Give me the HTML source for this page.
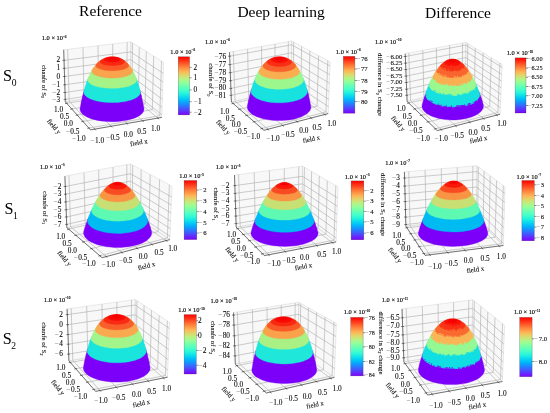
<!DOCTYPE html>
<html><head><meta charset="utf-8"><title>Figure</title>
<style>html,body{margin:0;padding:0;background:#fff}svg{display:block}</style></head>
<body>
<svg width="550" height="413" viewBox="0 0 550 413" font-family='"Liberation Serif", serif' fill="#000">
<defs><linearGradient id="rb" x1="0" y1="1" x2="0" y2="0">
<stop offset="0%" stop-color="#8000ff"/>
<stop offset="6.2%" stop-color="#6030ff"/>
<stop offset="12.5%" stop-color="#3d61ff"/>
<stop offset="18.8%" stop-color="#1690ff"/>
<stop offset="25%" stop-color="#00bbfa"/>
<stop offset="31.2%" stop-color="#0bddec"/>
<stop offset="37.5%" stop-color="#2af6da"/>
<stop offset="43.8%" stop-color="#4cffc5"/>
<stop offset="50%" stop-color="#6fffaf"/>
<stop offset="56.2%" stop-color="#95ff98"/>
<stop offset="62.5%" stop-color="#bbf081"/>
<stop offset="68.8%" stop-color="#e2d56a"/>
<stop offset="75%" stop-color="#ffb254"/>
<stop offset="81.2%" stop-color="#ff8b40"/>
<stop offset="87.5%" stop-color="#ff5e2b"/>
<stop offset="93.8%" stop-color="#ff2f16"/>
<stop offset="100%" stop-color="#ff0000"/>
</linearGradient></defs>
<g>
<path d="M90.5 129.9L161.8 117.4L130.2 91.8L65.3 101.8ZM65.3 101.8L130.2 91.8L130.9 41.8L63.7 49.8ZM161.8 117.4L130.2 91.8L130.9 41.8L163.6 62.3Z" fill="#f8f8f8" stroke="#d4d4d4" stroke-width="0.5"/>
<path d="M94.8 129.2L69.2 101.2L67.7 49.3M88.8 128.1L159.8 115.7L161.5 61M111.1 126.3L84 98.9L83 47.5M82.8 121.4L152.3 109.7L153.7 56.1M127 123.5L98.5 96.7L98 45.7M77.2 115.1L145.1 103.9L146.3 51.5M142.6 120.7L112.7 94.5L112.7 44M71.7 109L138.3 98.4L139.3 47.1M157.9 118.1L126.7 92.4L127.2 42.3M66.6 103.3L131.9 93.1L132.5 42.9M64 60.3L130.7 51.9L163.3 73.4M64.3 68.4L130.6 59.7L163 82M64.5 76.5L130.5 67.5L162.7 90.6M64.8 84.8L130.4 75.4L162.4 99.4M65 92.5L130.4 82.8L162.1 107.5M65.2 99.4L130.3 89.5L161.9 114.8" fill="none" stroke="#ababab" stroke-width="0.6"/>
<path d="M82.5 97.7L82.6 96.6L83.8 91.5L84.2 90.5L84.8 89.4L85.8 88.4L87 87.5L88.5 86.6L90.2 85.7L92.1 84.9L94.3 84.3L96.6 83.6L99 83.1L101.6 82.7L104.3 82.4L107 82.1L109.9 82L112.7 82L115.5 82L118.3 82.2L121 82.5L123.7 82.9L126.2 83.3L128.6 83.9L130.8 84.5L132.9 85.3L134.7 86.1L136.3 87L137.7 87.9L138.8 88.9L139.6 89.9L140.1 90.9L141.4 95.9L141.6 97L141.5 98.2L141.1 99.4L140.4 100.5L139.3 101.6L138 102.7L136.3 103.7L134.3 104.6L132.1 105.4L129.6 106.2L126.9 106.9L124 107.4L121 107.8L117.8 108.1L114.6 108.3L111.4 108.3L108.1 108.3L104.9 108L101.8 107.7L98.9 107.2L96.1 106.6L93.4 105.9L91.1 105.1L88.9 104.2L87.1 103.2L85.5 102.2L84.3 101.1L83.4 100L82.8 98.9ZM81.3 103.3L81.3 102.1L82.5 96.6L82.9 95.4L83.6 94.3L84.6 93.2L85.9 92.2L87.4 91.2L89.2 90.3L91.2 89.5L93.5 88.8L95.9 88.1L98.4 87.6L101.1 87.1L103.9 86.8L106.8 86.5L109.7 86.4L112.7 86.3L115.6 86.4L118.5 86.6L121.4 86.9L124.1 87.3L126.8 87.8L129.3 88.4L131.6 89.1L133.7 89.9L135.7 90.7L137.3 91.6L138.8 92.6L139.9 93.7L140.8 94.8L141.3 95.9L142.6 101.4L142.8 102.6L142.7 103.9L142.3 105.1L141.6 106.3L140.5 107.5L139 108.6L137.3 109.7L135.2 110.7L132.9 111.6L130.3 112.4L127.5 113.1L124.5 113.7L121.3 114.2L118 114.5L114.7 114.7L111.3 114.7L107.9 114.6L104.6 114.4L101.4 114L98.3 113.5L95.3 112.8L92.6 112.1L90.1 111.2L87.9 110.3L86 109.2L84.4 108.1L83.1 107L82.1 105.8L81.5 104.6ZM80 109.5L80.1 108.2L81.3 102.1L81.7 100.9L82.4 99.7L83.5 98.5L84.8 97.5L86.4 96.4L88.3 95.5L90.4 94.6L92.7 93.8L95.2 93.1L97.9 92.5L100.7 92L103.6 91.7L106.6 91.4L109.6 91.2L112.7 91.2L115.7 91.3L118.7 91.5L121.7 91.8L124.6 92.2L127.3 92.8L129.9 93.4L132.3 94.1L134.6 95L136.6 95.9L138.3 96.9L139.8 97.9L141 99L141.9 100.2L142.5 101.4L142.8 102.6L144 108.8L143.9 110.1L143.5 111.4L142.7 112.7L141.6 114L140.1 115.2L138.3 116.3L136.1 117.4L133.7 118.4L131 119.2L128.1 120L125 120.6L121.7 121.1L118.3 121.5L114.8 121.7L111.2 121.7L107.7 121.6L104.2 121.3L100.9 120.9L97.6 120.4L94.6 119.7L91.8 118.9L89.2 118L86.9 116.9L84.9 115.8L83.2 114.7L81.9 113.4L80.9 112.1L80.3 110.8Z" fill="#7c00f9" stroke="#7c00f9" stroke-width="0.35"/>
<path d="M86.4 84L86.5 83L86.8 82.1L88 78.5L88.6 77.7L89.4 76.9L90.4 76.1L91.7 75.3L93.2 74.6L94.9 74L96.7 73.4L98.7 72.9L100.8 72.5L103.1 72.2L105.4 71.9L107.8 71.7L110.2 71.6L112.7 71.6L115.1 71.6L117.6 71.8L119.9 72L122.2 72.3L124.4 72.7L126.5 73.1L128.4 73.7L130.2 74.3L131.8 74.9L133.2 75.7L134.4 76.4L135.3 77.2L136 78.1L136.4 78.9L137.7 82.5L137.9 83.4L137.8 84.4L137.4 85.3L136.8 86.2L135.9 87.1L134.6 88L133.2 88.8L131.4 89.6L129.5 90.3L127.3 90.9L125 91.4L122.5 91.8L119.9 92.2L117.1 92.4L114.4 92.6L111.5 92.6L108.7 92.5L106 92.3L103.3 92.1L100.7 91.7L98.3 91.2L96 90.6L93.9 90L92.1 89.2L90.5 88.5L89.1 87.6L88 86.7L87.2 85.8L86.7 84.9ZM85.1 88.1L85.1 87L86.4 83L86.7 82.1L87.3 81.2L88.2 80.3L89.3 79.4L90.6 78.6L92.2 77.9L93.9 77.2L95.9 76.6L98 76.1L100.2 75.6L102.6 75.2L105 74.9L107.5 74.7L110.1 74.6L112.7 74.6L115.3 74.7L117.8 74.8L120.3 75.1L122.7 75.4L125 75.8L127.2 76.3L129.2 76.9L131.1 77.5L132.8 78.2L134.2 79L135.5 79.8L136.5 80.7L137.2 81.6L137.7 82.5L139 86.5L139.2 87.5L139.1 88.5L138.7 89.5L138 90.5L137 91.5L135.8 92.4L134.2 93.3L132.4 94.1L130.4 94.8L128.1 95.5L125.6 96L123 96.5L120.2 96.9L117.4 97.1L114.4 97.3L111.5 97.3L108.5 97.2L105.6 97L102.8 96.7L100.1 96.3L97.5 95.8L95.1 95.2L93 94.5L91 93.7L89.3 92.9L87.9 92L86.8 91L85.9 90.1L85.4 89.1ZM83.8 92.6L83.9 91.5L85.1 87L85.5 86L86.1 85.1L87 84.1L88.1 83.2L89.5 82.4L91.2 81.6L93 80.9L95.1 80.2L97.3 79.6L99.6 79.1L102.1 78.7L104.7 78.4L107.3 78.2L110 78.1L112.7 78.1L115.4 78.1L118.1 78.3L120.7 78.6L123.2 78.9L125.6 79.4L127.9 79.9L130 80.5L132 81.2L133.8 81.9L135.3 82.7L136.6 83.6L137.6 84.5L138.4 85.5L138.9 86.5L140.2 90.9L140.4 92L140.3 93.1L139.9 94.2L139.2 95.2L138.2 96.3L136.9 97.3L135.3 98.2L133.4 99.1L131.2 99.9L128.8 100.6L126.3 101.2L123.5 101.7L120.6 102.1L117.6 102.4L114.5 102.5L111.4 102.6L108.3 102.5L105.3 102.3L102.3 101.9L99.5 101.5L96.8 100.9L94.3 100.3L92 99.5L90 98.7L88.2 97.8L86.7 96.8L85.5 95.8L84.6 94.8L84.1 93.7Z" fill="#1de7db" stroke="#1de7db" stroke-width="0.35"/>
<path d="M133.9 73L134 73.7L134 74.5L133.6 75.3L133.1 76L132.3 76.7L131.2 77.4L130 78.1L128.5 78.7L126.9 79.2L125 79.7L123 80.2L120.9 80.5L118.7 80.8L116.4 81L114.1 81.1L111.7 81.1L109.4 81L107 80.9L104.8 80.7L102.6 80.4L100.5 80L98.6 79.5L96.9 79L95.3 78.4L93.9 77.8L92.8 77.1L91.8 76.4L91.1 75.7L90.7 74.9L90.4 74.2L90.4 73.4L90.7 72.6L92 70.2L92.5 69.5L93.1 68.9L94 68.2L95 67.6L96.3 67.1L97.7 66.6L99.2 66.1L100.9 65.7L102.7 65.3L104.6 65L106.5 64.8L108.6 64.7L110.6 64.6L112.7 64.6L114.7 64.6L116.8 64.7L118.8 64.9L120.7 65.2L122.6 65.5L124.3 65.9L125.9 66.3L127.4 66.8L128.7 67.3L129.9 67.9L130.9 68.5L131.7 69.2L132.2 69.8L133.5 72.2ZM135.2 75.8L135.3 76.6L135.3 77.4L134.9 78.2L134.3 79L133.5 79.8L132.4 80.5L131 81.3L129.5 81.9L127.7 82.5L125.8 83L123.7 83.5L121.5 83.9L119.1 84.2L116.7 84.4L114.2 84.5L111.7 84.5L109.1 84.5L106.7 84.3L104.3 84.1L102 83.7L99.8 83.3L97.7 82.8L95.9 82.3L94.2 81.6L92.8 80.9L91.5 80.2L90.5 79.5L89.8 78.7L89.3 77.9L89.1 77L89.1 76.2L89.4 75.4L90.7 72.6L91.2 71.9L91.9 71.2L92.8 70.5L93.9 69.9L95.2 69.3L96.7 68.7L98.4 68.2L100.2 67.8L102.1 67.4L104.1 67.1L106.2 66.8L108.3 66.7L110.5 66.6L112.7 66.6L114.9 66.6L117.1 66.7L119.2 66.9L121.2 67.2L123.2 67.5L125.1 68L126.8 68.4L128.4 68.9L129.8 69.5L131 70.1L132 70.8L132.9 71.5L133.5 72.2L133.9 73ZM136.5 78.9L136.6 79.8L136.5 80.7L136.2 81.6L135.6 82.4L134.7 83.3L133.5 84.1L132.1 84.8L130.5 85.5L128.6 86.2L126.6 86.7L124.3 87.2L122 87.6L119.5 88L116.9 88.2L114.3 88.3L111.6 88.3L108.9 88.3L106.3 88.1L103.8 87.8L101.3 87.5L99 87L96.9 86.5L94.9 85.9L93.1 85.2L91.6 84.5L90.3 83.7L89.3 82.9L88.5 82L88 81.2L87.7 80.3L87.8 79.4L88.1 78.5L89.4 75.4L89.9 74.6L90.6 73.9L91.6 73.1L92.8 72.4L94.2 71.8L95.8 71.2L97.5 70.6L99.4 70.2L101.4 69.8L103.6 69.4L105.8 69.2L108 69L110.4 68.9L112.7 68.9L115 68.9L117.3 69.1L119.6 69.3L121.7 69.6L123.8 69.9L125.8 70.4L127.6 70.9L129.3 71.4L130.8 72L132.1 72.7L133.2 73.4L134.1 74.2L134.7 75L135.2 75.8Z" fill="#a6f387" stroke="#a6f387" stroke-width="0.35"/>
<path d="M99.8 71.3L98.5 70.8L97.4 70.3L96.5 69.8L95.7 69.2L95.1 68.6L94.7 68.1L94.5 67.5L94.5 66.9L94.7 66.3L95.1 65.7L96.4 64.1L96.9 63.6L97.6 63.1L98.4 62.6L99.4 62.2L100.5 61.8L101.8 61.4L103.1 61.1L104.6 60.8L106.1 60.6L107.7 60.4L109.3 60.3L111 60.2L112.7 60.2L114.3 60.3L116 60.4L117.6 60.5L119.1 60.7L120.6 61L122 61.3L123.3 61.6L124.5 62L125.6 62.4L126.5 62.8L127.3 63.3L127.9 63.8L128.4 64.4L129.7 65.9L130 66.5L130.1 67.1L130 67.7L129.7 68.3L129.3 68.9L128.6 69.5L127.7 70L126.7 70.5L125.5 71L124.2 71.4L122.7 71.8L121.1 72.2L119.3 72.4L117.6 72.6L115.7 72.8L113.8 72.9L111.9 72.9L110 72.8L108.1 72.7L106.2 72.6L104.5 72.3L102.8 72L101.2 71.7ZM128.5 64.8L129.2 65.4L129.7 65.9L131 67.7L131.3 68.4L131.4 69L131.3 69.7L131 70.3L130.5 71L129.8 71.6L128.9 72.2L127.8 72.7L126.5 73.3L125.1 73.7L123.5 74.1L121.7 74.5L119.9 74.8L117.9 75L115.9 75.2L113.9 75.3L111.8 75.3L109.8 75.3L107.7 75.1L105.7 74.9L103.8 74.7L102 74.4L100.4 74L98.8 73.5L97.4 73L96.2 72.5L95.2 71.9L94.4 71.3L93.8 70.7L93.3 70.1L93.1 69.4L93.1 68.7L93.4 68.1L93.8 67.5L95.1 65.7L95.6 65.1L96.4 64.6L97.3 64.1L98.4 63.6L99.6 63.1L100.9 62.7L102.4 62.4L103.9 62.1L105.6 61.8L107.3 61.6L109.1 61.5L110.9 61.4L112.7 61.4L114.5 61.5L116.3 61.6L118 61.7L119.7 61.9L121.3 62.2L122.8 62.5L124.2 62.9L125.5 63.3L126.7 63.8L127.7 64.3ZM129.7 66.5L130.4 67.1L130.9 67.7L132.2 69.8L132.6 70.5L132.7 71.2L132.7 71.9L132.3 72.6L131.8 73.3L131 74L130.1 74.6L128.9 75.2L127.5 75.8L126 76.3L124.2 76.8L122.4 77.2L120.4 77.5L118.3 77.7L116.2 77.9L114 78L111.8 78L109.6 78L107.4 77.9L105.3 77.6L103.2 77.4L101.3 77L99.5 76.6L97.8 76.1L96.4 75.6L95.1 75L94 74.4L93.1 73.7L92.4 73L92 72.3L91.8 71.6L91.8 70.9L92 70.2L93.3 68.1L93.8 67.5L94.4 66.9L95.2 66.3L96.2 65.7L97.3 65.2L98.6 64.7L100.1 64.3L101.6 63.9L103.3 63.6L105.1 63.3L106.9 63.1L108.8 63L110.7 62.9L112.7 62.9L114.6 62.9L116.5 63L118.4 63.2L120.2 63.4L121.9 63.7L123.6 64.1L125.1 64.5L126.5 64.9L127.7 65.4L128.8 65.9Z" fill="#f9a54d" stroke="#f9a54d" stroke-width="0.35"/>
<path d="M97.9 63.2L98.1 62.7L98.4 62.2L98.8 61.8L100.7 60.4L101.3 60L101.9 59.7L102.6 59.4L103.5 59.1L104.4 58.8L105.4 58.5L106.5 58.3L107.6 58.2L108.8 58L110.1 57.9L111.3 57.9L112.6 57.9L113.9 57.9L115.1 58L116.3 58.1L117.5 58.2L118.6 58.4L119.7 58.6L120.7 58.9L121.6 59.2L122.4 59.5L123.1 59.8L123.6 60.2L125.5 61.5L126 62L126.4 62.4L126.7 62.9L126.7 63.4L126.7 63.9L126.4 64.3L126 64.8L125.5 65.3L124.8 65.7L124 66.1L123 66.5L121.9 66.8L120.7 67.1L119.4 67.4L118 67.6L116.6 67.8L115.1 67.9L113.5 67.9L112 68L110.5 67.9L108.9 67.8L107.5 67.7L106 67.5L104.7 67.3L103.4 67L102.3 66.7L101.2 66.3L100.3 65.9L99.5 65.5L98.9 65.1L98.4 64.6L98.1 64.1L97.9 63.7ZM98.8 61.8L99.4 61.4L100.1 61L101 60.6L102 60.2L103.1 59.9L104.3 59.6L105.5 59.4L106.9 59.2L108.3 59L109.7 58.9L111.2 58.9L112.6 58.8L114.1 58.9L115.5 59L117 59.1L118.3 59.3L119.6 59.5L120.9 59.7L122 60L123.1 60.4L124 60.7L124.8 61.1L125.5 61.5L126 62L127.9 63.8L128.4 64.4L128.7 64.9L128.8 65.5L128.7 66L128.4 66.6L128 67.1L127.4 67.6L126.6 68.1L125.6 68.6L124.5 69L123.3 69.4L121.9 69.8L120.4 70.1L118.8 70.3L117.2 70.5L115.4 70.6L113.7 70.7L111.9 70.7L110.2 70.7L108.4 70.6L106.7 70.4L105.1 70.2L103.6 69.9L102.1 69.6L100.8 69.2L99.6 68.8L98.6 68.4L97.7 67.9L97 67.4L96.4 66.9L96.1 66.3L95.9 65.8L95.9 65.2L96.1 64.7L96.4 64.1L96.9 63.6Z" fill="#f95b29" stroke="#f95b29" stroke-width="0.35"/>
<path d="M122.6 60.2L122.7 60.5L122.6 60.8L122.4 61.2L122.2 61.5L121.8 61.8L121.3 62.1L120.7 62.4L120 62.7L119.2 62.9L118.3 63.1L117.4 63.3L116.4 63.4L115.4 63.6L114.3 63.6L113.2 63.7L112.1 63.7L111 63.7L110 63.6L108.9 63.5L107.9 63.4L106.9 63.2L106 63L105.2 62.8L104.5 62.5L103.8 62.3L103.2 62L102.8 61.7L102.4 61.4L102.2 61L102.1 60.7L102.1 60.4L102.2 60L102.4 59.7L102.7 59.4L103.1 59.1L103.6 58.8L104.2 58.5L105 58.3L106.4 57.8L107 57.6L107.7 57.4L108.5 57.3L109.2 57.2L110 57.1L110.9 57L111.7 57L112.6 57L113.4 57L114.2 57L115.1 57.1L115.9 57.2L116.6 57.3L117.3 57.5L118 57.6L118.6 57.8L120.1 58.4L120.8 58.6L121.3 58.9L121.8 59.2L122.2 59.5L122.5 59.8ZM112.1 65.6L110.7 65.6L109.4 65.5L108.2 65.4L107 65.2L105.8 65L104.7 64.8L103.7 64.5L102.8 64.2L102.1 63.9L101.4 63.6L100.9 63.2L100.4 62.8L100.2 62.4L100 62L100 61.6L100.1 61.2L100.4 60.8L100.8 60.4L101.3 60L101.9 59.7L103.6 58.8L104.2 58.5L104.9 58.3L105.7 58L106.6 57.8L107.5 57.7L108.4 57.5L109.4 57.4L110.5 57.3L111.5 57.3L112.6 57.3L113.6 57.3L114.7 57.4L115.7 57.4L116.7 57.6L117.6 57.7L118.5 57.9L119.3 58.1L120.1 58.4L120.7 58.6L121.3 58.9L123.1 59.8L123.7 60.2L124.1 60.6L124.5 61L124.7 61.4L124.7 61.8L124.6 62.2L124.4 62.6L124.1 63L123.6 63.3L123 63.7L122.3 64.1L121.5 64.4L120.5 64.7L119.5 64.9L118.4 65.1L117.2 65.3L116 65.5L114.7 65.6L113.4 65.6Z" fill="#f92913" stroke="#f92913" stroke-width="0.35"/>
<path d="M112.2 60.7L111.6 60.7L111 60.7L110.3 60.6L109.7 60.6L109.1 60.5L108.6 60.3L108.1 60.2L107.7 60.1L107.3 59.9L106.9 59.7L106.7 59.5L106.4 59.4L106.3 59.2L106.2 59L106.2 58.8L106.3 58.6L106.4 58.4L106.6 58.2L106.8 58L107.1 57.8L107.5 57.7L107.9 57.5L108.4 57.4L108.9 57.3L109.4 57.1L110 57.1L110.6 57L111.3 56.9L111.9 56.9L112.5 56.9L113.2 56.9L113.8 57L114.4 57L115 57.1L115.6 57.2L116.1 57.3L116.6 57.4L117.1 57.6L117.5 57.7L117.8 57.9L118.1 58.1L118.3 58.3L118.5 58.5L118.6 58.7L118.6 58.9L118.5 59.1L118.4 59.2L118.3 59.4L118 59.6L117.7 59.8L117.3 60L116.9 60.1L116.5 60.3L115.9 60.4L115.4 60.5L114.8 60.6L114.2 60.7L113.6 60.7L112.9 60.7ZM112.2 62.1L111.3 62.1L110.5 62L109.6 61.9L108.8 61.8L108 61.7L107.3 61.5L106.7 61.4L106.1 61.2L105.5 61L105.1 60.7L104.7 60.5L104.4 60.2L104.2 60L104.1 59.7L104.1 59.4L104.2 59.2L104.4 58.9L104.6 58.6L105 58.4L105.4 58.2L105.9 58L106.4 57.8L107.1 57.6L107.7 57.4L108.5 57.3L109.2 57.2L110 57.1L110.6 57L111.2 56.9L111.9 56.9L112.5 56.9L113.2 56.9L113.8 57L114.4 57L115 57.1L115.9 57.2L116.6 57.3L117.3 57.5L118 57.6L118.6 57.8L119.1 58L119.6 58.3L120 58.5L120.3 58.8L120.5 59L120.6 59.3L120.6 59.5L120.6 59.8L120.4 60.1L120.2 60.3L119.9 60.6L119.5 60.8L119 61L118.4 61.3L117.8 61.4L117.1 61.6L116.4 61.8L115.6 61.9L114.8 62L113.9 62L113.1 62.1Z" fill="#f90d06" stroke="#f90d06" stroke-width="0.35"/>
<path d="M112.3 59.6L111.9 59.6L111.4 59.6L111 59.6L110.6 59.5L110.2 59.4L109.9 59.4L109.5 59.3L109.3 59.2L109 59.1L108.8 59L108.6 58.8L108.4 58.7L108.3 58.6L108.3 58.5L108.3 58.3L108.3 58.2L108.4 58.1L108.5 57.9L108.7 57.8L108.9 57.7L109.1 57.6L109.4 57.5L109.7 57.4L110.1 57.3L110.4 57.2L110.8 57.2L111.2 57.1L111.6 57.1L112.1 57.1L112.5 57.1L112.9 57.1L113.3 57.1L113.8 57.2L114.2 57.2L114.5 57.3L114.9 57.3L115.2 57.4L115.5 57.5L115.8 57.6L116 57.7L116.2 57.9L116.3 58L116.4 58.1L116.5 58.2L116.5 58.4L116.5 58.5L116.4 58.6L116.3 58.8L116.1 58.9L115.9 59L115.7 59.1L115.4 59.2L115.1 59.3L114.8 59.4L114.4 59.5L114 59.5L113.6 59.6L113.2 59.6L112.7 59.6Z" fill="#f90000" stroke="#f90000" stroke-width="0.35"/>
<path d="M63.7 49.8L65.3 101.8L90.5 129.9L161.8 117.4" fill="none" stroke="#333" stroke-width="0.65"/>
<path d="M94 128.3L95.8 130.3M90 127.9L87.3 128.4M110.2 125.4L112.2 127.4M84 121.2L81.3 121.7M126.1 122.7L128.2 124.6M78.3 114.9L75.6 115.3M141.7 120L143.8 121.8M72.9 108.8L70.2 109.3M156.9 117.3L159.1 119.1M67.8 103.1L65 103.5M62.4 60.3L65.2 60.3M62.7 68.4L65.5 68.4M62.9 76.5L65.7 76.5M63.2 84.8L66 84.8M63.4 92.5L66.2 92.5M63.6 99.4L66.4 99.4" fill="none" stroke="#333" stroke-width="0.6"/>
<g font-size="7.3" text-anchor="middle" stroke="#111" stroke-width="0.08"><text x="60.2" y="62.4" text-anchor="end">2</text><text x="60.2" y="70.4" text-anchor="end">1</text><text x="60.2" y="78.5" text-anchor="end">0</text><text x="60.2" y="86.8" text-anchor="end"><tspan fill="#6a6a6a" stroke="none">−</tspan><tspan dx="0.5">1</tspan></text><text x="60.2" y="94.6" text-anchor="end"><tspan fill="#6a6a6a" stroke="none">−</tspan><tspan dx="0.5">2</tspan></text><text x="60.2" y="101.7" text-anchor="end"><tspan fill="#6a6a6a" stroke="none">−</tspan><tspan dx="0.5">3</tspan></text><text x="58.5" y="111.6">1.0</text><text x="64.5" y="119.2">0.5</text><text x="68.3" y="126.3">0.0</text><text x="72.5" y="133.9"><tspan fill="#6a6a6a" stroke="none">−</tspan><tspan dx="0.5">0.5</tspan></text><text x="78.7" y="140.5"><tspan fill="#6a6a6a" stroke="none">−</tspan><tspan dx="0.5">1.0</tspan></text><text x="97.2" y="142.6"><tspan fill="#6a6a6a" stroke="none">−</tspan><tspan dx="0.5">1.0</tspan></text><text x="112.7" y="140.1"><tspan fill="#6a6a6a" stroke="none">−</tspan><tspan dx="0.5">0.5</tspan></text><text x="128.3" y="136.9">0.0</text><text x="141.9" y="133.6">0.5</text><text x="155.6" y="131.1">1.0</text></g>
<g font-size="6.8" text-anchor="middle" stroke="#111" stroke-width="0.08"><text transform="translate(138.9 143) rotate(-10.5)" y="1.7">field x</text><text transform="translate(53.6 126.8) rotate(50)" y="1.7">field y</text><text transform="translate(43.7 81.6) rotate(90)" y="1.7">chanfe of S<tspan font-size="4.4" dy="1.4">0</tspan><tspan dy="-1.4"></tspan></text></g>
<text x="41.8" y="40.1" font-size="6.4" stroke="#111" stroke-width="0.16">1.0 × 10<tspan font-size="3.3" dy="-2.5">−6</tspan></text>
<rect x="178.2" y="56.8" width="11.4" height="58.1" fill="url(#rb)" stroke="#222" stroke-opacity="0.55" stroke-width="0.4"/>
<path d="M189.6 67.4h2M189.6 77.8h2M189.6 89.9h2M189.6 101.7h2M189.6 112.2h2" fill="none" stroke="#333" stroke-width="0.55"/>
<g font-size="7.3149999999999995" stroke="#111" stroke-width="0.08"><text x="193.4" y="69.8">2</text><text x="193.4" y="80.2">1</text><text x="193.4" y="92.3">0</text><text x="193.4" y="104.1"><tspan fill="#6a6a6a" stroke="none">−</tspan><tspan dx="0.5">1</tspan></text><text x="193.4" y="114.6"><tspan fill="#6a6a6a" stroke="none">−</tspan><tspan dx="0.5">2</tspan></text></g>
<text x="182.7" y="53.5" font-size="6.4" text-anchor="middle" stroke="#111" stroke-width="0.16">1.0 × 10<tspan font-size="3.3" dy="-2.5">−6</tspan></text>
</g>
<g>
<path d="M263.9 130.3L328.2 113.6L291.2 88.4L231.4 102ZM231.4 102L291.2 88.4L291.6 41L229.5 52.2ZM328.2 113.6L291.2 88.4L291.6 41L330.2 61.9Z" fill="#f8f8f8" stroke="#d4d4d4" stroke-width="0.5"/>
<path d="M267.8 129.3L235 101.1L233.3 51.5M261.9 128.5L325.9 112L327.8 60.6M282.7 125.4L248.7 98L247.6 49M254.1 121.8L317.1 106.1L318.6 55.6M297.1 121.7L262.1 95L261.5 46.5M246.8 115.4L308.8 100.4L309.9 50.9M311.1 118L275.2 92.1L275 44M239.7 109.3L300.8 95L301.6 46.4M324.7 114.5L287.9 89.2L288.3 41.6M233 103.4L293.1 89.8L293.6 42.1M229.7 56.2L291.6 44.8L330.1 66.1M230 64.6L291.5 52.8L329.7 74.7M230.3 72.7L291.5 60.5L329.4 83.2M230.6 80.7L291.4 68.1L329.1 91.5M230.9 88.4L291.3 75.5L328.8 99.5M231.1 95.3L291.2 82.1L328.5 106.7" fill="none" stroke="#ababab" stroke-width="0.6"/>
<path d="M249.8 96.7L249.8 95.5L251 90.8L251.4 89.7L252 88.5L252.9 87.4L254.1 86.3L255.5 85.3L257.2 84.4L259.1 83.6L261.2 82.8L263.5 82.1L265.9 81.5L268.5 81L271.1 80.7L273.9 80.4L276.6 80.2L279.5 80.2L282.3 80.3L285 80.4L287.8 80.7L290.4 81.1L292.9 81.6L295.3 82.2L297.6 82.9L299.6 83.7L301.5 84.6L303.1 85.5L304.5 86.6L305.7 87.6L306.5 88.7L307.1 89.9L308.3 94.5L308.6 95.7L308.5 97L308.2 98.2L307.5 99.5L306.4 100.7L305.1 101.9L303.5 103L301.5 104L299.3 104.9L296.9 105.8L294.2 106.5L291.4 107.1L288.4 107.6L285.3 108L282.1 108.2L278.8 108.2L275.6 108.1L272.4 107.9L269.3 107.5L266.3 107L263.5 106.4L260.9 105.6L258.5 104.8L256.4 103.8L254.5 102.7L252.9 101.6L251.7 100.4L250.7 99.2L250.1 98ZM248.5 101.9L248.6 100.5L249.8 95.5L250.1 94.2L250.8 93L251.7 91.8L253 90.7L254.5 89.6L256.2 88.6L258.2 87.7L260.4 86.9L262.8 86.2L265.3 85.6L268 85L270.8 84.6L273.6 84.4L276.5 84.2L279.4 84.1L282.4 84.2L285.3 84.4L288.1 84.7L290.8 85.1L293.5 85.7L296 86.3L298.3 87.1L300.5 87.9L302.4 88.8L304.1 89.8L305.6 90.9L306.8 92L307.7 93.2L308.3 94.5L309.4 99.5L309.7 100.8L309.7 102.2L309.3 103.5L308.6 104.8L307.6 106.1L306.2 107.4L304.5 108.5L302.5 109.6L300.2 110.6L297.6 111.5L294.9 112.3L291.9 113L288.7 113.5L285.5 113.9L282.2 114.1L278.8 114.1L275.4 114L272.1 113.8L268.9 113.4L265.8 112.9L262.8 112.2L260.1 111.4L257.6 110.4L255.4 109.4L253.4 108.3L251.8 107.1L250.5 105.8L249.5 104.5L248.8 103.2ZM247.3 107.5L247.3 106.1L248.5 100.5L248.9 99.2L249.6 97.9L250.6 96.7L251.9 95.5L253.5 94.3L255.3 93.3L257.4 92.3L259.6 91.5L262.1 90.7L264.7 90L267.5 89.5L270.4 89.1L273.4 88.8L276.4 88.6L279.4 88.5L282.5 88.6L285.5 88.8L288.4 89.1L291.3 89.6L294 90.2L296.6 90.8L299.1 91.6L301.3 92.5L303.3 93.5L305.1 94.6L306.6 95.7L307.9 96.9L308.8 98.2L309.4 99.5L309.7 100.8L310.9 106.4L310.9 107.8L310.5 109.3L309.8 110.7L308.7 112L307.2 113.4L305.5 114.6L303.4 115.8L301 116.9L298.3 117.8L295.5 118.7L292.4 119.4L289.1 119.9L285.7 120.3L282.2 120.5L278.7 120.6L275.2 120.5L271.8 120.2L268.4 119.8L265.2 119.2L262.1 118.5L259.3 117.6L256.7 116.7L254.4 115.6L252.3 114.4L250.7 113.1L249.3 111.8L248.3 110.4L247.6 109Z" fill="#7c00f9" stroke="#7c00f9" stroke-width="0.35"/>
<path d="M304.7 82.1L304.9 83.1L304.8 84.1L304.5 85.2L303.9 86.2L303 87.2L301.8 88.2L300.4 89.1L298.7 89.9L296.8 90.7L294.6 91.4L292.3 92L289.8 92.5L287.2 92.9L284.5 93.1L281.8 93.3L279 93.4L276.2 93.3L273.4 93.1L270.7 92.8L268.1 92.4L265.7 91.9L263.4 91.2L261.3 90.5L259.5 89.7L257.8 88.9L256.4 88L255.3 87L254.5 86L253.9 85L253.6 83.9L253.6 82.9L253.9 81.8L255.2 78.5L255.7 77.6L256.5 76.7L257.5 75.8L258.7 75L260.2 74.2L261.8 73.5L263.6 72.8L265.6 72.3L267.7 71.8L269.9 71.4L272.3 71.1L274.6 70.8L277.1 70.7L279.5 70.7L281.9 70.7L284.4 70.9L286.7 71.1L289 71.4L291.2 71.9L293.3 72.4L295.2 73L297 73.6L298.6 74.3L300 75.1L301.2 76L302.2 76.8L302.9 77.8L303.4 78.7ZM304.1 81L304.6 82.1L305.9 85.8L306.1 86.9L306.1 88L305.7 89.1L305.1 90.2L304.1 91.3L302.9 92.3L301.4 93.3L299.6 94.2L297.6 95L295.4 95.7L293 96.4L290.4 96.9L287.6 97.3L284.8 97.6L281.9 97.8L278.9 97.9L276 97.8L273.1 97.6L270.2 97.3L267.5 96.8L265 96.3L262.6 95.6L260.4 94.8L258.4 94L256.7 93.1L255.3 92.1L254.1 91L253.2 90L252.6 88.9L252.3 87.8L252.3 86.6L252.6 85.5L253.9 81.8L254.5 80.8L255.3 79.9L256.3 78.9L257.7 78L259.2 77.2L260.9 76.5L262.8 75.8L264.9 75.2L267.1 74.6L269.4 74.2L271.9 73.9L274.4 73.6L276.9 73.5L279.5 73.5L282.1 73.5L284.6 73.7L287.1 73.9L289.5 74.3L291.8 74.7L294 75.3L296 75.9L297.9 76.6L299.6 77.4L301.1 78.2L302.3 79.1L303.4 80.1ZM305.3 84.7L305.9 85.8L307.1 89.9L307.4 91.1L307.3 92.3L307 93.4L306.3 94.6L305.3 95.8L304 96.8L302.4 97.9L300.6 98.9L298.5 99.7L296.2 100.5L293.6 101.2L290.9 101.8L288 102.2L285 102.6L282 102.8L278.9 102.8L275.8 102.7L272.7 102.5L269.8 102.2L266.9 101.7L264.2 101.1L261.7 100.4L259.4 99.6L257.4 98.7L255.6 97.7L254.1 96.6L252.9 95.5L251.9 94.4L251.3 93.2L251 92L251.1 90.8L251.4 89.7L252.6 85.5L253.2 84.5L254.1 83.4L255.2 82.4L256.6 81.5L258.2 80.6L260 79.8L262 79.1L264.2 78.4L266.5 77.9L269 77.4L271.5 77.1L274.1 76.8L276.8 76.7L279.5 76.6L282.2 76.7L284.8 76.9L287.4 77.1L290 77.5L292.4 78L294.7 78.6L296.8 79.2L298.8 80L300.6 80.8L302.1 81.7L303.4 82.6L304.5 83.6Z" fill="#17e2df" stroke="#17e2df" stroke-width="0.35"/>
<path d="M257.6 73.7L257.8 72.9L259.1 70.6L259.5 69.8L260.2 69L261 68.3L262.1 67.7L263.3 67L264.6 66.5L266.2 65.9L267.8 65.5L269.6 65.1L271.5 64.7L273.4 64.5L275.4 64.3L277.5 64.2L279.5 64.2L281.6 64.2L283.6 64.3L285.6 64.5L287.6 64.8L289.4 65.1L291.2 65.6L292.8 66L294.3 66.6L295.6 67.2L296.8 67.8L297.8 68.5L298.6 69.2L299.2 70L300.5 72.2L300.9 73.1L301.1 73.9L301 74.8L300.7 75.6L300.2 76.4L299.4 77.3L298.4 78L297.1 78.8L295.7 79.4L294.1 80.1L292.3 80.6L290.3 81.1L288.2 81.5L286 81.8L283.8 82.1L281.4 82.2L279.1 82.2L276.7 82.2L274.4 82L272.1 81.8L269.9 81.4L267.9 81L266 80.5L264.2 79.9L262.6 79.3L261.2 78.6L260 77.9L259.1 77.1L258.3 76.3L257.9 75.4L257.6 74.6ZM256.3 76.4L256.5 75.5L257.8 72.9L258.3 72.1L258.9 71.3L259.8 70.5L260.9 69.8L262.2 69.1L263.7 68.5L265.3 67.9L267.1 67.4L269 67L271 66.7L273 66.4L275.2 66.2L277.3 66.1L279.5 66L281.7 66.1L283.9 66.2L286 66.4L288.1 66.7L290 67.1L291.9 67.5L293.6 68L295.2 68.6L296.6 69.2L297.9 69.9L299 70.7L299.8 71.4L300.4 72.2L300.9 73.1L302.2 75.7L302.3 76.6L302.3 77.5L302 78.5L301.4 79.3L300.6 80.2L299.5 81.1L298.2 81.8L296.7 82.6L295 83.3L293.1 83.8L291 84.4L288.8 84.8L286.4 85.1L284 85.4L281.5 85.5L279 85.6L276.5 85.5L274.1 85.3L271.7 85.1L269.3 84.7L267.1 84.3L265.1 83.7L263.2 83.1L261.5 82.4L260.1 81.7L258.8 80.9L257.8 80L257 79.2L256.5 78.3L256.3 77.4ZM254.9 79.5L255.2 78.5L256.5 75.5L257 74.7L257.7 73.8L258.7 73L259.8 72.2L261.2 71.5L262.8 70.8L264.5 70.2L266.3 69.7L268.3 69.2L270.4 68.9L272.6 68.6L274.9 68.4L277.2 68.2L279.5 68.2L281.8 68.2L284.1 68.4L286.4 68.6L288.5 68.9L290.6 69.3L292.6 69.8L294.4 70.3L296.1 71L297.6 71.6L299 72.4L300.1 73.2L301 74L301.7 74.8L302.1 75.7L303.4 78.7L303.6 79.7L303.6 80.7L303.2 81.6L302.6 82.6L301.8 83.5L300.7 84.4L299.3 85.3L297.7 86.1L295.9 86.8L293.9 87.4L291.7 88L289.3 88.4L286.8 88.8L284.3 89.1L281.7 89.2L279 89.3L276.3 89.2L273.7 89L271.2 88.7L268.7 88.4L266.4 87.9L264.3 87.3L262.3 86.6L260.5 85.9L258.9 85.1L257.6 84.2L256.6 83.3L255.8 82.4L255.2 81.4L254.9 80.5Z" fill="#9cf78d" stroke="#9cf78d" stroke-width="0.35"/>
<path d="M279.2 74L277.3 74L275.4 73.9L273.5 73.7L271.8 73.4L270.1 73.1L268.5 72.7L267.1 72.2L265.8 71.7L264.6 71.2L263.7 70.6L262.9 70L262.3 69.3L261.9 68.7L261.7 68L261.6 67.3L261.8 66.7L262.2 66L263.5 64.5L264 63.9L264.6 63.4L265.5 62.8L266.4 62.3L267.5 61.9L268.7 61.5L270.1 61.1L271.5 60.8L273 60.5L274.6 60.3L276.2 60.2L277.9 60.1L279.5 60.1L281.2 60.1L282.9 60.2L284.5 60.3L286 60.6L287.5 60.8L288.9 61.2L290.2 61.5L291.4 62L292.5 62.4L293.5 62.9L294.3 63.5L294.9 64L296.1 65.5L296.7 66.2L297 66.8L297.1 67.5L297.1 68.2L296.8 68.8L296.3 69.5L295.7 70.1L294.9 70.7L293.9 71.3L292.7 71.8L291.4 72.3L289.9 72.8L288.3 73.1L286.6 73.5L284.8 73.7L283 73.9L281.1 74ZM279.1 76.5L277.1 76.4L275 76.3L273.1 76.1L271.2 75.8L269.4 75.4L267.7 75L266.1 74.5L264.7 74L263.5 73.4L262.5 72.8L261.6 72.1L261 71.4L260.5 70.7L260.3 69.9L260.3 69.2L260.5 68.5L260.9 67.8L262.1 66L262.7 65.4L263.4 64.8L264.3 64.2L265.4 63.7L266.6 63.2L267.9 62.7L269.3 62.3L270.9 62L272.5 61.7L274.2 61.5L276 61.3L277.7 61.2L279.5 61.2L281.3 61.2L283.1 61.3L284.9 61.5L286.5 61.7L288.2 62L289.7 62.4L291.1 62.8L292.4 63.3L293.6 63.8L294.6 64.3L295.4 64.9L296.1 65.5L296.6 66.2L297.9 67.9L298.3 68.6L298.4 69.4L298.4 70.1L298.1 70.8L297.6 71.5L296.9 72.2L296 72.9L295 73.5L293.7 74.1L292.3 74.6L290.7 75.1L289 75.5L287.2 75.9L285.2 76.1L283.2 76.3L281.2 76.4ZM261.4 67.1L262.2 66.4L263.2 65.8L264.3 65.2L265.6 64.7L267 64.2L268.6 63.8L270.2 63.4L272 63.1L273.8 62.9L275.7 62.7L277.6 62.6L279.5 62.6L281.5 62.6L283.4 62.7L285.2 62.9L287.1 63.2L288.8 63.5L290.4 63.9L292 64.3L293.4 64.8L294.6 65.3L295.7 65.9L296.6 66.6L297.4 67.2L297.9 67.9L299.2 70L299.6 70.7L299.8 71.5L299.7 72.3L299.4 73.1L298.9 73.8L298.2 74.6L297.2 75.3L296.1 76L294.7 76.6L293.2 77.2L291.5 77.7L289.7 78.2L287.7 78.5L285.6 78.8L283.5 79L281.3 79.2L279.1 79.2L276.9 79.1L274.7 79L272.6 78.8L270.6 78.5L268.6 78.1L266.8 77.6L265.2 77.1L263.7 76.5L262.4 75.9L261.2 75.2L260.3 74.4L259.7 73.7L259.2 72.9L258.9 72.1L258.9 71.3L259.1 70.6L259.6 69.8L260.8 67.8Z" fill="#f9ae52" stroke="#f9ae52" stroke-width="0.35"/>
<path d="M279.2 68.9L277.7 68.9L276.2 68.8L274.7 68.6L273.3 68.4L271.9 68.2L270.7 67.9L269.5 67.5L268.4 67.1L267.5 66.7L266.7 66.2L266.1 65.7L265.6 65.2L265.2 64.7L265.1 64.2L265 63.6L265.2 63.1L265.4 62.6L265.9 62.1L266.5 61.6L268.3 60.2L268.9 59.8L269.6 59.5L270.4 59.1L271.4 58.8L272.4 58.6L273.5 58.3L274.6 58.1L275.8 58L277 57.9L278.3 57.8L279.5 57.8L280.8 57.8L282 57.9L283.3 58L284.4 58.2L285.6 58.4L286.6 58.6L287.6 58.9L288.5 59.2L289.3 59.6L290 59.9L290.6 60.3L292.5 61.7L293 62.2L293.4 62.7L293.7 63.2L293.8 63.8L293.7 64.3L293.5 64.8L293.1 65.3L292.6 65.8L291.9 66.3L291.1 66.8L290.1 67.2L289.1 67.6L287.9 67.9L286.6 68.2L285.2 68.5L283.8 68.7L282.3 68.8L280.8 68.9ZM263 65.7L263.1 65.1L263.5 64.5L264 63.9L265.9 62.1L266.4 61.6L267.2 61.1L268 60.7L269 60.3L270.1 59.9L271.2 59.6L272.5 59.3L273.8 59.1L275.2 58.9L276.6 58.8L278.1 58.7L279.5 58.7L281 58.8L282.4 58.8L283.9 59L285.2 59.2L286.6 59.4L287.8 59.7L288.9 60L290 60.4L290.9 60.8L291.8 61.2L292.4 61.7L293 62.2L294.9 64L295.4 64.6L295.7 65.2L295.8 65.8L295.7 66.5L295.5 67.1L295.1 67.7L294.5 68.2L293.7 68.8L292.8 69.3L291.7 69.8L290.4 70.3L289.1 70.7L287.6 71L286.1 71.3L284.4 71.5L282.7 71.7L281 71.8L279.2 71.8L277.4 71.8L275.7 71.7L274 71.5L272.4 71.2L270.8 71L269.4 70.6L268 70.2L266.8 69.7L265.8 69.2L264.9 68.7L264.2 68.1L263.6 67.5L263.2 66.9L263 66.3Z" fill="#f9632d" stroke="#f9632d" stroke-width="0.35"/>
<path d="M269.1 60.7L269.2 60.3L269.4 59.9L269.7 59.6L270.1 59.2L270.6 58.9L271.2 58.6L271.9 58.3L273.4 57.8L274 57.6L274.7 57.4L275.4 57.3L276.2 57.1L277 57L277.8 57L278.7 56.9L279.5 56.9L280.4 56.9L281.2 57L282 57L282.8 57.2L283.6 57.3L284.3 57.5L284.9 57.6L285.5 57.9L287 58.4L287.7 58.7L288.3 59L288.8 59.3L289.2 59.7L289.5 60L289.6 60.4L289.7 60.8L289.7 61.1L289.5 61.5L289.2 61.9L288.8 62.2L288.4 62.6L287.8 62.9L287.1 63.2L286.3 63.5L285.5 63.7L284.5 63.9L283.6 64.1L282.5 64.2L281.5 64.3L280.4 64.4L279.3 64.4L278.2 64.4L277.1 64.3L276.1 64.2L275.1 64.1L274.1 63.9L273.2 63.7L272.4 63.4L271.6 63.1L270.9 62.8L270.4 62.5L269.9 62.2L269.5 61.8L269.3 61.4L269.2 61.1ZM279.3 66.5L278 66.4L276.7 66.4L275.4 66.2L274.2 66.1L273 65.8L271.9 65.6L270.9 65.3L270 64.9L269.2 64.6L268.5 64.2L268 63.8L267.6 63.3L267.3 62.9L267.1 62.4L267.1 62L267.2 61.5L267.4 61.1L267.8 60.7L268.3 60.2L268.9 59.8L270.6 58.9L271.2 58.6L271.9 58.3L272.7 58.1L273.5 57.8L274.4 57.6L275.4 57.5L276.4 57.4L277.4 57.3L278.5 57.2L279.5 57.2L280.6 57.2L281.6 57.3L282.6 57.4L283.6 57.5L284.6 57.7L285.5 57.9L286.3 58.1L287 58.4L287.7 58.7L288.3 59L290 59.9L290.6 60.3L291.1 60.7L291.5 61.2L291.7 61.6L291.7 62.1L291.7 62.5L291.5 63L291.2 63.4L290.7 63.9L290.1 64.3L289.4 64.7L288.6 65L287.7 65.3L286.7 65.6L285.6 65.9L284.4 66.1L283.2 66.3L281.9 66.4L280.6 66.4Z" fill="#f92e15" stroke="#f92e15" stroke-width="0.35"/>
<path d="M279.4 61.2L278.7 61.1L278.1 61.1L277.4 61L276.8 61L276.2 60.9L275.7 60.7L275.2 60.6L274.8 60.4L274.4 60.2L274 60L273.7 59.8L273.5 59.6L273.3 59.4L273.3 59.2L273.2 59L273.3 58.7L273.4 58.5L273.6 58.3L273.8 58.1L274.1 57.9L274.5 57.7L274.9 57.6L275.4 57.4L275.9 57.3L276.4 57.1L277 57L277.6 57L278.2 56.9L278.8 56.9L279.5 56.9L280.1 56.9L280.8 56.9L281.4 57L282 57.1L282.5 57.2L283.1 57.3L283.6 57.4L284 57.6L284.4 57.8L284.8 57.9L285.1 58.1L285.3 58.4L285.5 58.6L285.6 58.8L285.6 59L285.6 59.2L285.5 59.5L285.3 59.7L285.1 59.9L284.8 60.1L284.4 60.3L284 60.5L283.5 60.6L283 60.8L282.5 60.9L281.9 61L281.3 61.1L280.7 61.1L280 61.1ZM279.3 62.6L278.5 62.6L277.6 62.6L276.8 62.5L275.9 62.4L275.2 62.2L274.5 62.1L273.8 61.9L273.2 61.6L272.7 61.4L272.2 61.1L271.8 60.9L271.5 60.6L271.3 60.3L271.2 60L271.2 59.7L271.3 59.4L271.4 59.1L271.7 58.8L272 58.5L272.4 58.3L272.9 58L273.4 57.8L274 57.6L274.7 57.4L275.4 57.3L276.2 57.1L277 57L277.6 57L278.2 56.9L278.8 56.9L279.5 56.9L280.1 56.9L280.8 56.9L281.4 57L282 57L282.8 57.2L283.6 57.3L284.3 57.5L284.9 57.6L285.5 57.9L286.1 58.1L286.6 58.3L286.9 58.6L287.3 58.9L287.5 59.2L287.6 59.5L287.7 59.8L287.6 60.1L287.5 60.4L287.3 60.6L287 60.9L286.6 61.2L286.1 61.5L285.5 61.7L284.9 61.9L284.2 62.1L283.5 62.3L282.7 62.4L281.9 62.5L281.1 62.6L280.2 62.6Z" fill="#f90e07" stroke="#f90e07" stroke-width="0.35"/>
<path d="M279.4 59.9L278.9 59.9L278.5 59.9L278.1 59.8L277.7 59.8L277.3 59.7L276.9 59.6L276.6 59.5L276.3 59.4L276 59.3L275.8 59.2L275.6 59.1L275.5 58.9L275.4 58.8L275.3 58.6L275.3 58.5L275.3 58.3L275.4 58.2L275.5 58L275.7 57.9L275.9 57.8L276.1 57.6L276.4 57.5L276.7 57.4L277 57.3L277.4 57.3L277.8 57.2L278.2 57.1L278.6 57.1L279 57.1L279.5 57.1L279.9 57.1L280.3 57.1L280.7 57.1L281.1 57.2L281.5 57.3L281.9 57.4L282.2 57.4L282.5 57.6L282.8 57.7L283 57.8L283.2 57.9L283.3 58.1L283.5 58.2L283.5 58.4L283.5 58.5L283.5 58.7L283.4 58.8L283.3 58.9L283.2 59.1L283 59.2L282.7 59.3L282.5 59.5L282.2 59.6L281.8 59.7L281.5 59.7L281.1 59.8L280.7 59.9L280.2 59.9L279.8 59.9Z" fill="#f90000" stroke="#f90000" stroke-width="0.35"/>
<path d="M229.5 52.2L231.4 102L263.9 130.3L328.2 113.6" fill="none" stroke="#333" stroke-width="0.65"/>
<path d="M266.9 128.5L269.1 130.3M263 128.2L260.3 128.9M281.7 124.7L283.9 126.4M255.3 121.5L252.6 122.1M296.1 120.9L298.3 122.6M247.9 115.1L245.2 115.7M310.1 117.3L312.4 119M240.9 109L238.2 109.6M323.7 113.8L326 115.4M234.2 103.2L231.5 103.8M228.1 56.2L230.9 56.2M228.4 64.6L231.2 64.6M228.7 72.7L231.5 72.7M229 80.7L231.8 80.7M229.3 88.4L232.1 88.4M229.5 95.3L232.3 95.3" fill="none" stroke="#333" stroke-width="0.6"/>
<g font-size="7.3" text-anchor="middle" stroke="#111" stroke-width="0.08"><text x="226.1" y="58.5" text-anchor="end"><tspan fill="#6a6a6a" stroke="none">−</tspan><tspan dx="0.5">76</tspan></text><text x="226.1" y="66.6" text-anchor="end"><tspan fill="#6a6a6a" stroke="none">−</tspan><tspan dx="0.5">77</tspan></text><text x="226.1" y="74.6" text-anchor="end"><tspan fill="#6a6a6a" stroke="none">−</tspan><tspan dx="0.5">78</tspan></text><text x="226.1" y="82.6" text-anchor="end"><tspan fill="#6a6a6a" stroke="none">−</tspan><tspan dx="0.5">79</tspan></text><text x="226.1" y="90.4" text-anchor="end"><tspan fill="#6a6a6a" stroke="none">−</tspan><tspan dx="0.5">80</tspan></text><text x="226.1" y="97.5" text-anchor="end"><tspan fill="#6a6a6a" stroke="none">−</tspan><tspan dx="0.5">81</tspan></text><text x="224.5" y="113.7">1.0</text><text x="230.4" y="120.6">0.5</text><text x="236.2" y="127.1">0.0</text><text x="240.3" y="133.7"><tspan fill="#6a6a6a" stroke="none">−</tspan><tspan dx="0.5">0.5</tspan></text><text x="253.3" y="139.1"><tspan fill="#6a6a6a" stroke="none">−</tspan><tspan dx="0.5">1.0</tspan></text><text x="272.8" y="140.6"><tspan fill="#6a6a6a" stroke="none">−</tspan><tspan dx="0.5">1.0</tspan></text><text x="287.9" y="136.5"><tspan fill="#6a6a6a" stroke="none">−</tspan><tspan dx="0.5">0.5</tspan></text><text x="303.9" y="132.9">0.0</text><text x="317.1" y="129.9">0.5</text><text x="331.7" y="126.3">1.0</text></g>
<g font-size="6.8" text-anchor="middle" stroke="#111" stroke-width="0.08"><text transform="translate(311.5 139.6) rotate(-12)" y="1.7">field x</text><text transform="translate(222.8 127.6) rotate(48)" y="1.7">field y</text><text transform="translate(210.5 79.9) rotate(90)" y="1.7">chanfe of S<tspan font-size="4.4" dy="1.4">0</tspan><tspan dy="-1.4"></tspan></text></g>
<text x="205.1" y="43.7" font-size="6.4" stroke="#111" stroke-width="0.16">1.0 × 10<tspan font-size="3.3" dy="-2.5">−6</tspan></text>
<rect x="343.3" y="56.4" width="11.6" height="56.8" fill="url(#rb)" stroke="#222" stroke-opacity="0.55" stroke-width="0.4"/>
<path d="M354.9 58.5h2M354.9 69h2M354.9 80.5h2M354.9 91.4h2M354.9 101.6h2" fill="none" stroke="#333" stroke-width="0.55"/>
<g font-size="6.744999999999999" stroke="#111" stroke-width="0.08"><text x="356.7" y="60.7"><tspan fill="#6a6a6a" stroke="none">−</tspan><tspan dx="0.5">76</tspan></text><text x="356.7" y="71.2"><tspan fill="#6a6a6a" stroke="none">−</tspan><tspan dx="0.5">77</tspan></text><text x="356.7" y="82.7"><tspan fill="#6a6a6a" stroke="none">−</tspan><tspan dx="0.5">78</tspan></text><text x="356.7" y="93.6"><tspan fill="#6a6a6a" stroke="none">−</tspan><tspan dx="0.5">79</tspan></text><text x="356.7" y="103.8"><tspan fill="#6a6a6a" stroke="none">−</tspan><tspan dx="0.5">80</tspan></text></g>
<text x="348.2" y="53.6" font-size="6.4" text-anchor="middle" stroke="#111" stroke-width="0.16">1.0 × 10<tspan font-size="3.3" dy="-2.5">−6</tspan></text>
</g>
<g>
<path d="M437.3 130.6L500.1 114.2L465.4 88.1L407.1 101.5ZM407.1 101.5L465.4 88.1L465.9 42.4L405.2 53.7ZM500.1 114.2L465.4 88.1L465.9 42.4L502.2 64.4Z" fill="#f8f8f8" stroke="#d4d4d4" stroke-width="0.5"/>
<path d="M441.1 129.6L410.6 100.7L408.8 53M435.4 128.8L497.9 112.5L499.9 63M455.6 125.8L423.9 97.6L422.8 50.4M428.2 121.9L489.7 106.4L491.3 57.8M469.6 122.1L437 94.6L436.4 47.8M421.4 115.3L481.9 100.5L483.1 52.8M483.3 118.6L449.7 91.7L449.6 45.4M414.8 109L474.4 94.9L475.2 48M496.7 115L462.2 88.9L462.6 43M408.6 103L467.2 89.5L467.8 43.5M405.3 56.5L465.8 45.1L502.1 67.4M405.5 63.2L465.8 51.5L501.8 74.4M405.8 69.6L465.7 57.6L501.5 81.1M406 76.1L465.6 63.8L501.2 87.8M406.3 82.5L465.6 69.9L501 94.4M406.6 89.2L465.5 76.3L500.7 101.4M406.8 95.3L465.4 82.2L500.4 107.8" fill="none" stroke="#ababab" stroke-width="0.6"/>
<path d="M480.8 96.8L481 98.1L480.9 99.4L480.5 100.7L479.8 102L478.7 103.2L477.4 104.4L475.7 105.5L473.8 106.6L471.7 107.5L469.3 108.4L466.7 109.1L463.9 109.7L461 110.2L458 110.5L454.9 110.7L451.8 110.7L448.7 110.6L445.6 110.3L442.7 109.9L439.8 109.4L437.1 108.7L434.7 107.9L432.4 107L430.4 106L428.6 104.9L427.2 103.7L426 102.5L425.1 101.3L424.6 100L424.3 98.7L424.4 97.4L424.8 96.1L426 92.7L426.6 91.5L427.5 90.4L428.7 89.3L430.2 88.2L431.8 87.3L433.7 86.4L435.7 85.6L438 84.9L440.3 84.4L442.8 83.9L445.4 83.5L448 83.2L450.7 83.1L453.4 83.1L456.1 83.2L458.8 83.4L461.4 83.7L463.9 84.1L466.3 84.7L468.6 85.3L470.8 86.1L472.7 86.9L474.5 87.8L476 88.8L477.3 89.9L478.3 91L479.1 92.2L479.6 93.4ZM482 100.5L482.2 101.8L482.1 103.2L481.7 104.6L480.9 105.9L479.9 107.2L478.5 108.5L476.8 109.7L474.8 110.8L472.5 111.8L470 112.7L467.3 113.5L464.4 114.1L461.4 114.6L458.2 115L455 115.2L451.8 115.2L448.5 115.1L445.3 114.8L442.2 114.4L439.3 113.8L436.5 113.1L433.9 112.2L431.5 111.2L429.4 110.2L427.6 109L426.1 107.8L424.9 106.5L424 105.2L423.4 103.8L423.2 102.4L423.2 101L423.7 99.7L424.8 96.1L425.5 94.8L426.5 93.6L427.7 92.5L429.2 91.4L430.9 90.4L432.9 89.5L435 88.6L437.3 87.9L439.8 87.3L442.4 86.8L445.1 86.4L447.8 86.1L450.7 86L453.5 86L456.3 86L459.1 86.3L461.8 86.6L464.4 87.1L467 87.6L469.3 88.3L471.6 89.1L473.6 90L475.4 91L477 92L478.4 93.1L479.5 94.3L480.3 95.5L480.8 96.8ZM422 106.4L422.1 104.9L422.5 103.5L423.7 99.7L424.4 98.4L425.4 97.1L426.7 95.9L428.3 94.7L430.1 93.7L432.1 92.7L434.3 91.8L436.8 91.1L439.3 90.4L442 89.9L444.8 89.5L447.7 89.2L450.6 89L453.5 89L456.5 89.1L459.4 89.3L462.2 89.7L464.9 90.2L467.5 90.8L470 91.5L472.3 92.3L474.5 93.2L476.4 94.3L478.1 95.4L479.5 96.6L480.6 97.8L481.5 99.1L482 100.5L483.2 104.3L483.4 105.7L483.3 107.2L482.9 108.6L482.1 110.1L481 111.5L479.5 112.8L477.8 114.1L475.7 115.2L473.4 116.3L470.8 117.3L468 118.1L464.9 118.8L461.8 119.3L458.5 119.7L455.1 119.9L451.7 119.9L448.4 119.8L445 119.5L441.8 119L438.7 118.4L435.8 117.6L433.1 116.7L430.7 115.7L428.5 114.6L426.6 113.4L425 112L423.7 110.7L422.8 109.3L422.2 107.8Z" fill="#7c00f9" stroke="#7c00f9" stroke-width="0.35"/>
<path d="M477.1 87L477.3 88.1L477.2 89.2L476.8 90.2L476.2 91.3L475.2 92.3L474.1 93.3L472.6 94.3L471 95.1L469.1 95.9L467 96.6L464.8 97.2L462.4 97.7L459.8 98.1L457.2 98.4L454.5 98.5L451.8 98.6L449.2 98.5L446.5 98.3L444 97.9L441.5 97.5L439.2 96.9L437 96.2L435 95.5L433.3 94.7L431.7 93.7L430.5 92.8L429.4 91.8L428.7 90.7L428.2 89.6L427.9 88.6L428 87.5L428.3 86.4L429.5 83.5L430.1 82.5L430.9 81.6L431.9 80.7L433.1 79.8L434.5 79L436.1 78.3L437.9 77.6L439.8 77.1L441.9 76.6L444 76.2L446.3 75.9L448.6 75.6L450.9 75.5L453.3 75.5L455.6 75.6L457.9 75.8L460.2 76L462.4 76.4L464.5 76.8L466.5 77.4L468.3 78L470 78.7L471.5 79.5L472.8 80.3L473.9 81.2L474.8 82.1L475.5 83.1L476.7 85.9ZM478.3 90.1L478.5 91.2L478.4 92.4L478 93.5L477.4 94.7L476.4 95.8L475.2 96.8L473.7 97.8L471.9 98.7L470 99.6L467.8 100.3L465.4 101L462.9 101.5L460.2 101.9L457.5 102.2L454.7 102.4L451.8 102.4L449 102.3L446.2 102.1L443.5 101.7L440.9 101.2L438.5 100.6L436.2 99.9L434.1 99.1L432.3 98.2L430.7 97.3L429.3 96.2L428.3 95.2L427.5 94L427 92.9L426.7 91.7L426.8 90.6L427.1 89.4L428.3 86.4L428.9 85.3L429.7 84.3L430.8 83.4L432.1 82.5L433.6 81.6L435.3 80.8L437.2 80.1L439.2 79.5L441.4 79L443.6 78.6L446 78.2L448.4 78L450.8 77.9L453.3 77.9L455.8 77.9L458.2 78.1L460.6 78.4L462.9 78.8L465.1 79.3L467.2 79.9L469.1 80.5L470.9 81.3L472.5 82.1L473.9 83L475.1 83.9L476 84.9L476.7 85.9L477.1 87ZM479.6 93.4L479.8 94.6L479.7 95.8L479.3 97L478.6 98.2L477.6 99.4L476.3 100.5L474.7 101.6L472.9 102.6L470.8 103.5L468.5 104.3L466 104.9L463.4 105.5L460.6 106L457.7 106.3L454.8 106.4L451.8 106.5L448.8 106.4L445.9 106.1L443.1 105.7L440.4 105.2L437.8 104.6L435.4 103.8L433.3 103L431.3 102L429.7 101L428.2 99.9L427.1 98.7L426.3 97.5L425.8 96.3L425.5 95.1L425.6 93.9L426 92.7L427.1 89.4L427.8 88.3L428.6 87.3L429.8 86.2L431.1 85.3L432.7 84.4L434.5 83.5L436.5 82.8L438.6 82.1L440.8 81.6L443.2 81.1L445.7 80.8L448.2 80.5L450.8 80.4L453.4 80.4L456 80.5L458.5 80.7L461 81L463.4 81.4L465.7 81.9L467.9 82.5L470 83.2L471.8 84L473.5 84.9L475 85.8L476.2 86.8L477.2 87.9L477.9 89L478.4 90.1Z" fill="#16e1e0" stroke="#16e1e0" stroke-width="0.35"/>
<path d="M470.5 74.1L471.2 74.9L471.8 75.6L473 78L473.4 78.8L473.5 79.7L473.4 80.6L473.1 81.5L472.5 82.4L471.7 83.2L470.7 84L469.5 84.8L468.1 85.5L466.5 86.1L464.7 86.7L462.8 87.2L460.8 87.6L458.6 87.9L456.4 88.1L454.2 88.2L451.9 88.2L449.7 88.2L447.4 88L445.3 87.7L443.2 87.4L441.2 86.9L439.4 86.4L437.7 85.8L436.2 85.1L434.9 84.3L433.8 83.5L432.9 82.7L432.3 81.9L431.9 81L431.7 80.1L431.7 79.2L431.9 78.3L433.2 76L433.6 75.2L434.3 74.4L435.1 73.7L436.1 73L437.3 72.3L438.7 71.7L440.2 71.2L441.8 70.7L443.5 70.3L445.3 70L447.2 69.7L449.2 69.5L451.1 69.4L453.1 69.4L455.1 69.5L457.1 69.6L459 69.9L460.8 70.2L462.6 70.5L464.3 71L465.8 71.5L467.2 72.1L468.5 72.7L469.6 73.4ZM471.7 76.3L472.4 77.1L473 78L474.2 80.4L474.6 81.4L474.8 82.3L474.7 83.3L474.3 84.2L473.7 85.2L472.9 86.1L471.8 86.9L470.5 87.7L469 88.5L467.3 89.2L465.5 89.8L463.5 90.3L461.3 90.8L459 91.1L456.7 91.3L454.3 91.5L451.9 91.5L449.5 91.4L447.1 91.2L444.8 90.9L442.6 90.5L440.5 90L438.6 89.5L436.8 88.8L435.2 88.1L433.9 87.3L432.7 86.4L431.8 85.6L431.1 84.6L430.6 83.7L430.4 82.7L430.4 81.8L430.7 80.8L432 78.3L432.4 77.5L433.1 76.6L434 75.8L435.1 75.1L436.4 74.4L437.8 73.8L439.4 73.2L441.1 72.7L443 72.2L444.9 71.9L446.9 71.6L449 71.4L451.1 71.3L453.2 71.3L455.3 71.4L457.4 71.5L459.4 71.7L461.4 72.1L463.2 72.5L465 72.9L466.7 73.5L468.2 74.1L469.5 74.8L470.7 75.5ZM472.8 78.7L473.6 79.5L474.3 80.4L475.5 83.1L475.9 84.1L476 85.1L475.9 86.1L475.6 87.1L474.9 88.1L474.1 89.1L472.9 90L471.6 90.9L470 91.7L468.2 92.5L466.2 93.1L464.1 93.7L461.8 94.2L459.4 94.5L457 94.8L454.4 94.9L451.9 94.9L449.3 94.8L446.8 94.6L444.4 94.3L442.1 93.9L439.9 93.4L437.8 92.8L435.9 92.1L434.3 91.3L432.8 90.4L431.6 89.5L430.6 88.6L429.9 87.6L429.4 86.6L429.2 85.6L429.2 84.5L429.5 83.5L430.7 80.8L431.2 79.9L432 79L432.9 78.2L434.1 77.4L435.5 76.6L437 75.9L438.7 75.3L440.5 74.8L442.4 74.3L444.5 73.9L446.6 73.6L448.8 73.4L451 73.3L453.2 73.3L455.4 73.4L457.6 73.5L459.8 73.8L461.9 74.1L463.9 74.6L465.7 75.1L467.5 75.7L469.1 76.3L470.5 77L471.8 77.8Z" fill="#9bf88e" stroke="#9bf88e" stroke-width="0.35"/>
<path d="M440.5 77.7L439.2 77.1L438.2 76.6L437.3 75.9L436.5 75.3L436 74.6L435.6 73.9L435.4 73.2L435.5 72.5L435.7 71.8L436 71.1L437.3 69.4L437.8 68.7L438.4 68.2L439.3 67.6L440.2 67.1L441.3 66.6L442.5 66.2L443.8 65.8L445.2 65.5L446.7 65.2L448.2 65L449.8 64.9L451.4 64.8L453 64.8L454.6 64.9L456.2 65L457.7 65.1L459.2 65.4L460.6 65.7L462 66L463.2 66.4L464.4 66.9L465.4 67.4L466.2 67.9L467 68.5L467.6 69.1L468.8 70.8L469.2 71.5L469.5 72.2L469.6 72.9L469.5 73.6L469.2 74.3L468.8 75L468.1 75.7L467.3 76.3L466.3 76.9L465.1 77.5L463.8 78L462.4 78.4L460.8 78.8L459.2 79.1L457.5 79.4L455.7 79.5L453.8 79.6L452 79.6L450.2 79.6L448.4 79.4L446.6 79.2L444.9 78.9L443.3 78.6L441.8 78.2ZM468.2 70.2L468.8 70.8L469.3 71.5L470.5 73.5L470.8 74.2L470.9 75L470.8 75.8L470.5 76.5L470 77.3L469.3 78L468.4 78.7L467.4 79.3L466.1 79.9L464.7 80.5L463.2 81L461.5 81.4L459.7 81.7L457.9 82L455.9 82.2L454 82.3L452 82.3L450 82.3L448 82.1L446.2 81.9L444.3 81.6L442.6 81.2L441 80.7L439.5 80.2L438.2 79.6L437.1 79L436.1 78.3L435.3 77.6L434.7 76.9L434.4 76.1L434.2 75.3L434.2 74.6L434.4 73.8L434.8 73.1L436 71.1L436.6 70.5L437.3 69.8L438.2 69.2L439.2 68.7L440.4 68.2L441.7 67.7L443.1 67.3L444.6 66.9L446.2 66.7L447.9 66.4L449.6 66.3L451.3 66.2L453 66.2L454.8 66.2L456.5 66.4L458.1 66.6L459.7 66.8L461.3 67.1L462.7 67.5L464.1 68L465.3 68.4L466.4 69L467.4 69.6ZM469.3 72.1L470 72.8L470.5 73.5L471.8 75.6L472.1 76.5L472.2 77.3L472.1 78.1L471.8 78.9L471.3 79.7L470.5 80.5L469.6 81.3L468.4 82L467.1 82.6L465.6 83.2L463.9 83.7L462.1 84.2L460.2 84.6L458.2 84.9L456.2 85.1L454.1 85.2L451.9 85.2L449.8 85.1L447.7 85L445.7 84.7L443.8 84.4L441.9 83.9L440.2 83.4L438.6 82.9L437.2 82.3L436 81.6L435 80.8L434.1 80.1L433.5 79.3L433.1 78.5L432.9 77.6L432.9 76.8L433.2 76L433.6 75.2L434.8 73.1L435.4 72.4L436.2 71.7L437.2 71L438.3 70.4L439.5 69.9L440.9 69.4L442.5 68.9L444.1 68.5L445.8 68.2L447.5 68L449.4 67.8L451.2 67.7L453.1 67.7L454.9 67.8L456.8 67.9L458.6 68.1L460.3 68.4L461.9 68.8L463.5 69.2L464.9 69.6L466.3 70.2L467.5 70.8L468.5 71.4Z" fill="#f9af52" stroke="#f9af52" stroke-width="0.35"/>
<path d="M439.5 66.4L441.4 64.5L441.9 64.1L442.5 63.7L443.2 63.3L444 62.9L444.9 62.6L445.9 62.3L446.9 62.1L448.1 61.9L449.2 61.8L450.4 61.6L451.6 61.6L452.8 61.6L454 61.6L455.2 61.7L456.4 61.8L457.6 62L458.6 62.2L459.6 62.5L460.6 62.8L461.4 63.1L462.2 63.5L462.9 63.9L463.4 64.3L463.8 64.8L465.7 66.7L466.1 67.3L466.3 67.8L466.3 68.4L466.3 69L466 69.5L465.6 70.1L465.1 70.6L464.4 71.1L463.6 71.6L462.7 72L461.6 72.4L460.5 72.7L459.2 73L457.9 73.3L456.5 73.5L455 73.6L453.6 73.7L452.1 73.7L450.6 73.7L449.1 73.6L447.7 73.4L446.3 73.2L445.1 72.9L443.9 72.5L442.7 72.2L441.8 71.7L440.9 71.3L440.1 70.8L439.6 70.3L439.1 69.7L438.8 69.2L438.6 68.6L438.6 68.1L438.8 67.5L439.1 67ZM437.3 69.4L439.1 67L439.6 66.4L440.1 65.9L440.9 65.5L441.7 65L442.7 64.6L443.7 64.2L444.8 63.9L446.1 63.6L447.4 63.4L448.7 63.2L450.1 63.1L451.5 63L452.9 63L454.3 63.1L455.7 63.2L457.1 63.3L458.4 63.5L459.6 63.8L460.8 64.1L461.9 64.4L462.9 64.8L463.8 65.3L464.6 65.7L465.2 66.2L465.7 66.7L467.6 69.1L468 69.7L468.2 70.3L468.3 71L468.2 71.6L468 72.3L467.5 72.9L466.9 73.5L466.1 74.1L465.2 74.6L464.1 75.1L462.9 75.6L461.6 76L460.2 76.4L458.7 76.7L457.1 76.9L455.4 77L453.7 77.1L452 77.1L450.3 77.1L448.7 77L447 76.8L445.5 76.5L444 76.2L442.6 75.8L441.4 75.3L440.2 74.9L439.3 74.3L438.4 73.8L437.7 73.2L437.2 72.5L436.9 71.9L436.7 71.3L436.7 70.6L436.9 70Z" fill="#f9652e" stroke="#f9652e" stroke-width="0.35"/>
<path d="M452.2 68L451.1 68L450.1 67.9L449.1 67.8L448.1 67.6L447.2 67.4L446.3 67.2L445.5 66.9L444.8 66.6L444.2 66.3L443.6 66L443.2 65.6L442.9 65.2L442.7 64.8L442.5 64.5L442.5 64.1L442.6 63.7L442.8 63.3L443.2 62.9L443.6 62.6L445.3 61.4L445.7 61.1L446.2 60.9L446.8 60.6L447.4 60.4L448 60.2L448.7 60.1L449.5 59.9L450.3 59.8L451.1 59.8L451.9 59.7L452.7 59.7L453.5 59.7L454.3 59.8L455.1 59.9L455.9 60L456.6 60.1L457.3 60.3L457.9 60.5L458.5 60.7L459 61L459.4 61.3L461.1 62.4L461.6 62.8L461.9 63.1L462.2 63.5L462.3 63.9L462.4 64.3L462.3 64.7L462.1 65.1L461.9 65.4L461.5 65.8L461 66.2L460.4 66.5L459.7 66.8L459 67.1L458.1 67.3L457.2 67.5L456.3 67.7L455.3 67.8L454.3 67.9L453.2 68ZM440.6 65.9L440.7 65.4L441 65L441.3 64.5L443.2 62.9L443.6 62.6L444.1 62.2L444.7 61.9L445.4 61.6L446.1 61.3L447 61.1L447.8 60.9L448.8 60.7L449.7 60.6L450.7 60.5L451.7 60.5L452.8 60.5L453.8 60.5L454.8 60.6L455.8 60.7L456.7 60.8L457.6 61L458.5 61.2L459.2 61.5L460 61.8L460.6 62.1L461.1 62.4L461.6 62.8L463.4 64.3L463.8 64.8L464.1 65.2L464.3 65.7L464.4 66.2L464.3 66.6L464.1 67.1L463.8 67.6L463.3 68L462.7 68.4L462 68.8L461.2 69.2L460.3 69.5L459.3 69.8L458.2 70.1L457.1 70.3L455.9 70.5L454.6 70.6L453.4 70.7L452.1 70.7L450.8 70.6L449.6 70.5L448.4 70.4L447.2 70.2L446.1 70L445.1 69.7L444.1 69.4L443.3 69L442.5 68.6L441.9 68.2L441.4 67.8L441 67.3L440.7 66.8L440.6 66.4Z" fill="#f92f15" stroke="#f92f15" stroke-width="0.35"/>
<path d="M446.5 61.4L446.5 61.2L446.6 61L446.8 60.7L447.1 60.5L447.4 60.3L447.7 60.1L448.1 60L448.6 59.8L449.1 59.7L449.6 59.5L450.6 59.4L450.9 59.3L451.3 59.2L451.7 59.2L452.1 59.2L452.5 59.2L453 59.2L453.4 59.2L453.8 59.3L454.1 59.3L455 59.5L455.5 59.6L456.1 59.7L456.5 59.9L457 60.1L457.3 60.2L457.7 60.4L457.9 60.7L458.1 60.9L458.3 61.1L458.4 61.3L458.4 61.6L458.4 61.8L458.2 62L458.1 62.3L457.8 62.5L457.5 62.7L457.2 62.9L456.8 63L456.3 63.2L455.8 63.4L455.3 63.5L454.7 63.6L454.1 63.7L453.5 63.7L452.9 63.7L452.3 63.8L451.6 63.7L451 63.7L450.4 63.6L449.8 63.5L449.3 63.4L448.7 63.3L448.3 63.1L447.8 63L447.5 62.8L447.1 62.6L446.9 62.3L446.7 62.1L446.5 61.9L446.5 61.7ZM452.2 65.7L451.4 65.7L450.5 65.6L449.7 65.5L448.9 65.4L448.2 65.2L447.5 65.1L446.9 64.8L446.3 64.6L445.8 64.4L445.4 64.1L445 63.8L444.8 63.5L444.6 63.2L444.5 62.9L444.5 62.6L444.6 62.3L444.7 62L445 61.7L445.3 61.4L445.7 61.1L446.2 60.9L447.7 60.1L448.2 60L448.6 59.8L449.1 59.7L449.6 59.5L450.2 59.4L450.8 59.4L451.4 59.3L452 59.3L452.6 59.3L453.2 59.3L453.8 59.3L454.4 59.4L455 59.5L455.6 59.6L456.1 59.7L456.5 59.9L457 60.1L458.5 60.7L459 61L459.4 61.3L459.8 61.5L460 61.8L460.2 62.1L460.4 62.4L460.4 62.8L460.3 63.1L460.2 63.4L460 63.7L459.7 64L459.3 64.2L458.8 64.5L458.2 64.8L457.6 65L457 65.2L456.3 65.3L455.5 65.5L454.7 65.6L453.9 65.6L453 65.7Z" fill="#f90f07" stroke="#f90f07" stroke-width="0.35"/>
<path d="M452.3 62.2L451.9 62.1L451.5 62.1L451.1 62.1L450.7 62L450.3 61.9L450 61.8L449.7 61.7L449.4 61.6L449.1 61.5L448.9 61.4L448.7 61.2L448.6 61.1L448.5 60.9L448.4 60.8L448.4 60.6L448.5 60.5L448.6 60.3L448.7 60.2L448.8 60L449 59.9L449.3 59.8L449.6 59.6L449.9 59.5L450.2 59.4L450.5 59.4L450.9 59.3L451.3 59.2L451.7 59.2L452.1 59.2L452.5 59.2L452.9 59.2L453.4 59.2L453.8 59.3L454.1 59.3L454.5 59.4L454.8 59.5L455.2 59.6L455.4 59.7L455.7 59.8L455.9 60L456.1 60.1L456.2 60.2L456.3 60.4L456.4 60.6L456.4 60.7L456.4 60.9L456.3 61L456.2 61.2L456 61.3L455.8 61.4L455.6 61.6L455.3 61.7L455 61.8L454.7 61.9L454.3 62L453.9 62L453.5 62.1L453.1 62.1L452.7 62.2Z" fill="#f90000" stroke="#f90000" stroke-width="0.35"/>
<path d="M426.1 95.2h1.3v-0.3h-1.3zM428.7 100.3h1.3v-0.3h-1.3zM430 101.2h1.3v-0.6h-1.3zM431.3 102h1.3v-0.9h-1.3zM437.8 104.6h1.3v-0.8h-1.3zM440.4 105.2h1.3v-0.5h-1.3zM445.6 106.1h1.3v-0.5h-1.3zM450.8 106.4h1.3v-0.8h-1.3zM456 106.4h1.3v-1h-1.3zM457.3 106.3h1.3v-1h-1.3zM458.6 106.2h1.3v-0.6h-1.3zM459.9 106h1.3v-0.8h-1.3zM461.2 105.9h1.3v-1h-1.3zM462.5 105.7h1.3v-0.7h-1.3zM463.8 105.4h1.3v-0.8h-1.3zM467.7 104.5h1.3v-1h-1.3zM469 104.1h1.3v-1h-1.3zM474.2 101.8h1.3v-0.2h-1.3zM475.5 101h1.3v-0.3h-1.3zM478.1 98.7h1.3v-0.3h-1.3z" fill="#7c00f9"/>
<path d="M427.4 99h1.3v0.9h-1.3zM432.6 102.6h1.3v0.6h-1.3zM433.9 103.2h1.3v0.6h-1.3zM435.2 103.7h1.3v0.9h-1.3zM436.5 104.2h1.3v0.5h-1.3zM439.1 104.9h1.3v0.2h-1.3zM441.7 105.5h1.3v1h-1.3zM443 105.7h1.3v0.6h-1.3zM444.3 105.9h1.3v0.2h-1.3zM446.9 106.2h1.3v0.8h-1.3zM448.2 106.3h1.3v0.4h-1.3zM449.5 106.4h1.3v0.5h-1.3zM452.1 106.5h1.3v0.9h-1.3zM453.4 106.4h1.3v0.8h-1.3zM454.7 106.4h1.3v0.6h-1.3zM465.1 105.1h1.3v0.4h-1.3zM466.4 104.8h1.3v0.9h-1.3zM470.3 103.6h1.3v1.1h-1.3zM471.6 103.1h1.3v0.7h-1.3zM472.9 102.5h1.3v0.9h-1.3zM476.8 100h1.3v0.4h-1.3z" fill="#16e1e0"/>
<path d="M433.7 90.9h1.3v-0.8h-1.3zM435 91.6h1.3v-0.8h-1.3zM438.9 93.1h1.3v-0.7h-1.3zM440.2 93.5h1.3v-0.6h-1.3zM442.8 94h1.3v-0.9h-1.3zM446.7 94.6h1.3v-0.5h-1.3zM448 94.7h1.3v-1h-1.3zM449.3 94.8h1.3v-0.5h-1.3zM450.6 94.9h1.3v-0.6h-1.3zM457.1 94.8h1.3v-0.9h-1.3zM458.4 94.6h1.3v-0.6h-1.3zM462.3 94.1h1.3v-0.7h-1.3zM463.6 93.8h1.3v-0.6h-1.3zM464.9 93.5h1.3v-0.8h-1.3zM468.8 92.2h1.3v-0.5h-1.3zM470.1 91.7h1.3v-1h-1.3zM471.4 91h1.3v-0.3h-1.3zM472.7 90.2h1.3v-0.5h-1.3zM475.3 85h1.3v-0.3h-1.3z" fill="#16e1e0"/>
<path d="M429.8 86.5h1.3v0.6h-1.3zM431.1 89h1.3v1.1h-1.3zM432.4 90.1h1.3v0.4h-1.3zM436.3 92.2h1.3v0.7h-1.3zM437.6 92.7h1.3v0.8h-1.3zM441.5 93.8h1.3v0.6h-1.3zM444.1 94.3h1.3v0.2h-1.3zM445.4 94.5h1.3v0.4h-1.3zM451.9 94.9h1.3v0.7h-1.3zM453.2 94.9h1.3v0.7h-1.3zM454.5 94.9h1.3v1.1h-1.3zM455.8 94.8h1.3v0.9h-1.3zM459.7 94.5h1.3v0.4h-1.3zM461 94.3h1.3v0.5h-1.3zM466.2 93.1h1.3v0.4h-1.3zM467.5 92.7h1.3v0.6h-1.3zM474 89.2h1.3v0.7h-1.3z" fill="#9bf88e"/>
<path d="M434.8 80.7h1.3v-1.1h-1.3zM441.3 83.8h1.3v-0.2h-1.3zM445.2 84.6h1.3v-0.6h-1.3zM446.5 84.8h1.3v-0.8h-1.3zM450.4 85.1h1.3v-0.7h-1.3zM454.3 85.2h1.3v-0.2h-1.3zM460.8 84.5h1.3v-0.8h-1.3zM463.4 83.9h1.3v-0.9h-1.3zM467.3 82.5h1.3v-0.8h-1.3z" fill="#9bf88e"/>
<path d="M433.5 79.2h1.3v0.8h-1.3zM436.1 81.6h1.3v0.7h-1.3zM437.4 82.3h1.3v0.2h-1.3zM438.7 82.9h1.3v0.4h-1.3zM440 83.4h1.3v1h-1.3zM442.6 84.1h1.3v0.6h-1.3zM443.9 84.4h1.3v0.4h-1.3zM447.8 85h1.3v0.5h-1.3zM449.1 85.1h1.3v0.6h-1.3zM451.7 85.2h1.3v0.6h-1.3zM453 85.2h1.3v0.7h-1.3zM455.6 85.1h1.3v0.9h-1.3zM456.9 85h1.3v0.7h-1.3zM458.2 84.9h1.3v1h-1.3zM459.5 84.7h1.3v0.7h-1.3zM462.1 84.2h1.3v0.8h-1.3zM464.7 83.5h1.3v0.2h-1.3zM466 83h1.3v1h-1.3zM468.6 81.8h1.3v0.5h-1.3zM469.9 81h1.3v0.3h-1.3zM471.2 75h1.3v1h-1.3z" fill="#f9af52"/>
<path d="M437.3 69.9h1.3v-0.3h-1.3zM438.6 73.9h1.3v-1h-1.3zM439.9 74.7h1.3v-0.4h-1.3zM441.2 75.3h1.3v-0.8h-1.3zM443.8 76.1h1.3v-0.8h-1.3zM445.1 76.4h1.3v-0.9h-1.3zM454.2 77.1h1.3v-1h-1.3zM456.8 76.9h1.3v-0.9h-1.3zM462 75.9h1.3v-0.7h-1.3zM464.6 74.9h1.3v-0.4h-1.3zM467.2 73.2h1.3v-1.1h-1.3z" fill="#f9af52"/>
<path d="M442.5 75.7h1.3v0.6h-1.3zM446.4 76.7h1.3v0.6h-1.3zM447.7 76.8h1.3v0.5h-1.3zM449 77h1.3v0.4h-1.3zM450.3 77.1h1.3v0.4h-1.3zM451.6 77.1h1.3v1h-1.3zM452.9 77.1h1.3v0.3h-1.3zM455.5 77h1.3v0.6h-1.3zM458.1 76.7h1.3v0.8h-1.3zM459.4 76.5h1.3v0.5h-1.3zM460.7 76.2h1.3v0.7h-1.3zM463.3 75.5h1.3v0.6h-1.3zM465.9 74.2h1.3v0.2h-1.3z" fill="#f9652e"/>
<path d="M441.2 67.5h1.3v-0.4h-1.3zM442.5 68.6h1.3v-0.7h-1.3zM443.8 69.2h1.3v-0.9h-1.3zM445.1 69.7h1.3v-1h-1.3zM447.7 70.3h1.3v-1h-1.3zM454.2 70.6h1.3v-0.5h-1.3zM460.7 69.4h1.3v-0.3h-1.3zM462 68.9h1.3v-1h-1.3z" fill="#f9652e"/>
<path d="M446.4 70h1.3v0.9h-1.3zM449 70.5h1.3v0.7h-1.3zM450.3 70.6h1.3v0.4h-1.3zM451.6 70.6h1.3v1h-1.3zM452.9 70.7h1.3v0.2h-1.3zM455.5 70.5h1.3v0.3h-1.3zM456.8 70.4h1.3v1.1h-1.3zM458.1 70.1h1.3v0.5h-1.3zM459.4 69.8h1.3v0.9h-1.3zM463.3 68h1.3v0.8h-1.3z" fill="#f92f15"/>
<path d="M446.4 64.6h1.3v-0.7h-1.3zM450.3 65.6h1.3v-1h-1.3zM451.6 65.7h1.3v-0.2h-1.3zM452.9 65.7h1.3v-0.5h-1.3zM459.4 64.2h1.3v-0.2h-1.3z" fill="#f92f15"/>
<path d="M445.1 63.8h1.3v0.8h-1.3zM447.7 65.1h1.3v0.4h-1.3zM449 65.4h1.3v0.2h-1.3zM454.2 65.6h1.3v0.6h-1.3zM455.5 65.5h1.3v0.3h-1.3zM456.8 65.2h1.3v0.2h-1.3zM458.1 64.8h1.3v0.5h-1.3z" fill="#f90f07"/>
<path d="M450.3 61.9h1.3v-0.9h-1.3zM454.2 62h1.3v-0.6h-1.3z" fill="#f90f07"/>
<path d="M449 61.5h1.3v0.8h-1.3zM451.6 62.1h1.3v0.6h-1.3zM452.9 62.1h1.3v0.2h-1.3zM455.5 61.6h1.3v0.4h-1.3z" fill="#f90000"/>
<path d="M448.4 60.6l0.8 -1l0.8 1zM450 60.6l0.8 -1.2l0.8 1.2zM451.4 60.6l0.8 -1.3l0.8 1.3zM452.8 60.6l0.8 -1.2l0.8 1.2zM454.4 60.6l0.8 -1.7l0.8 1.7z" fill="#f90000"/>
<path d="M405.2 53.7L407.1 101.5L437.3 130.6L500.1 114.2" fill="none" stroke="#333" stroke-width="0.65"/>
<path d="M440.2 128.8L442.3 130.7M436.5 128.5L433.8 129.2M454.7 125L456.8 126.9M429.4 121.6L426.6 122.2M468.7 121.4L470.9 123.2M422.5 115L419.8 115.7M482.4 117.8L484.6 119.5M416 108.7L413.3 109.4M495.7 114.3L498 116M409.8 102.7L407.1 103.4M403.7 56.5L406.5 56.5M403.9 63.2L406.7 63.2M404.2 69.6L407 69.6M404.4 76.1L407.2 76.1M404.7 82.5L407.5 82.5M405 89.2L407.8 89.2M405.2 95.3L408 95.3" fill="none" stroke="#333" stroke-width="0.6"/>
<g font-size="7.3" text-anchor="middle" stroke="#111" stroke-width="0.08"><text x="402.4" y="58.6" text-anchor="end" font-size="6.8"><tspan fill="#6a6a6a" stroke="none">−</tspan><tspan dx="0.5">6.00</tspan></text><text x="402.4" y="65.1" text-anchor="end" font-size="6.8"><tspan fill="#6a6a6a" stroke="none">−</tspan><tspan dx="0.5">6.25</tspan></text><text x="402.4" y="71.4" text-anchor="end" font-size="6.8"><tspan fill="#6a6a6a" stroke="none">−</tspan><tspan dx="0.5">6.50</tspan></text><text x="402.4" y="77.8" text-anchor="end" font-size="6.8"><tspan fill="#6a6a6a" stroke="none">−</tspan><tspan dx="0.5">6.75</tspan></text><text x="402.4" y="84.2" text-anchor="end" font-size="6.8"><tspan fill="#6a6a6a" stroke="none">−</tspan><tspan dx="0.5">7.00</tspan></text><text x="402.4" y="91" text-anchor="end" font-size="6.8"><tspan fill="#6a6a6a" stroke="none">−</tspan><tspan dx="0.5">7.25</tspan></text><text x="402.4" y="97.3" text-anchor="end" font-size="6.8"><tspan fill="#6a6a6a" stroke="none">−</tspan><tspan dx="0.5">7.50</tspan></text><text x="401" y="111.1">1.0</text><text x="407.3" y="119.1">0.5</text><text x="412.5" y="125.7">0.0</text><text x="415.8" y="133.2"><tspan fill="#6a6a6a" stroke="none">−</tspan><tspan dx="0.5">0.5</tspan></text><text x="423.1" y="140.5"><tspan fill="#6a6a6a" stroke="none">−</tspan><tspan dx="0.5">1.0</tspan></text><text x="441.1" y="141.2"><tspan fill="#6a6a6a" stroke="none">−</tspan><tspan dx="0.5">1.0</tspan></text><text x="457" y="138.1"><tspan fill="#6a6a6a" stroke="none">−</tspan><tspan dx="0.5">0.5</tspan></text><text x="473.1" y="134.7">0.0</text><text x="485.8" y="130.7">0.5</text><text x="501.8" y="126.3">1.0</text></g>
<g font-size="6.8" text-anchor="middle" stroke="#111" stroke-width="0.08"><text transform="translate(478.6 139.9) rotate(-12)" y="1.7">field x</text><text transform="translate(397.8 124) rotate(50)" y="1.7">field y</text><text transform="translate(379.5 84.5) rotate(90)" y="1.7">difference in S<tspan font-size="4.4" dy="1.4">0</tspan><tspan dy="-1.4"> change</tspan></text></g>
<text x="375" y="43.8" font-size="6.4" stroke="#111" stroke-width="0.16">1.0 × 10<tspan font-size="3.3" dy="-2.5">−10</tspan></text>
<rect x="515.1" y="57.9" width="10.9" height="55.1" fill="url(#rb)" stroke="#222" stroke-opacity="0.55" stroke-width="0.4"/>
<path d="M526 58.4h2M526 68.1h2M526 77.3h2M526 86.5h2M526 95.7h2M526 105.5h2" fill="none" stroke="#333" stroke-width="0.55"/>
<g font-size="6.27" stroke="#111" stroke-width="0.08"><text x="527.5" y="60.5"><tspan fill="#6a6a6a" stroke="none">−</tspan><tspan dx="0.5">6.00</tspan></text><text x="527.5" y="70.2"><tspan fill="#6a6a6a" stroke="none">−</tspan><tspan dx="0.5">6.25</tspan></text><text x="527.5" y="79.4"><tspan fill="#6a6a6a" stroke="none">−</tspan><tspan dx="0.5">6.50</tspan></text><text x="527.5" y="88.6"><tspan fill="#6a6a6a" stroke="none">−</tspan><tspan dx="0.5">6.75</tspan></text><text x="527.5" y="97.8"><tspan fill="#6a6a6a" stroke="none">−</tspan><tspan dx="0.5">7.00</tspan></text><text x="527.5" y="107.6"><tspan fill="#6a6a6a" stroke="none">−</tspan><tspan dx="0.5">7.25</tspan></text></g>
<text x="519.8" y="55.4" font-size="6.4" text-anchor="middle" stroke="#111" stroke-width="0.16">1.0 × 10<tspan font-size="3.3" dy="-2.5">−10</tspan></text>
</g>
<g>
<path d="M102.1 257.7L169.9 239.6L130 212.9L66.8 227.6ZM66.8 227.6L130 212.9L130.5 163.9L64.9 176.2ZM169.9 239.6L130 212.9L130.5 163.9L172 186.2Z" fill="#f8f8f8" stroke="#d4d4d4" stroke-width="0.5"/>
<path d="M106.2 256.6L70.6 226.7L68.9 175.4M99.8 255.8L167.4 237.9L169.4 184.8M121.9 252.4L85.2 223.3L84 172.6M91.5 248.6L158 231.6L159.6 179.5M137.1 248.4L99.3 220L98.7 169.8M83.5 241.8L149 225.5L150.2 174.5M151.8 244.4L113.1 216.8L113 167.2M75.9 235.3L140.4 219.8L141.2 169.6M166.2 240.6L126.6 213.7L126.9 164.5M68.6 229.1L132.1 214.2L132.7 165M65.3 186.5L130.4 173.7L171.6 197M65.5 194.2L130.3 181.1L171.3 205M65.8 201.9L130.3 188.4L171 213M66.1 209.8L130.2 195.9L170.6 221.2M66.4 217L130.1 202.8L170.3 228.7M66.7 224.4L130.1 209.8L170 236.3" fill="none" stroke="#ababab" stroke-width="0.6"/>
<path d="M87.9 219.1L88.5 217.9L89.5 216.6L90.7 215.5L92.2 214.4L94 213.3L96 212.4L98.3 211.5L100.7 210.8L103.3 210.1L106 209.6L108.8 209.2L111.7 208.9L114.7 208.7L117.7 208.6L120.7 208.7L123.7 208.9L126.6 209.2L129.4 209.6L132.1 210.2L134.7 210.8L137.1 211.6L139.3 212.4L141.3 213.4L143.1 214.4L144.6 215.5L145.8 216.7L146.8 217.9L147.4 219.2L148.7 222.8L149 224.1L149 225.5L148.7 226.9L148 228.2L146.9 229.6L145.5 230.9L143.8 232.1L141.8 233.2L139.4 234.2L136.8 235.2L134 236L131 236.7L127.8 237.2L124.5 237.6L121.1 237.8L117.6 237.9L114.1 237.8L110.7 237.6L107.4 237.2L104.2 236.7L101.2 236L98.4 235.2L95.8 234.2L93.5 233.2L91.4 232L89.7 230.8L88.3 229.5L87.3 228.2L86.6 226.8L86.2 225.5L86.2 224.1L86.6 222.7ZM148.1 221.4L148.7 222.8L150 226.6L150.4 228L150.4 229.5L150 230.9L149.3 232.3L148.2 233.8L146.7 235.1L144.9 236.4L142.8 237.6L140.4 238.7L137.7 239.7L134.7 240.6L131.6 241.3L128.2 241.9L124.8 242.3L121.2 242.5L117.6 242.6L114 242.5L110.4 242.3L107 241.8L103.6 241.3L100.5 240.5L97.5 239.7L94.8 238.7L92.4 237.6L90.3 236.4L88.5 235.1L87.1 233.7L86 232.3L85.3 230.9L84.9 229.4L84.9 228L85.3 226.5L86.6 222.7L87.3 221.4L88.3 220.1L89.6 218.9L91.1 217.7L93 216.6L95.1 215.6L97.4 214.7L99.9 213.9L102.6 213.2L105.5 212.7L108.4 212.2L111.5 211.9L114.6 211.7L117.7 211.6L120.8 211.7L123.9 211.9L127 212.2L129.9 212.7L132.7 213.2L135.4 213.9L137.9 214.7L140.3 215.6L142.4 216.6L144.2 217.7L145.8 218.9L147.1 220.1ZM93.9 243.3L91.4 242.2L89.2 240.9L87.3 239.5L85.8 238.1L84.7 236.6L84 235.1L83.6 233.5L83.6 232L84 230.5L85.3 226.5L86 225.1L87 223.7L88.4 222.4L90.1 221.2L92 220L94.2 219L96.6 218L99.2 217.2L102 216.5L105 215.9L108.1 215.4L111.2 215.1L114.4 214.9L117.7 214.8L121 214.9L124.2 215.1L127.3 215.4L130.4 215.9L133.4 216.5L136.2 217.2L138.8 218.1L141.2 219L143.4 220.1L145.3 221.2L147 222.5L148.3 223.8L149.3 225.1L150 226.6L151.3 230.5L151.7 232L151.7 233.6L151.3 235.1L150.6 236.6L149.4 238.1L147.9 239.6L146.1 240.9L143.9 242.2L141.4 243.4L138.5 244.4L135.5 245.3L132.2 246.1L128.7 246.7L125.1 247.1L121.4 247.4L117.6 247.5L113.8 247.4L110.1 247.1L106.5 246.7L103 246.1L99.7 245.3L96.7 244.4Z" fill="#7c00f9" stroke="#7c00f9" stroke-width="0.35"/>
<path d="M90.3 213.6L90.6 212.4L91.9 209.4L92.5 208.3L93.3 207.3L94.3 206.3L95.6 205.4L97.2 204.5L98.9 203.7L100.8 203L102.9 202.4L105.1 201.9L107.5 201.4L110 201L112.5 200.8L115.1 200.6L117.7 200.6L120.3 200.6L122.9 200.8L125.4 201.1L127.8 201.4L130.2 201.9L132.4 202.4L134.5 203.1L136.4 203.8L138.2 204.6L139.7 205.4L141 206.4L142 207.3L142.8 208.3L143.3 209.4L144.7 212.5L145 213.6L144.9 214.8L144.6 215.9L144 217L143 218.1L141.8 219.2L140.3 220.2L138.5 221.2L136.5 222L134.3 222.8L131.8 223.5L129.2 224L126.4 224.5L123.5 224.8L120.6 225L117.6 225.1L114.6 225L111.7 224.8L108.8 224.5L106 224L103.4 223.4L100.9 222.8L98.7 222L96.7 221.1L94.9 220.2L93.4 219.2L92.2 218.1L91.3 217L90.6 215.9L90.3 214.7ZM88.9 216.9L89.2 215.7L90.6 212.4L91.2 211.3L92 210.2L93.1 209.2L94.5 208.2L96.1 207.3L97.9 206.5L100 205.7L102.2 205L104.5 204.4L107 204L109.6 203.6L112.2 203.3L114.9 203.2L117.7 203.1L120.4 203.2L123.1 203.3L125.8 203.6L128.4 204L130.8 204.5L133.2 205L135.4 205.7L137.4 206.5L139.2 207.3L140.8 208.3L142.2 209.2L143.3 210.3L144.1 211.4L144.7 212.5L146 215.7L146.3 216.9L146.3 218.2L146 219.4L145.3 220.6L144.3 221.8L143.1 222.9L141.5 224L139.6 225L137.5 225.9L135.1 226.7L132.5 227.4L129.8 228L126.9 228.5L123.8 228.9L120.7 229.1L117.6 229.1L114.4 229.1L111.3 228.9L108.3 228.5L105.4 228L102.7 227.4L100.1 226.7L97.7 225.9L95.6 225L93.8 224L92.2 222.9L90.9 221.7L89.9 220.6L89.3 219.4L89 218.1ZM87.6 220.4L87.9 219.1L89.2 215.7L89.8 214.5L90.7 213.4L91.9 212.3L93.4 211.2L95.1 210.2L97 209.3L99.1 208.5L101.4 207.8L103.9 207.2L106.5 206.7L109.2 206.3L112 206L114.8 205.8L117.7 205.8L120.6 205.8L123.4 206L126.2 206.3L128.9 206.7L131.5 207.2L133.9 207.8L136.2 208.6L138.4 209.4L140.3 210.3L142 211.2L143.4 212.3L144.6 213.4L145.5 214.5L146.1 215.7L147.4 219.2L147.7 220.4L147.7 221.7L147.3 223L146.6 224.3L145.6 225.6L144.3 226.8L142.6 227.9L140.7 229L138.5 230L136 230.9L133.3 231.6L130.4 232.3L127.3 232.8L124.2 233.1L120.9 233.4L117.6 233.4L114.3 233.3L111 233.1L107.9 232.8L104.8 232.2L101.9 231.6L99.2 230.8L96.8 230L94.5 229L92.6 227.9L91 226.8L89.6 225.5L88.6 224.3L87.9 223L87.6 221.7Z" fill="#00bbf2" stroke="#00bbf2" stroke-width="0.35"/>
<path d="M97.2 199.5L98 198.7L99.1 197.9L100.4 197.2L101.8 196.6L103.4 196L105.2 195.5L107.1 195L109.1 194.7L111.1 194.4L113.3 194.2L115.4 194L117.6 194L119.8 194L122 194.2L124.2 194.4L126.2 194.7L128.2 195.1L130.1 195.5L131.8 196L133.4 196.6L134.9 197.3L136.2 198L137.2 198.7L138.1 199.5L138.8 200.3L140.1 202.8L140.6 203.7L140.8 204.7L140.7 205.6L140.4 206.6L139.9 207.5L139.1 208.4L138 209.2L136.8 210.1L135.2 210.8L133.5 211.5L131.6 212.1L129.6 212.7L127.3 213.1L125 213.5L122.6 213.8L120.1 213.9L117.6 214L115.1 213.9L112.6 213.8L110.2 213.5L107.8 213.1L105.6 212.7L103.6 212.1L101.7 211.5L99.9 210.8L98.4 210L97.2 209.2L96.1 208.4L95.3 207.5L94.8 206.5L94.5 205.6L94.5 204.7L94.7 203.7L95.1 202.8L96.5 200.3ZM93.1 207.5L93.3 206.5L94.7 203.7L95.1 202.8L95.8 201.9L96.8 201.1L97.9 200.3L99.3 199.5L100.8 198.8L102.6 198.2L104.4 197.6L106.4 197.1L108.5 196.7L110.7 196.4L113 196.2L115.3 196.1L117.7 196L120 196.1L122.3 196.2L124.6 196.4L126.8 196.8L128.9 197.2L130.9 197.6L132.7 198.2L134.4 198.8L136 199.5L137.3 200.3L138.5 201.1L139.4 201.9L140.1 202.8L141.5 205.5L142 206.5L142.2 207.5L142.2 208.5L141.8 209.5L141.3 210.5L140.4 211.5L139.3 212.4L137.9 213.3L136.3 214.1L134.5 214.8L132.5 215.5L130.3 216.1L128 216.6L125.5 217L122.9 217.2L120.3 217.4L117.6 217.5L114.9 217.4L112.3 217.2L109.7 217L107.2 216.6L104.9 216.1L102.7 215.5L100.7 214.8L98.9 214.1L97.3 213.2L95.9 212.4L94.8 211.4L94 210.5L93.4 209.5L93.1 208.5ZM91.7 210.4L91.9 209.4L93.3 206.5L93.8 205.5L94.6 204.5L95.6 203.6L96.8 202.7L98.2 201.9L99.9 201.2L101.7 200.5L103.7 199.9L105.8 199.4L108 199L110.3 198.7L112.7 198.4L115.2 198.3L117.7 198.2L120.1 198.3L122.6 198.4L125 198.7L127.3 199L129.5 199.4L131.7 199.9L133.6 200.5L135.4 201.2L137.1 202L138.5 202.8L139.7 203.6L140.7 204.6L141.5 205.5L142 206.5L143.3 209.4L143.6 210.5L143.5 211.5L143.2 212.6L142.6 213.7L141.7 214.7L140.6 215.7L139.1 216.6L137.4 217.5L135.5 218.3L133.4 219.1L131.1 219.7L128.6 220.2L125.9 220.6L123.2 220.9L120.4 221.1L117.6 221.2L114.8 221.1L112 220.9L109.2 220.6L106.6 220.2L104.1 219.7L101.8 219L99.7 218.3L97.8 217.5L96.1 216.6L94.7 215.7L93.5 214.7L92.6 213.6L92 212.6L91.7 211.5Z" fill="#5ef9b3" stroke="#5ef9b3" stroke-width="0.35"/>
<path d="M101.1 193.2L101.8 192.6L102.7 192L103.7 191.4L104.9 190.9L106.1 190.5L107.6 190L109.1 189.7L110.7 189.4L112.4 189.2L114.1 189L115.8 188.9L117.6 188.9L119.4 188.9L121.2 189L122.9 189.2L124.6 189.4L126.2 189.7L127.7 190.1L129.1 190.5L130.4 190.9L131.5 191.4L132.6 192L133.4 192.6L134.1 193.2L134.6 193.9L136 195.8L136.4 196.6L136.5 197.3L136.5 198.1L136.2 198.8L135.8 199.5L135.1 200.2L134.2 200.9L133.2 201.6L131.9 202.2L130.5 202.7L129 203.2L127.3 203.6L125.5 204L123.6 204.3L121.6 204.5L119.6 204.6L117.6 204.6L115.5 204.6L113.5 204.5L111.6 204.2L109.7 204L107.9 203.6L106.2 203.2L104.6 202.7L103.2 202.1L102 201.5L100.9 200.9L100.1 200.2L99.4 199.5L99 198.8L98.7 198L98.7 197.3L98.8 196.6L99.2 195.8L100.6 193.8ZM99.8 195.1L100.5 194.4L101.5 193.8L102.6 193.2L103.8 192.6L105.2 192.1L106.8 191.7L108.4 191.3L110.1 191L111.9 190.7L113.8 190.6L115.7 190.5L117.6 190.4L119.6 190.5L121.5 190.6L123.3 190.7L125.1 191L126.9 191.3L128.5 191.7L130 192.2L131.4 192.7L132.7 193.2L133.8 193.8L134.7 194.5L135.4 195.1L136 195.8L137.4 198L137.8 198.8L138 199.6L137.9 200.4L137.6 201.2L137.1 202L136.4 202.8L135.5 203.5L134.4 204.2L133 204.9L131.5 205.5L129.9 206L128 206.5L126.1 206.8L124.1 207.1L121.9 207.4L119.8 207.5L117.6 207.5L115.4 207.5L113.2 207.4L111.1 207.1L109 206.8L107.1 206.4L105.3 206L103.6 205.4L102.1 204.8L100.8 204.2L99.7 203.5L98.8 202.7L98 202L97.6 201.2L97.3 200.4L97.3 199.6L97.4 198.8L97.8 198L99.2 195.8ZM98.5 197.2L99.3 196.5L100.3 195.8L101.5 195.1L102.8 194.5L104.3 194L106 193.5L107.7 193.1L109.6 192.7L111.5 192.5L113.5 192.3L115.6 192.2L117.6 192.1L119.7 192.2L121.7 192.3L123.7 192.5L125.7 192.8L127.5 193.1L129.3 193.5L130.9 194L132.4 194.6L133.8 195.2L135 195.8L136 196.5L136.8 197.2L137.4 198L138.8 200.3L139.2 201.2L139.4 202.1L139.3 202.9L139 203.8L138.5 204.7L137.8 205.5L136.8 206.3L135.6 207L134.1 207.8L132.5 208.4L130.7 209L128.8 209.5L126.7 209.9L124.5 210.2L122.3 210.5L119.9 210.6L117.6 210.7L115.2 210.6L112.9 210.5L110.6 210.2L108.4 209.9L106.4 209.5L104.4 209L102.6 208.4L101 207.7L99.6 207L98.4 206.3L97.4 205.5L96.7 204.6L96.2 203.8L95.9 202.9L95.9 202L96.1 201.2L96.5 200.3L97.8 198Z" fill="#c8df74" stroke="#c8df74" stroke-width="0.35"/>
<path d="M102.2 192.3L102.4 191.8L102.7 191.2L103.1 190.6L105.1 188.4L105.7 188L106.3 187.5L107.1 187.1L107.9 186.7L108.9 186.4L110 186.1L111.1 185.8L112.3 185.6L113.6 185.4L114.9 185.3L116.3 185.2L117.6 185.2L119 185.2L120.3 185.3L121.6 185.4L122.9 185.6L124.1 185.8L125.2 186.1L126.3 186.4L127.3 186.7L128.1 187.1L128.9 187.5L129.5 188L130 188.4L132.1 190.6L132.5 191.2L132.8 191.8L132.9 192.4L132.9 192.9L132.7 193.5L132.3 194.1L131.7 194.7L131 195.2L130.2 195.7L129.2 196.2L128 196.6L126.8 197L125.4 197.3L123.9 197.6L122.4 197.8L120.8 198L119.2 198.1L117.6 198.1L115.9 198.1L114.3 198L112.7 197.8L111.2 197.6L109.7 197.3L108.4 197L107.1 196.6L106 196.2L105 195.7L104.1 195.2L103.4 194.7L102.9 194.1L102.5 193.5L102.3 192.9ZM103.1 190.6L103.7 190.1L104.5 189.6L105.4 189.1L106.4 188.6L107.5 188.2L108.8 187.9L110.1 187.6L111.5 187.3L113 187.1L114.5 187L116.1 186.9L117.6 186.9L119.2 186.9L120.7 187L122.2 187.1L123.7 187.3L125.1 187.6L126.5 187.9L127.7 188.2L128.8 188.7L129.8 189.1L130.7 189.6L131.5 190.1L132.1 190.6L132.5 191.2L134.6 193.9L134.9 194.5L135.1 195.2L135 195.9L134.8 196.6L134.4 197.2L133.8 197.9L132.9 198.5L132 199.1L130.8 199.6L129.5 200.1L128.1 200.6L126.5 201L124.9 201.3L123.1 201.5L121.3 201.7L119.4 201.8L117.6 201.9L115.7 201.8L113.8 201.7L112 201.5L110.3 201.3L108.6 201L107.1 200.6L105.6 200.1L104.3 199.6L103.2 199.1L102.2 198.5L101.4 197.9L100.8 197.2L100.4 196.5L100.1 195.9L100.1 195.2L100.2 194.5L100.6 193.8L102.7 191.2Z" fill="#f99444" stroke="#f99444" stroke-width="0.35"/>
<path d="M106.6 187.8L106.7 187.4L106.9 187L107.2 186.6L107.6 186.2L109.6 184.8L110 184.5L110.5 184.3L111.1 184L111.7 183.8L112.5 183.6L113.2 183.4L114 183.3L114.9 183.2L115.8 183.1L116.7 183L117.6 183L118.5 183L119.4 183.1L120.3 183.2L121.1 183.3L121.9 183.4L122.7 183.6L123.4 183.8L124.1 184L124.6 184.3L125.1 184.6L125.6 184.8L127.5 186.2L128 186.6L128.3 187L128.5 187.4L128.6 187.8L128.5 188.2L128.4 188.6L128.1 189L127.7 189.4L127.2 189.8L126.5 190.2L125.8 190.5L125 190.8L124.1 191.1L123.1 191.3L122.1 191.5L121 191.6L119.9 191.7L118.7 191.8L117.5 191.8L116.4 191.8L115.2 191.7L114.1 191.6L113 191.5L112 191.3L111 191.1L110.1 190.8L109.3 190.5L108.6 190.2L107.9 189.8L107.4 189.4L107 189L106.8 188.6L106.6 188.2ZM104.4 189.9L104.5 189.4L104.7 188.9L105.1 188.4L107.2 186.6L107.6 186.2L108.1 185.8L108.8 185.5L109.5 185.2L110.3 184.9L111.2 184.7L112.2 184.4L113.2 184.3L114.2 184.1L115.3 184L116.5 183.9L117.6 183.9L118.7 183.9L119.8 184L120.9 184.1L122 184.3L123 184.4L124 184.7L124.8 184.9L125.7 185.2L126.4 185.5L127 185.9L127.6 186.2L129.5 188L130 188.4L130.4 188.9L130.6 189.4L130.7 189.9L130.7 190.4L130.5 190.9L130.2 191.4L129.7 191.9L129.1 192.3L128.4 192.7L127.5 193.1L126.5 193.5L125.4 193.8L124.3 194.1L123 194.3L121.7 194.5L120.4 194.7L119 194.7L117.6 194.8L116.1 194.7L114.8 194.7L113.4 194.5L112.1 194.3L110.8 194.1L109.7 193.8L108.6 193.5L107.6 193.1L106.8 192.7L106 192.3L105.4 191.8L105 191.4L104.6 190.9L104.4 190.4Z" fill="#f94c23" stroke="#f94c23" stroke-width="0.35"/>
<path d="M110.9 184.8L111 184.5L111.1 184.3L111.3 184.1L111.5 183.8L111.8 183.6L112.2 183.4L112.7 183.2L113.2 183.1L113.7 182.9L115 182.6L115.4 182.5L115.8 182.4L116.2 182.4L116.6 182.3L117.1 182.3L117.5 182.3L118 182.3L118.5 182.3L118.9 182.4L119.3 182.4L119.7 182.5L120.1 182.6L121.4 182.9L121.9 183.1L122.4 183.2L122.9 183.4L123.2 183.6L123.6 183.8L123.8 184.1L124 184.3L124.1 184.6L124.2 184.8L124.1 185L124 185.3L123.8 185.5L123.6 185.8L123.3 186L122.9 186.2L122.5 186.4L122 186.6L121.5 186.7L120.9 186.8L120.2 187L119.6 187L118.9 187.1L118.2 187.2L117.5 187.2L116.8 187.2L116.1 187.1L115.5 187L114.8 187L114.2 186.8L113.6 186.7L113.1 186.5L112.6 186.4L112.2 186.2L111.8 186L111.5 185.7L111.2 185.5L111.1 185.3L111 185ZM117.5 189.3L116.6 189.3L115.7 189.2L114.8 189.1L113.9 189L113.1 188.9L112.3 188.7L111.6 188.5L110.9 188.2L110.4 188L109.9 187.7L109.5 187.4L109.1 187.1L108.9 186.8L108.8 186.4L108.7 186.1L108.8 185.8L109 185.5L109.2 185.1L109.6 184.8L110 184.5L110.5 184.3L112.2 183.4L112.7 183.2L113.2 183.1L113.7 182.9L114.3 182.8L114.9 182.7L115.5 182.6L116.2 182.5L116.9 182.5L117.6 182.5L118.2 182.5L118.9 182.5L119.6 182.6L120.2 182.7L120.8 182.8L121.4 182.9L121.9 183.1L122.4 183.2L122.9 183.4L124.6 184.3L125.1 184.6L125.6 184.8L125.9 185.2L126.1 185.5L126.3 185.8L126.4 186.1L126.3 186.4L126.2 186.8L126 187.1L125.6 187.4L125.2 187.7L124.7 188L124.1 188.2L123.5 188.5L122.8 188.7L122 188.9L121.2 189L120.3 189.1L119.4 189.2L118.5 189.3Z" fill="#f9190c" stroke="#f9190c" stroke-width="0.35"/>
<path d="M117.5 185.4L117.1 185.4L116.6 185.4L116.1 185.3L115.7 185.3L115.3 185.2L114.9 185.1L114.6 185L114.2 184.9L113.9 184.8L113.7 184.6L113.5 184.5L113.3 184.3L113.2 184.2L113.1 184L113.1 183.9L113.1 183.7L113.2 183.5L113.3 183.4L113.5 183.2L113.7 183.1L114 182.9L114.3 182.8L114.6 182.7L115 182.6L115.3 182.5L115.8 182.4L116.2 182.4L116.6 182.3L117.1 182.3L117.5 182.3L118 182.3L118.4 182.3L118.9 182.4L119.3 182.4L119.7 182.5L120.1 182.6L120.5 182.7L120.8 182.8L121.1 182.9L121.3 183.1L121.5 183.2L121.7 183.4L121.8 183.5L121.9 183.7L121.9 183.9L121.9 184L121.8 184.2L121.7 184.3L121.6 184.5L121.4 184.6L121.1 184.8L120.8 184.9L120.5 185L120.1 185.1L119.7 185.2L119.3 185.3L118.9 185.3L118.4 185.4L118 185.4Z" fill="#f90000" stroke="#f90000" stroke-width="0.35"/>
<path d="M64.9 176.2L66.8 227.6L102.1 257.7L169.9 239.6" fill="none" stroke="#333" stroke-width="0.65"/>
<path d="M105.3 255.8L107.4 257.6M101 255.5L98.3 256.2M120.9 251.7L123.1 253.4M92.6 248.3L89.9 249M136.1 247.6L138.3 249.3M84.7 241.5L81.9 242.2M150.9 243.7L153.1 245.3M77.1 235.1L74.3 235.7M165.2 239.9L167.5 241.5M69.8 228.9L67.1 229.5M63.7 186.5L66.5 186.5M63.9 194.2L66.7 194.2M64.2 201.9L67 201.9M64.5 209.8L67.3 209.8M64.8 217L67.6 217M65.1 224.4L67.9 224.4" fill="none" stroke="#333" stroke-width="0.6"/>
<g font-size="7.3" text-anchor="middle" stroke="#111" stroke-width="0.08"><text x="61.5" y="188.6" text-anchor="end"><tspan fill="#6a6a6a" stroke="none">−</tspan><tspan dx="0.5">2</tspan></text><text x="61.5" y="196.2" text-anchor="end"><tspan fill="#6a6a6a" stroke="none">−</tspan><tspan dx="0.5">3</tspan></text><text x="61.5" y="203.8" text-anchor="end"><tspan fill="#6a6a6a" stroke="none">−</tspan><tspan dx="0.5">4</tspan></text><text x="61.5" y="211.8" text-anchor="end"><tspan fill="#6a6a6a" stroke="none">−</tspan><tspan dx="0.5">5</tspan></text><text x="61.5" y="219.1" text-anchor="end"><tspan fill="#6a6a6a" stroke="none">−</tspan><tspan dx="0.5">6</tspan></text><text x="61.5" y="226.7" text-anchor="end"><tspan fill="#6a6a6a" stroke="none">−</tspan><tspan dx="0.5">7</tspan></text><text x="60.7" y="238.7">1.0</text><text x="67.1" y="246.3">0.5</text><text x="72.4" y="252.9">0.0</text><text x="80.4" y="259.7"><tspan fill="#6a6a6a" stroke="none">−</tspan><tspan dx="0.5">0.5</tspan></text><text x="88.8" y="265.9"><tspan fill="#6a6a6a" stroke="none">−</tspan><tspan dx="0.5">1.0</tspan></text><text x="108.4" y="266.7"><tspan fill="#6a6a6a" stroke="none">−</tspan><tspan dx="0.5">1.0</tspan></text><text x="125.5" y="263.2"><tspan fill="#6a6a6a" stroke="none">−</tspan><tspan dx="0.5">0.5</tspan></text><text x="143.2" y="258.9">0.0</text><text x="159.1" y="254.9">0.5</text><text x="172.7" y="251">1.0</text></g>
<g font-size="6.8" text-anchor="middle" stroke="#111" stroke-width="0.08"><text transform="translate(146.5 266.4) rotate(-14)" y="1.7">field x</text><text transform="translate(64 258.7) rotate(50)" y="1.7">field y</text><text transform="translate(45 207.7) rotate(90)" y="1.7">chanfe of S<tspan font-size="4.4" dy="1.4">1</tspan><tspan dy="-1.4"></tspan></text></g>
<text x="40" y="168.5" font-size="6.4" stroke="#111" stroke-width="0.16">1.0 × 10<tspan font-size="3.3" dy="-2.5">−5</tspan></text>
<rect x="184.1" y="180.5" width="12.7" height="59.1" fill="url(#rb)" stroke="#222" stroke-opacity="0.55" stroke-width="0.4"/>
<path d="M196.8 190.1h2M196.8 200.9h2M196.8 211.6h2M196.8 222.4h2M196.8 233.1h2" fill="none" stroke="#333" stroke-width="0.55"/>
<g font-size="6.744999999999999" stroke="#111" stroke-width="0.08"><text x="199" y="192.3"><tspan fill="#6a6a6a" stroke="none">−</tspan><tspan dx="0.5">2</tspan></text><text x="199" y="203.1"><tspan fill="#6a6a6a" stroke="none">−</tspan><tspan dx="0.5">3</tspan></text><text x="199" y="213.8"><tspan fill="#6a6a6a" stroke="none">−</tspan><tspan dx="0.5">4</tspan></text><text x="199" y="224.6"><tspan fill="#6a6a6a" stroke="none">−</tspan><tspan dx="0.5">5</tspan></text><text x="199" y="235.3"><tspan fill="#6a6a6a" stroke="none">−</tspan><tspan dx="0.5">6</tspan></text></g>
<text x="191.6" y="178.4" font-size="6.4" text-anchor="middle" stroke="#111" stroke-width="0.16">1.0 × 10<tspan font-size="3.3" dy="-2.5">−5</tspan></text>
</g>
<g>
<path d="M264.3 255.6L336.1 241.9L302 216.2L236.2 227.2ZM236.2 227.2L302 216.2L302.5 166.2L234.5 175.1ZM336.1 241.9L302 216.2L302.5 166.2L338 186.9Z" fill="#f8f8f8" stroke="#d4d4d4" stroke-width="0.5"/>
<path d="M268.6 254.8L240.2 226.5L238.6 174.5M262.5 253.8L334 240.2L335.8 185.6M285.1 251.7L255.2 224L254.2 172.5M255.8 247L325.9 234.1L327.3 180.7M301.2 248.6L269.9 221.5L269.4 170.5M249.4 240.6L318.1 228.3L319.3 176M316.9 245.6L284.3 219.1L284.3 168.6M243.4 234.5L310.8 222.8L311.6 171.5M332.2 242.6L298.4 216.8L298.8 166.7M237.7 228.6L303.7 217.5L304.4 167.3M234.9 185.6L302.4 176.3L337.6 198M235.1 193.4L302.3 183.8L337.4 206.3M235.4 201L302.3 191.1L337.1 214.4M235.6 208.6L302.2 198.4L336.8 222.3M235.9 216.1L302.1 205.5L336.5 230.2M236.1 223.6L302 212.8L336.3 238.2" fill="none" stroke="#ababab" stroke-width="0.6"/>
<path d="M255.2 219.8L255.8 218.7L256.7 217.6L257.9 216.5L259.4 215.6L261.1 214.6L263.1 213.8L265.2 213L267.6 212.3L270.1 211.8L272.8 211.3L275.6 210.9L278.4 210.6L281.3 210.4L284.3 210.4L287.2 210.4L290.1 210.6L293 210.8L295.8 211.2L298.5 211.7L301 212.3L303.4 212.9L305.6 213.7L307.6 214.5L309.3 215.4L310.8 216.4L312.1 217.4L313 218.5L313.7 219.6L315 223.3L315.3 224.5L315.4 225.7L315 226.9L314.4 228.1L313.4 229.3L312 230.5L310.4 231.5L308.4 232.6L306.1 233.5L303.6 234.3L300.8 235.1L297.9 235.7L294.7 236.2L291.5 236.5L288.1 236.7L284.7 236.8L281.3 236.8L278 236.6L274.7 236.2L271.6 235.7L268.6 235.2L265.8 234.4L263.2 233.6L260.9 232.7L258.9 231.7L257.2 230.6L255.8 229.5L254.7 228.3L254 227.1L253.7 225.9L253.6 224.7L253.9 223.4ZM253.9 223.4L254.6 222.3L255.5 221.1L256.8 220L258.3 219L260.1 218L262.1 217.1L264.4 216.3L266.9 215.6L269.5 215L272.3 214.4L275.2 214L278.2 213.7L281.2 213.6L284.3 213.5L287.3 213.5L290.4 213.7L293.4 214L296.3 214.4L299.1 214.9L301.7 215.5L304.2 216.2L306.5 217L308.6 217.9L310.4 218.8L312 219.8L313.3 220.9L314.3 222.1L315 223.3L316.3 227.1L316.7 228.4L316.7 229.7L316.4 231L315.7 232.3L314.6 233.5L313.2 234.7L311.5 235.9L309.4 237L307.1 238L304.4 238.8L301.6 239.6L298.5 240.3L295.2 240.8L291.8 241.2L288.3 241.4L284.8 241.5L281.2 241.4L277.7 241.2L274.3 240.9L271 240.4L267.9 239.7L265 239L262.3 238.1L259.9 237.1L257.8 236L256 234.9L254.6 233.7L253.5 232.5L252.7 231.2L252.3 229.9L252.3 228.6L252.6 227.3ZM252.6 227.3L253.3 226L254.3 224.8L255.6 223.7L257.2 222.5L259.1 221.5L261.2 220.6L263.6 219.7L266.2 219L268.9 218.3L271.8 217.8L274.8 217.3L277.9 217L281.1 216.8L284.3 216.8L287.5 216.8L290.6 217L293.7 217.3L296.8 217.7L299.7 218.2L302.4 218.9L305 219.6L307.4 220.4L309.6 221.4L311.5 222.4L313.2 223.5L314.5 224.6L315.6 225.9L316.3 227.1L317.6 231.1L318 232.5L318 233.9L317.7 235.2L317 236.6L315.9 237.9L314.4 239.2L312.6 240.4L310.5 241.6L308 242.6L305.3 243.6L302.3 244.4L299.1 245.1L295.7 245.7L292.1 246.1L288.5 246.3L284.8 246.4L281.1 246.3L277.4 246.1L273.8 245.7L270.4 245.2L267.2 244.5L264.1 243.7L261.3 242.8L258.8 241.7L256.7 240.6L254.8 239.4L253.3 238.1L252.2 236.8L251.4 235.4L251 234.1L251 232.7L251.3 231.3Z" fill="#7c00f9" stroke="#7c00f9" stroke-width="0.35"/>
<path d="M257.6 214L257.9 213L259.2 209.8L259.7 208.9L260.5 208L261.5 207.2L262.8 206.4L264.2 205.6L265.9 204.9L267.8 204.3L269.8 203.7L272 203.2L274.3 202.8L276.7 202.5L279.2 202.2L281.7 202.1L284.3 202L286.9 202.1L289.4 202.2L291.9 202.4L294.3 202.7L296.6 203.1L298.8 203.6L300.9 204.2L302.8 204.8L304.5 205.5L306 206.2L307.3 207L308.3 207.9L309.1 208.8L309.7 209.7L311 212.8L311.3 213.8L311.3 214.8L311 215.9L310.4 216.9L309.5 217.8L308.3 218.8L306.9 219.7L305.2 220.5L303.2 221.3L301 222L298.6 222.6L296 223.1L293.3 223.5L290.5 223.8L287.6 223.9L284.7 224L281.8 224L278.9 223.8L276 223.5L273.3 223.1L270.7 222.6L268.3 222.1L266.1 221.4L264.1 220.6L262.3 219.8L260.8 218.9L259.6 218L258.7 217L258 216L257.7 215ZM256.3 217.4L256.6 216.3L257.9 213L258.4 212L259.2 211L260.3 210.1L261.6 209.2L263.2 208.4L265 207.7L266.9 207L269.1 206.4L271.4 205.9L273.8 205.5L276.3 205.1L278.9 204.9L281.6 204.7L284.3 204.7L287 204.7L289.6 204.8L292.3 205.1L294.8 205.4L297.2 205.8L299.6 206.3L301.7 206.9L303.7 207.6L305.5 208.3L307.1 209.1L308.5 210L309.6 210.9L310.4 211.8L311 212.8L312.4 216.1L312.7 217.2L312.7 218.3L312.4 219.4L311.7 220.4L310.8 221.5L309.6 222.5L308 223.4L306.2 224.3L304.2 225.1L301.9 225.9L299.4 226.5L296.7 227.1L293.8 227.5L290.8 227.8L287.8 228L284.7 228.1L281.6 228L278.6 227.8L275.6 227.5L272.7 227.1L270 226.6L267.5 226L265.1 225.3L263 224.4L261.2 223.6L259.6 222.6L258.3 221.6L257.4 220.6L256.7 219.5L256.3 218.4ZM256.6 216.3L257.1 215.2L258 214.2L259.1 213.2L260.5 212.3L262.2 211.4L264 210.7L266.1 209.9L268.3 209.3L270.8 208.7L273.3 208.3L275.9 207.9L278.7 207.7L281.5 207.5L284.3 207.4L287.1 207.5L289.9 207.6L292.6 207.9L295.3 208.2L297.9 208.7L300.3 209.2L302.6 209.8L304.7 210.5L306.6 211.3L308.2 212.2L309.7 213.1L310.8 214.1L311.7 215.1L312.4 216.1L313.7 219.6L314 220.7L314 221.9L313.7 223L313.1 224.2L312.1 225.3L310.8 226.4L309.2 227.4L307.3 228.3L305.1 229.2L302.7 230L300.1 230.7L297.3 231.3L294.3 231.7L291.2 232.1L288 232.3L284.7 232.3L281.5 232.3L278.3 232.1L275.2 231.8L272.1 231.3L269.3 230.8L266.6 230.1L264.2 229.3L262 228.5L260 227.5L258.4 226.5L257.1 225.5L256 224.4L255.4 223.2L255 222.1L255 220.9L255.2 219.8Z" fill="#00bbf2" stroke="#00bbf2" stroke-width="0.35"/>
<path d="M261.7 204.9L261.9 204.1L263.3 201.5L263.7 200.8L264.3 200L265.2 199.3L266.2 198.7L267.5 198.1L268.9 197.5L270.4 197L272.1 196.5L274 196.1L275.9 195.8L277.9 195.5L280 195.3L282.2 195.2L284.3 195.2L286.5 195.2L288.6 195.3L290.7 195.5L292.7 195.8L294.7 196.1L296.6 196.5L298.3 196.9L299.9 197.4L301.3 198L302.6 198.6L303.6 199.2L304.5 199.9L305.2 200.7L305.6 201.4L307 204L307.2 204.8L307.2 205.6L306.9 206.5L306.4 207.3L305.6 208.1L304.6 208.8L303.4 209.5L301.9 210.2L300.3 210.8L298.4 211.4L296.4 211.9L294.2 212.3L291.9 212.6L289.6 212.8L287.1 213L284.7 213L282.2 213L279.8 212.8L277.4 212.6L275.1 212.3L272.9 211.9L270.9 211.5L269 210.9L267.3 210.3L265.8 209.6L264.5 208.9L263.5 208.2L262.7 207.4L262.1 206.6L261.8 205.8ZM260.4 207.8L260.6 206.9L261.9 204.1L262.4 203.3L263 202.5L263.9 201.8L265.1 201.1L266.4 200.4L267.9 199.8L269.5 199.2L271.4 198.7L273.3 198.3L275.4 198L277.5 197.7L279.8 197.5L282 197.4L284.3 197.3L286.6 197.3L288.9 197.5L291.1 197.6L293.3 197.9L295.3 198.3L297.3 198.7L299.2 199.2L300.8 199.7L302.4 200.3L303.7 201L304.9 201.7L305.8 202.4L306.5 203.2L307 204L308.3 206.8L308.6 207.6L308.6 208.5L308.3 209.4L307.7 210.3L306.9 211.1L305.9 211.9L304.6 212.7L303 213.4L301.2 214.1L299.3 214.7L297.1 215.2L294.8 215.7L292.4 216L289.9 216.3L287.3 216.4L284.7 216.5L282.1 216.4L279.5 216.3L276.9 216.1L274.5 215.7L272.2 215.3L270 214.8L268 214.2L266.2 213.6L264.6 212.8L263.3 212.1L262.2 211.3L261.3 210.4L260.7 209.5L260.4 208.7ZM259 210.8L259.2 209.8L260.6 206.9L261 206L261.8 205.2L262.7 204.4L263.9 203.6L265.3 202.9L266.9 202.3L268.7 201.7L270.6 201.1L272.7 200.7L274.9 200.3L277.1 200L279.5 199.8L281.9 199.6L284.3 199.6L286.7 199.6L289.1 199.8L291.5 200L293.8 200.2L296 200.6L298.1 201.1L300 201.6L301.8 202.2L303.4 202.8L304.9 203.5L306.1 204.3L307.1 205.1L307.8 205.9L308.3 206.8L309.7 209.7L310 210.6L309.9 211.6L309.7 212.5L309.1 213.5L308.2 214.4L307.1 215.3L305.7 216.1L304.1 216.9L302.2 217.6L300.1 218.2L297.9 218.8L295.4 219.3L292.9 219.6L290.2 219.9L287.5 220.1L284.7 220.1L281.9 220.1L279.2 219.9L276.5 219.7L273.9 219.3L271.4 218.9L269.2 218.3L267 217.7L265.1 217L263.5 216.2L262 215.4L260.9 214.5L260 213.6L259.4 212.7L259.1 211.7Z" fill="#5ef9b3" stroke="#5ef9b3" stroke-width="0.35"/>
<path d="M268.3 193.6L268.9 193.1L269.8 192.6L270.7 192.1L271.9 191.6L273.1 191.2L274.5 190.9L276 190.5L277.6 190.3L279.2 190.1L280.9 189.9L282.6 189.8L284.4 189.8L286.1 189.8L287.8 189.9L289.5 190.1L291.2 190.2L292.7 190.5L294.2 190.8L295.6 191.2L296.9 191.6L298.1 192L299.1 192.5L299.9 193L300.6 193.5L301.1 194.1L302.5 196.1L302.9 196.7L303 197.4L303 198L302.8 198.7L302.3 199.3L301.7 199.9L300.9 200.5L299.8 201.1L298.7 201.6L297.3 202.1L295.8 202.5L294.1 202.9L292.4 203.2L290.5 203.5L288.6 203.6L286.6 203.8L284.6 203.8L282.6 203.8L280.6 203.7L278.7 203.5L276.9 203.3L275.1 203L273.4 202.6L271.9 202.2L270.5 201.7L269.3 201.2L268.2 200.6L267.4 200L266.7 199.4L266.2 198.8L266 198.1L265.9 197.5L266.1 196.8L266.4 196.2L267.8 194.2ZM264.5 199.8L264.7 199.1L265.1 198.4L266.4 196.2L266.9 195.6L267.7 195L268.6 194.4L269.6 193.9L270.9 193.4L272.2 193L273.7 192.6L275.3 192.2L277 192L278.8 191.7L280.6 191.6L282.5 191.5L284.3 191.4L286.2 191.5L288.1 191.6L289.9 191.7L291.7 191.9L293.4 192.2L295 192.5L296.5 192.9L297.9 193.3L299.1 193.8L300.2 194.3L301.2 194.9L301.9 195.5L302.5 196.1L303.8 198.3L304.2 199L304.4 199.7L304.4 200.4L304.2 201.1L303.7 201.8L303 202.5L302.1 203.1L301 203.7L299.7 204.3L298.3 204.8L296.7 205.3L294.9 205.7L293 206L291 206.3L288.9 206.5L286.8 206.6L284.6 206.7L282.5 206.6L280.4 206.5L278.3 206.3L276.3 206.1L274.3 205.8L272.6 205.4L270.9 204.9L269.4 204.4L268.1 203.8L267 203.2L266.1 202.6L265.4 201.9L264.9 201.2L264.6 200.5ZM263.1 202.3L263.3 201.5L263.7 200.8L265.1 198.4L265.6 197.7L266.4 197.1L267.4 196.5L268.5 195.9L269.9 195.4L271.3 194.9L272.9 194.5L274.6 194.1L276.5 193.8L278.4 193.6L280.3 193.4L282.3 193.3L284.3 193.2L286.4 193.3L288.4 193.4L290.3 193.5L292.2 193.8L294.1 194.1L295.8 194.4L297.4 194.8L298.9 195.3L300.2 195.8L301.4 196.4L302.4 197L303.2 197.6L303.8 198.3L304.2 199L305.6 201.4L305.8 202.2L305.8 202.9L305.5 203.7L305 204.4L304.3 205.2L303.4 205.9L302.2 206.5L300.8 207.2L299.3 207.7L297.5 208.2L295.6 208.7L293.6 209.1L291.5 209.4L289.2 209.6L287 209.7L284.7 209.8L282.3 209.7L280.1 209.6L277.8 209.4L275.7 209.1L273.6 208.7L271.7 208.3L269.9 207.8L268.3 207.2L266.9 206.6L265.7 206L264.8 205.3L264 204.5L263.5 203.8L263.2 203Z" fill="#c8df74" stroke="#c8df74" stroke-width="0.35"/>
<path d="M272.2 188.7L272.7 188.3L273.4 187.9L274.1 187.6L275 187.2L275.9 186.9L276.9 186.7L278.1 186.4L279.2 186.2L280.5 186.1L281.8 186L283.1 185.9L284.4 185.9L285.7 185.9L287 186L288.3 186.1L289.5 186.2L290.7 186.4L291.9 186.6L292.9 186.9L293.9 187.2L294.7 187.5L295.5 187.9L296.1 188.2L296.6 188.6L297 189.1L299.1 191.4L299.4 191.9L299.5 192.4L299.5 192.9L299.3 193.4L298.9 193.9L298.4 194.4L297.7 194.9L296.9 195.3L295.9 195.7L294.8 196.1L293.6 196.4L292.3 196.7L290.8 197L289.4 197.2L287.8 197.3L286.2 197.4L284.6 197.4L283 197.4L281.4 197.3L279.8 197.2L278.3 197L276.9 196.8L275.6 196.5L274.3 196.2L273.2 195.8L272.2 195.4L271.4 194.9L270.7 194.5L270.1 194L269.7 193.5L269.5 193L269.4 192.5L269.5 192L269.8 191.5L270.2 191ZM270.2 191L270.8 190.5L271.6 190L272.4 189.6L273.4 189.2L274.5 188.9L275.7 188.6L277 188.3L278.4 188.1L279.8 187.9L281.3 187.8L282.8 187.7L284.4 187.7L285.9 187.7L287.4 187.8L288.9 187.9L290.4 188.1L291.7 188.3L293.1 188.5L294.3 188.8L295.4 189.2L296.4 189.6L297.3 190L298 190.4L298.6 190.9L299.1 191.4L301.1 194.1L301.5 194.7L301.6 195.3L301.6 195.8L301.4 196.4L301 197L300.4 197.6L299.6 198.1L298.7 198.6L297.6 199.1L296.3 199.6L294.9 200L293.4 200.3L291.8 200.6L290.1 200.8L288.3 201L286.5 201.1L284.6 201.1L282.8 201.1L280.9 201L279.2 200.8L277.4 200.6L275.8 200.3L274.3 200L272.9 199.6L271.6 199.2L270.4 198.7L269.5 198.2L268.7 197.7L268.1 197.1L267.6 196.5L267.4 195.9L267.3 195.3L267.5 194.8L267.8 194.2L269.8 191.5Z" fill="#f99444" stroke="#f99444" stroke-width="0.35"/>
<path d="M273.7 187.9L273.8 187.5L274 187.2L274.3 186.8L274.7 186.5L276.6 185.1L277 184.8L277.5 184.6L278.1 184.4L278.7 184.2L279.4 184L280.2 183.8L281 183.7L281.8 183.6L282.6 183.5L283.5 183.5L284.4 183.5L285.3 183.5L286.2 183.5L287.1 183.6L287.9 183.7L288.7 183.8L289.4 184L290.1 184.1L290.8 184.3L291.4 184.5L291.9 184.8L292.3 185L294.2 186.4L294.6 186.8L295 187.1L295.2 187.5L295.3 187.8L295.2 188.2L295.1 188.5L294.8 188.9L294.4 189.2L293.9 189.6L293.3 189.9L292.6 190.1L291.8 190.4L291 190.6L290 190.8L289 191L287.9 191.1L286.8 191.2L285.7 191.3L284.6 191.3L283.4 191.3L282.3 191.3L281.2 191.2L280.1 191L279.1 190.9L278.1 190.7L277.2 190.4L276.4 190.2L275.7 189.9L275.1 189.6L274.6 189.3L274.2 188.9L273.9 188.6L273.8 188.2ZM271.6 190L271.7 189.5L271.9 189.1L272.2 188.7L274.3 186.8L274.7 186.5L275.2 186.2L275.8 185.9L276.5 185.6L277.3 185.4L278.2 185.1L279.1 184.9L280.1 184.8L281.1 184.7L282.2 184.6L283.3 184.5L284.4 184.5L285.5 184.5L286.6 184.6L287.7 184.6L288.7 184.8L289.7 184.9L290.7 185.1L291.5 185.3L292.3 185.6L293.1 185.8L293.7 186.1L294.2 186.4L294.6 186.8L296.6 188.6L297 189.1L297.3 189.5L297.4 189.9L297.4 190.3L297.2 190.8L296.9 191.2L296.4 191.6L295.8 192L295.1 192.4L294.3 192.7L293.3 193.1L292.3 193.3L291.1 193.6L289.9 193.8L288.6 194L287.3 194.1L286 194.1L284.6 194.2L283.2 194.2L281.8 194.1L280.5 194L279.2 193.8L278 193.6L276.8 193.4L275.8 193.1L274.8 192.8L274 192.4L273.2 192.1L272.6 191.7L272.2 191.3L271.8 190.8L271.6 190.4Z" fill="#f94c23" stroke="#f94c23" stroke-width="0.35"/>
<path d="M278 184.8L278 184.6L278.2 184.4L278.3 184.2L278.6 184L278.9 183.8L279.3 183.6L279.7 183.5L281.3 183L281.6 182.9L281.9 182.8L282.3 182.7L282.7 182.6L283.1 182.6L283.6 182.6L284 182.5L284.5 182.5L284.9 182.5L285.3 182.6L285.8 182.6L286.2 182.6L286.6 182.7L287 182.8L287.3 182.9L287.7 183L289.2 183.5L289.7 183.6L290 183.8L290.4 184L290.6 184.2L290.8 184.4L290.9 184.6L291 184.8L290.9 185L290.8 185.2L290.7 185.4L290.4 185.6L290.2 185.8L289.8 186L289.4 186.2L288.9 186.3L288.4 186.4L287.8 186.6L287.2 186.7L286.6 186.7L285.9 186.8L285.2 186.8L284.5 186.9L283.9 186.8L283.2 186.8L282.5 186.8L281.9 186.7L281.3 186.6L280.7 186.5L280.2 186.3L279.7 186.2L279.2 186L278.9 185.8L278.6 185.6L278.3 185.5L278.1 185.2L278 185ZM276.6 185.1L277 184.8L278.9 183.8L279.2 183.6L279.7 183.5L280.1 183.3L280.7 183.2L281.2 183.1L281.8 183L282.5 182.9L283.1 182.9L283.8 182.8L284.4 182.8L285.1 182.8L285.8 182.8L286.4 182.9L287 183L287.7 183.1L288.2 183.2L288.7 183.3L289.2 183.5L289.7 183.6L290 183.8L291.9 184.8L292.3 185L292.6 185.3L292.9 185.6L293 185.8L293.1 186.1L293.1 186.4L293 186.7L292.7 187L292.4 187.2L292 187.5L291.6 187.7L291 188L290.4 188.2L289.7 188.3L288.9 188.5L288.1 188.6L287.3 188.7L286.4 188.8L285.5 188.9L284.6 188.9L283.6 188.9L282.7 188.8L281.8 188.8L281 188.7L280.2 188.5L279.4 188.4L278.7 188.2L278.1 188L277.5 187.8L277 187.5L276.6 187.3L276.3 187L276 186.7L275.9 186.4L275.9 186.2L275.9 185.9L276.1 185.6L276.3 185.3Z" fill="#f9190c" stroke="#f9190c" stroke-width="0.35"/>
<path d="M284.5 185.2L284.1 185.2L283.6 185.2L283.2 185.1L282.8 185.1L282.3 185L282 185L281.6 184.9L281.3 184.8L281 184.7L280.8 184.5L280.5 184.4L280.4 184.3L280.3 184.1L280.2 184L280.2 183.9L280.2 183.7L280.3 183.6L280.4 183.5L280.5 183.3L280.7 183.2L281 183.1L281.3 183L281.6 182.9L281.9 182.8L282.3 182.7L282.7 182.6L283.1 182.6L283.6 182.6L284 182.5L284.5 182.5L284.9 182.5L285.4 182.6L285.8 182.6L286.2 182.6L286.6 182.7L287 182.8L287.3 182.9L287.7 183L288 183.1L288.2 183.2L288.4 183.3L288.6 183.4L288.7 183.6L288.8 183.7L288.8 183.8L288.8 184L288.7 184.1L288.6 184.3L288.5 184.4L288.3 184.5L288 184.6L287.7 184.8L287.4 184.9L287.1 184.9L286.7 185L286.3 185.1L285.9 185.1L285.4 185.2L285 185.2Z" fill="#f90000" stroke="#f90000" stroke-width="0.35"/>
<path d="M234.5 175.1L236.2 227.2L264.3 255.6L336.1 241.9" fill="none" stroke="#333" stroke-width="0.65"/>
<path d="M267.8 254L269.8 255.9M263.7 253.6L260.9 254.1M284.2 250.8L286.3 252.7M257 246.8L254.2 247.3M300.3 247.8L302.4 249.6M250.6 240.4L247.9 240.9M315.9 244.8L318.1 246.6M244.6 234.3L241.8 234.7M331.3 241.9L333.5 243.6M238.8 228.4L236.1 228.9M233.3 185.6L236.1 185.6M233.5 193.4L236.3 193.4M233.8 201L236.6 201M234 208.6L236.8 208.6M234.3 216.1L237.1 216.1M234.5 223.6L237.3 223.6" fill="none" stroke="#333" stroke-width="0.6"/>
<g font-size="7.3" text-anchor="middle" stroke="#111" stroke-width="0.08"><text x="229.4" y="187.7" text-anchor="end"><tspan fill="#6a6a6a" stroke="none">−</tspan><tspan dx="0.5">2</tspan></text><text x="229.4" y="195.4" text-anchor="end"><tspan fill="#6a6a6a" stroke="none">−</tspan><tspan dx="0.5">3</tspan></text><text x="229.4" y="203" text-anchor="end"><tspan fill="#6a6a6a" stroke="none">−</tspan><tspan dx="0.5">4</tspan></text><text x="229.4" y="210.6" text-anchor="end"><tspan fill="#6a6a6a" stroke="none">−</tspan><tspan dx="0.5">5</tspan></text><text x="229.4" y="218.2" text-anchor="end"><tspan fill="#6a6a6a" stroke="none">−</tspan><tspan dx="0.5">6</tspan></text><text x="229.4" y="225.9" text-anchor="end"><tspan fill="#6a6a6a" stroke="none">−</tspan><tspan dx="0.5">7</tspan></text><text x="231.6" y="237.3">1.0</text><text x="235.8" y="244.1">0.5</text><text x="241.4" y="250.7">0.0</text><text x="246.5" y="257.7"><tspan fill="#6a6a6a" stroke="none">−</tspan><tspan dx="0.5">0.5</tspan></text><text x="253" y="263.8"><tspan fill="#6a6a6a" stroke="none">−</tspan><tspan dx="0.5">1.0</tspan></text><text x="273.8" y="265.9"><tspan fill="#6a6a6a" stroke="none">−</tspan><tspan dx="0.5">1.0</tspan></text><text x="288.9" y="263.2"><tspan fill="#6a6a6a" stroke="none">−</tspan><tspan dx="0.5">0.5</tspan></text><text x="304.5" y="259.7">0.0</text><text x="321.8" y="256.8">0.5</text><text x="336.5" y="254.2">1.0</text></g>
<g font-size="6.8" text-anchor="middle" stroke="#111" stroke-width="0.08"><text transform="translate(303.5 267.1) rotate(-10)" y="1.7">field x</text><text transform="translate(231.9 254.8) rotate(50)" y="1.7">field y</text><text transform="translate(215.4 204) rotate(90)" y="1.7">chanfe of S<tspan font-size="4.4" dy="1.4">1</tspan><tspan dy="-1.4"></tspan></text></g>
<text x="215.8" y="169.2" font-size="6.4" stroke="#111" stroke-width="0.16">1.0 × 10<tspan font-size="3.3" dy="-2.5">−5</tspan></text>
<rect x="351.1" y="180.9" width="12.7" height="58.9" fill="url(#rb)" stroke="#222" stroke-opacity="0.55" stroke-width="0.4"/>
<path d="M363.8 190.7h2M363.8 201.2h2M363.8 211.4h2M363.8 221.9h2M363.8 233.2h2" fill="none" stroke="#333" stroke-width="0.55"/>
<g font-size="6.744999999999999" stroke="#111" stroke-width="0.08"><text x="366" y="192.9"><tspan fill="#6a6a6a" stroke="none">−</tspan><tspan dx="0.5">2</tspan></text><text x="366" y="203.4"><tspan fill="#6a6a6a" stroke="none">−</tspan><tspan dx="0.5">3</tspan></text><text x="366" y="213.6"><tspan fill="#6a6a6a" stroke="none">−</tspan><tspan dx="0.5">4</tspan></text><text x="366" y="224.1"><tspan fill="#6a6a6a" stroke="none">−</tspan><tspan dx="0.5">5</tspan></text><text x="366" y="235.4"><tspan fill="#6a6a6a" stroke="none">−</tspan><tspan dx="0.5">6</tspan></text></g>
<text x="357.2" y="178.6" font-size="6.4" text-anchor="middle" stroke="#111" stroke-width="0.16">1.0 × 10<tspan font-size="3.3" dy="-2.5">−5</tspan></text>
</g>
<g>
<path d="M425.1 255.4L503.3 245.5L476.2 218.4L405.9 226.3ZM405.9 226.3L476.2 218.4L476.9 165.7L404.4 171.9ZM503.3 245.5L476.2 218.4L476.9 165.7L505.1 187Z" fill="#f8f8f8" stroke="#d4d4d4" stroke-width="0.5"/>
<path d="M429.8 254.8L410.1 225.8L408.7 171.5M423.9 253.5L501.6 243.8L503.3 185.7M447.6 252.6L426 224L425.1 170.1M419.3 246.6L495.1 237.3L496.6 180.6M465 250.4L441.7 222.3L441.3 168.7M415 240L489 231.2L490.2 175.7M482.1 248.2L457.1 220.6L457.2 167.4M410.8 233.7L483.1 225.4L484.1 171.1M499 246L472.3 218.9L472.9 166M406.9 227.8L477.6 219.8L478.4 166.8M404.6 178L476.9 171.6L504.9 193.6M404.8 186.1L476.7 179.5L504.6 202.4M405 193.8L476.6 187L504.4 210.7M405.2 201.6L476.5 194.5L504.1 219.1M405.5 209.6L476.4 202.2L503.9 227.6M405.7 217.1L476.3 209.5L503.6 235.6M405.9 224.5L476.2 216.7L503.4 243.6" fill="none" stroke="#ababab" stroke-width="0.6"/>
<path d="M482.9 218.4L483.5 219.5L484.9 223.3L485.2 224.5L485.1 225.7L484.8 226.9L484 228.1L482.9 229.3L481.5 230.4L479.7 231.5L477.6 232.5L475.2 233.4L472.5 234.2L469.6 234.9L466.5 235.5L463.3 235.9L459.9 236.3L456.4 236.5L452.8 236.5L449.3 236.4L445.8 236.2L442.5 235.9L439.2 235.4L436.2 234.8L433.3 234L430.7 233.2L428.3 232.3L426.3 231.3L424.6 230.2L423.2 229.1L422.2 227.9L421.5 226.7L421.2 225.5L421.2 224.3L421.6 223.1L422.9 219.3L423.6 218.2L424.6 217.1L425.9 216.1L427.4 215.1L429.3 214.2L431.3 213.4L433.6 212.7L436.1 212L438.7 211.5L441.5 211L444.4 210.6L447.4 210.4L450.4 210.2L453.5 210.2L456.5 210.2L459.5 210.4L462.5 210.7L465.4 211.1L468.1 211.6L470.7 212.1L473.2 212.8L475.4 213.6L477.4 214.4L479.2 215.3L480.7 216.3L482 217.3ZM484.2 222.1L484.8 223.3L486.2 227.3L486.5 228.5L486.5 229.8L486.1 231.1L485.3 232.4L484.2 233.6L482.6 234.8L480.8 236L478.6 237L476.1 238L473.3 238.9L470.3 239.6L467.1 240.2L463.6 240.7L460.1 241.1L456.5 241.3L452.8 241.4L449.1 241.3L445.5 241L441.9 240.6L438.5 240.1L435.3 239.5L432.3 238.7L429.6 237.8L427.2 236.8L425.1 235.7L423.3 234.6L421.8 233.4L420.8 232.1L420.1 230.9L419.7 229.6L419.8 228.3L420.2 227L421.5 223.1L422.2 221.9L423.3 220.8L424.6 219.7L426.3 218.7L428.2 217.7L430.3 216.8L432.7 216L435.3 215.3L438.1 214.8L441 214.3L444 213.9L447.1 213.6L450.2 213.4L453.4 213.4L456.6 213.5L459.7 213.6L462.8 213.9L465.8 214.3L468.7 214.9L471.4 215.5L474 216.2L476.3 217L478.4 217.9L480.3 218.8L481.9 219.9L483.2 221ZM485.4 226L486.1 227.3L487.5 231.4L487.8 232.8L487.8 234.2L487.4 235.5L486.6 236.9L485.4 238.2L483.8 239.5L481.9 240.7L479.6 241.8L477 242.8L474.1 243.7L471 244.5L467.6 245.2L464 245.7L460.3 246.1L456.5 246.3L452.7 246.4L448.9 246.3L445.1 246.1L441.4 245.6L437.8 245.1L434.5 244.4L431.4 243.6L428.6 242.6L426 241.6L423.8 240.4L422 239.2L420.5 237.9L419.4 236.6L418.6 235.3L418.3 233.9L418.3 232.5L418.8 231.2L420.1 227L420.9 225.8L421.9 224.6L423.4 223.4L425.1 222.4L427.1 221.3L429.3 220.4L431.8 219.6L434.5 218.9L437.4 218.2L440.4 217.7L443.5 217.3L446.8 217L450.1 216.8L453.4 216.8L456.7 216.9L460 217.1L463.2 217.4L466.3 217.8L469.3 218.3L472.1 219L474.8 219.7L477.2 220.6L479.4 221.5L481.4 222.6L483 223.7L484.4 224.8Z" fill="#7c00f9" stroke="#7c00f9" stroke-width="0.35"/>
<path d="M480.9 212.5L481.2 213.5L481.1 214.5L480.7 215.5L480.1 216.5L479.1 217.4L477.8 218.3L476.3 219.2L474.5 220L472.4 220.8L470.1 221.4L467.5 222L464.9 222.5L462 222.9L459.1 223.1L456.1 223.3L453 223.4L450 223.3L447 223.1L444.1 222.8L441.3 222.4L438.6 221.9L436.1 221.3L433.9 220.6L431.8 219.9L430.1 219L428.6 218.2L427.3 217.2L426.4 216.3L425.8 215.3L425.5 214.3L425.5 213.3L425.8 212.3L427.2 209.1L427.8 208.2L428.6 207.3L429.7 206.4L431.1 205.6L432.6 204.9L434.4 204.2L436.4 203.6L438.5 203.1L440.8 202.6L443.2 202.2L445.7 201.9L448.3 201.7L450.9 201.6L453.6 201.5L456.2 201.6L458.8 201.7L461.4 201.9L463.9 202.3L466.3 202.7L468.5 203.1L470.7 203.7L472.6 204.3L474.3 205L475.9 205.8L477.2 206.6L478.2 207.4L479 208.3L479.5 209.2ZM482.2 215.9L482.5 217L482.5 218L482.1 219.1L481.4 220.1L480.4 221.2L479.1 222.2L477.4 223.1L475.5 224L473.3 224.8L470.9 225.5L468.2 226.1L465.4 226.6L462.4 227L459.4 227.3L456.2 227.5L453 227.5L449.8 227.5L446.6 227.3L443.5 227L440.6 226.5L437.8 226L435.2 225.4L432.8 224.6L430.7 223.8L428.8 222.9L427.2 222L426 221L425 219.9L424.4 218.9L424.1 217.8L424.1 216.8L424.4 215.7L425.8 212.3L426.4 211.3L427.3 210.4L428.4 209.5L429.9 208.6L431.5 207.8L433.4 207.1L435.5 206.4L437.7 205.9L440.1 205.4L442.6 205L445.3 204.6L448 204.4L450.8 204.3L453.5 204.2L456.3 204.3L459.1 204.4L461.8 204.7L464.4 205L466.9 205.5L469.3 206L471.5 206.6L473.5 207.2L475.4 208L477 208.8L478.4 209.6L479.5 210.5L480.3 211.5L480.9 212.5ZM481.6 214.8L482.2 215.9L483.6 219.5L483.9 220.6L483.8 221.8L483.4 222.9L482.7 224L481.6 225.1L480.3 226.2L478.6 227.2L476.5 228.1L474.3 229L471.7 229.7L468.9 230.4L466 230.9L462.8 231.4L459.6 231.7L456.3 231.9L452.9 231.9L449.5 231.8L446.2 231.6L443 231.3L439.9 230.8L437 230.3L434.2 229.6L431.7 228.8L429.5 227.9L427.6 227L425.9 226L424.6 224.9L423.6 223.8L422.9 222.7L422.6 221.6L422.6 220.4L423 219.3L424.4 215.7L425 214.7L425.9 213.7L427.2 212.7L428.6 211.8L430.4 210.9L432.4 210.2L434.5 209.5L436.9 208.9L439.4 208.3L442.1 207.9L444.8 207.5L447.7 207.3L450.6 207.2L453.5 207.1L456.4 207.2L459.3 207.3L462.1 207.6L464.9 208L467.5 208.4L470 209L472.3 209.6L474.5 210.3L476.4 211.1L478.1 212L479.6 212.9L480.7 213.8Z" fill="#00bbf2" stroke="#00bbf2" stroke-width="0.35"/>
<path d="M429.9 204L430.2 203.2L431.6 200.5L432 199.8L432.7 199.1L433.6 198.4L434.7 197.7L436.1 197.1L437.5 196.6L439.2 196.1L441 195.6L442.9 195.3L444.9 194.9L447 194.7L449.2 194.5L451.4 194.4L453.7 194.4L455.9 194.4L458.1 194.5L460.3 194.7L462.4 195L464.4 195.3L466.3 195.7L468 196.2L469.7 196.7L471.1 197.2L472.4 197.8L473.5 198.5L474.3 199.2L475 199.9L475.4 200.6L476.8 203.3L477 204.1L477 204.9L476.6 205.7L476.1 206.5L475.2 207.3L474.1 208.1L472.8 208.8L471.3 209.4L469.5 210L467.5 210.5L465.4 211L463.2 211.4L460.8 211.7L458.3 211.9L455.8 212L453.2 212.1L450.7 212L448.1 211.9L445.7 211.6L443.3 211.3L441.1 210.9L439 210.4L437.1 209.9L435.3 209.3L433.8 208.6L432.6 207.9L431.5 207.2L430.7 206.4L430.2 205.6L429.9 204.8ZM428.4 206.9L428.7 206L430.1 203.2L430.6 202.4L431.3 201.6L432.3 200.9L433.5 200.2L434.9 199.5L436.5 198.9L438.3 198.4L440.2 197.9L442.2 197.5L444.4 197.2L446.6 196.9L448.9 196.7L451.3 196.6L453.6 196.6L456 196.6L458.4 196.8L460.7 197L462.9 197.2L465 197.6L467 198L468.9 198.5L470.7 199.1L472.2 199.7L473.6 200.3L474.7 201L475.6 201.8L476.3 202.5L476.8 203.3L478.2 206.2L478.4 207.1L478.4 207.9L478 208.8L477.4 209.7L476.5 210.5L475.4 211.3L474 212L472.3 212.8L470.5 213.4L468.4 214L466.1 214.5L463.7 214.9L461.2 215.2L458.6 215.5L455.9 215.6L453.2 215.6L450.4 215.6L447.8 215.4L445.2 215.2L442.6 214.8L440.3 214.4L438 213.9L436 213.3L434.2 212.6L432.6 211.9L431.2 211.1L430.1 210.3L429.3 209.5L428.7 208.6L428.4 207.8ZM428.7 206L429.2 205.2L430 204.4L431 203.6L432.3 202.8L433.8 202.1L435.5 201.5L437.3 200.9L439.3 200.4L441.5 200L443.8 199.6L446.2 199.3L448.6 199.1L451.1 199L453.6 199L456.1 199L458.6 199.2L461 199.4L463.4 199.7L465.7 200L467.8 200.5L469.8 201L471.6 201.6L473.3 202.3L474.7 203L475.9 203.7L476.9 204.5L477.7 205.3L478.2 206.2L479.6 209.2L479.8 210.2L479.7 211.1L479.4 212L478.7 213L477.8 213.9L476.6 214.7L475.1 215.5L473.4 216.3L471.4 217L469.2 217.6L466.8 218.1L464.3 218.6L461.6 218.9L458.8 219.2L456 219.3L453.1 219.4L450.2 219.3L447.4 219.2L444.6 218.9L442 218.5L439.4 218L437.1 217.5L434.9 216.9L433 216.1L431.3 215.4L429.9 214.6L428.7 213.7L427.9 212.8L427.3 211.9L427 210.9L427 210L427.3 209.1Z" fill="#5ef9b3" stroke="#5ef9b3" stroke-width="0.35"/>
<path d="M434.3 196.3L434.5 195.7L434.9 195.1L436.3 193L436.9 192.4L437.6 191.9L438.5 191.4L439.5 190.9L440.7 190.5L442 190.1L443.5 189.8L445 189.5L446.7 189.2L448.4 189L450.1 188.9L451.9 188.8L453.7 188.8L455.5 188.8L457.3 188.9L459.1 189L460.8 189.3L462.4 189.5L463.9 189.8L465.3 190.2L466.6 190.6L467.8 191L468.8 191.5L469.7 192L470.4 192.5L470.9 193.1L472.3 195.2L472.6 195.8L472.8 196.4L472.7 197.1L472.5 197.7L472 198.3L471.3 198.9L470.4 199.5L469.3 200.1L468 200.6L466.6 201L465 201.4L463.3 201.8L461.4 202.1L459.5 202.3L457.5 202.5L455.4 202.6L453.4 202.6L451.3 202.6L449.2 202.5L447.3 202.3L445.3 202.1L443.5 201.7L441.8 201.4L440.3 200.9L438.8 200.5L437.6 200L436.6 199.4L435.7 198.8L435 198.2L434.6 197.6L434.4 196.9ZM432.9 198.7L433.1 198L434.5 195.7L434.9 195.1L435.5 194.5L436.3 193.9L437.2 193.3L438.4 192.8L439.7 192.3L441.1 191.9L442.7 191.5L444.3 191.2L446.1 190.9L447.9 190.7L449.8 190.6L451.8 190.5L453.7 190.5L455.7 190.5L457.6 190.6L459.5 190.8L461.3 191L463.1 191.3L464.7 191.6L466.2 192L467.7 192.4L468.9 192.9L470 193.4L471 194L471.7 194.6L472.3 195.2L473.7 197.4L474.1 198.1L474.2 198.8L474.2 199.5L473.9 200.2L473.3 200.9L472.6 201.5L471.6 202.2L470.5 202.8L469.1 203.3L467.6 203.8L465.8 204.3L464 204.7L462 205L459.9 205.3L457.8 205.4L455.6 205.6L453.3 205.6L451.1 205.5L448.9 205.4L446.7 205.2L444.7 204.9L442.7 204.6L440.9 204.2L439.2 203.7L437.7 203.2L436.4 202.7L435.2 202.1L434.3 201.4L433.6 200.7L433.1 200.1L432.9 199.4ZM431.4 201.2L431.6 200.5L433 198L433.5 197.3L434.1 196.7L434.9 196L436 195.4L437.2 194.9L438.6 194.4L440.1 193.9L441.8 193.5L443.6 193.2L445.5 192.9L447.5 192.6L449.5 192.5L451.6 192.4L453.7 192.3L455.8 192.4L457.9 192.5L459.9 192.7L461.8 192.9L463.7 193.2L465.5 193.6L467.2 194L468.7 194.5L470 195L471.2 195.6L472.2 196.2L473 196.8L473.6 197.4L475 199.9L475.4 200.6L475.6 201.4L475.6 202.1L475.3 202.9L474.7 203.6L473.9 204.3L472.9 205L471.6 205.7L470.2 206.3L468.5 206.8L466.7 207.3L464.7 207.7L462.6 208.1L460.4 208.4L458 208.6L455.7 208.7L453.3 208.7L450.9 208.7L448.5 208.5L446.2 208.3L444 208L441.9 207.7L439.9 207.2L438.1 206.7L436.5 206.2L435.1 205.5L433.9 204.9L432.9 204.2L432.2 203.5L431.7 202.7L431.4 202Z" fill="#c8df74" stroke="#c8df74" stroke-width="0.35"/>
<path d="M441 187.4L441.6 187L442.2 186.6L443 186.3L443.9 185.9L444.9 185.7L446 185.4L447.2 185.2L448.4 185L449.7 184.9L451 184.8L452.4 184.7L453.8 184.7L455.1 184.7L456.5 184.8L457.8 184.9L459.1 185L460.3 185.2L461.5 185.4L462.5 185.7L463.5 186L464.4 186.3L465.2 186.7L465.8 187.1L466.3 187.4L466.7 187.9L468.8 190.3L469.1 190.8L469.2 191.3L469.1 191.8L468.9 192.3L468.5 192.8L467.9 193.2L467.2 193.7L466.3 194.1L465.3 194.5L464.1 194.9L462.8 195.2L461.5 195.5L460 195.7L458.4 195.9L456.8 196L455.1 196.1L453.5 196.1L451.8 196.1L450.2 196L448.5 195.9L447 195.7L445.5 195.4L444.2 195.1L442.9 194.8L441.8 194.4L440.7 194L439.9 193.6L439.2 193.1L438.7 192.7L438.3 192.2L438.1 191.7L438.1 191.2L438.2 190.7L438.5 190.2L440.6 187.8ZM436.3 193L438.5 190.2L438.9 189.7L439.6 189.2L440.3 188.8L441.3 188.4L442.3 188L443.5 187.7L444.7 187.4L446.1 187.1L447.5 186.9L449 186.7L450.6 186.6L452.1 186.6L453.7 186.5L455.3 186.6L456.9 186.6L458.4 186.8L459.9 187L461.3 187.2L462.7 187.4L463.9 187.7L465.1 188.1L466.1 188.5L467 188.9L467.7 189.3L468.3 189.8L468.8 190.3L470.9 193.1L471.2 193.6L471.4 194.2L471.3 194.8L471 195.4L470.6 196L469.9 196.5L469.1 197L468.1 197.5L466.9 198L465.6 198.4L464.1 198.8L462.5 199.1L460.8 199.4L459.1 199.6L457.2 199.8L455.3 199.9L453.4 199.9L451.5 199.8L449.6 199.7L447.8 199.6L446 199.4L444.3 199.1L442.8 198.7L441.3 198.4L440 197.9L438.9 197.4L437.9 196.9L437.1 196.4L436.5 195.9L436.1 195.3L435.8 194.7L435.8 194.1L436 193.5Z" fill="#f99444" stroke="#f99444" stroke-width="0.35"/>
<path d="M442.5 186.5L442.6 186.1L442.8 185.8L443.2 185.4L445.2 183.9L445.6 183.6L446 183.4L446.6 183.2L447.2 182.9L447.8 182.8L448.6 182.6L449.3 182.4L450.2 182.3L451 182.2L451.9 182.2L452.8 182.1L453.8 182.1L454.7 182.1L455.6 182.2L456.5 182.2L457.3 182.3L458.2 182.5L458.9 182.6L459.7 182.8L460.3 183L460.9 183.2L461.4 183.4L461.8 183.7L463.8 185.2L464.3 185.5L464.6 185.8L464.8 186.2L464.8 186.5L464.8 186.9L464.6 187.2L464.3 187.6L463.9 187.9L463.4 188.2L462.7 188.5L462 188.8L461.2 189L460.2 189.3L459.3 189.5L458.2 189.6L457.1 189.7L455.9 189.8L454.8 189.9L453.6 189.9L452.4 189.9L451.2 189.8L450.1 189.7L449 189.6L447.9 189.4L446.9 189.2L446 189L445.2 188.7L444.5 188.5L443.9 188.2L443.4 187.8L443 187.5L442.7 187.2L442.6 186.8ZM443.1 185.4L443.6 185.1L444.1 184.8L444.8 184.5L445.5 184.3L446.4 184L447.3 183.8L448.3 183.6L449.3 183.5L450.4 183.4L451.5 183.3L452.6 183.2L453.8 183.2L454.9 183.2L456 183.3L457.2 183.4L458.2 183.5L459.2 183.7L460.2 183.8L461.1 184.1L461.9 184.3L462.7 184.6L463.3 184.9L463.8 185.2L464.2 185.5L466.3 187.4L466.7 187.9L466.9 188.3L467 188.7L467 189.1L466.8 189.5L466.4 190L465.9 190.4L465.3 190.7L464.5 191.1L463.7 191.4L462.7 191.7L461.5 192L460.4 192.3L459.1 192.5L457.7 192.6L456.4 192.7L455 192.8L453.5 192.8L452.1 192.8L450.7 192.7L449.3 192.6L448 192.4L446.7 192.2L445.6 192L444.5 191.7L443.5 191.4L442.6 191L441.9 190.7L441.3 190.3L440.8 189.9L440.5 189.5L440.3 189L440.3 188.6L440.4 188.2L440.7 187.8L441.1 187.4Z" fill="#f94c23" stroke="#f94c23" stroke-width="0.35"/>
<path d="M447 183.3L447.1 183.1L447.2 182.9L447.4 182.7L447.6 182.5L448 182.4L448.4 182.2L448.8 182L450.4 181.5L450.8 181.4L451.1 181.3L451.5 181.2L451.9 181.2L452.4 181.1L452.8 181.1L453.3 181.1L453.8 181.1L454.2 181.1L454.7 181.1L455.1 181.1L455.6 181.2L456 181.3L456.4 181.3L456.7 181.4L457 181.5L458.7 182.1L459.1 182.2L459.5 182.4L459.8 182.6L460.1 182.8L460.3 183L460.4 183.2L460.4 183.4L460.4 183.6L460.3 183.8L460.1 184L459.8 184.2L459.5 184.4L459.1 184.5L458.7 184.7L458.2 184.9L457.6 185L457 185.1L456.4 185.2L455.7 185.3L455.1 185.3L454.4 185.4L453.6 185.4L452.9 185.3L452.2 185.3L451.6 185.3L450.9 185.2L450.3 185.1L449.7 185L449.1 184.8L448.6 184.7L448.2 184.5L447.8 184.3L447.5 184.2L447.3 184L447.1 183.8L447 183.5ZM448 182.4L448.3 182.2L448.8 182L449.3 181.9L449.8 181.8L450.4 181.7L451.1 181.6L451.7 181.5L452.4 181.4L453.1 181.4L453.8 181.4L454.5 181.4L455.1 181.4L455.8 181.5L456.5 181.6L457.1 181.7L457.7 181.8L458.2 181.9L458.7 182.1L459.1 182.2L459.5 182.4L461.4 183.4L461.9 183.7L462.2 183.9L462.4 184.2L462.6 184.5L462.6 184.8L462.6 185L462.4 185.3L462.2 185.6L461.9 185.8L461.4 186.1L460.9 186.3L460.3 186.5L459.7 186.7L458.9 186.9L458.1 187.1L457.3 187.2L456.4 187.3L455.5 187.4L454.6 187.4L453.6 187.4L452.7 187.4L451.7 187.4L450.8 187.3L449.9 187.2L449.1 187L448.3 186.9L447.6 186.7L446.9 186.5L446.4 186.3L445.9 186L445.5 185.8L445.1 185.5L444.9 185.3L444.8 185L444.8 184.7L444.8 184.4L445 184.2L445.3 183.9L445.6 183.6L446.1 183.4Z" fill="#f9190c" stroke="#f9190c" stroke-width="0.35"/>
<path d="M453.7 183.7L453.2 183.7L452.7 183.7L452.3 183.6L451.8 183.6L451.4 183.5L451 183.4L450.7 183.4L450.3 183.3L450.1 183.1L449.8 183L449.6 182.9L449.4 182.8L449.3 182.6L449.3 182.5L449.2 182.4L449.3 182.2L449.4 182.1L449.5 182L449.7 181.8L449.9 181.7L450.1 181.6L450.4 181.5L450.8 181.4L451.1 181.3L451.5 181.2L451.9 181.2L452.4 181.1L452.8 181.1L453.3 181.1L453.8 181.1L454.2 181.1L454.7 181.1L455.1 181.1L455.6 181.2L456 181.3L456.4 181.3L456.7 181.4L457.1 181.5L457.3 181.6L457.6 181.7L457.8 181.9L458 182L458.1 182.1L458.2 182.3L458.2 182.4L458.2 182.5L458.1 182.7L458 182.8L457.8 182.9L457.6 183.1L457.3 183.2L457 183.3L456.7 183.4L456.3 183.5L455.9 183.5L455.5 183.6L455.1 183.6L454.6 183.7L454.1 183.7Z" fill="#f90000" stroke="#f90000" stroke-width="0.35"/>
<path d="M404.4 171.9L405.9 226.3L425.1 255.4L503.3 245.5" fill="none" stroke="#333" stroke-width="0.65"/>
<path d="M429.1 253.8L430.7 256.1M425.1 253.4L422.3 253.7M446.8 251.6L448.5 253.8M420.5 246.4L417.7 246.8M464.2 249.4L466 251.6M416.2 239.8L413.4 240.2M481.3 247.3L483.2 249.4M412 233.6L409.2 233.9M498.1 245.2L500.1 247.2M408.1 227.6L405.3 227.9M403 178L405.8 178M403.2 186.1L406 186.1M403.4 193.8L406.2 193.8M403.6 201.6L406.4 201.6M403.9 209.6L406.7 209.6M404.1 217.1L406.9 217.1M404.3 224.5L407.1 224.5" fill="none" stroke="#333" stroke-width="0.6"/>
<g font-size="7.3" text-anchor="middle" stroke="#111" stroke-width="0.08"><text x="400" y="180.2" text-anchor="end"><tspan fill="#6a6a6a" stroke="none">−</tspan><tspan dx="0.5">3</tspan></text><text x="400" y="188.2" text-anchor="end"><tspan fill="#6a6a6a" stroke="none">−</tspan><tspan dx="0.5">4</tspan></text><text x="400" y="195.8" text-anchor="end"><tspan fill="#6a6a6a" stroke="none">−</tspan><tspan dx="0.5">5</tspan></text><text x="400" y="203.6" text-anchor="end"><tspan fill="#6a6a6a" stroke="none">−</tspan><tspan dx="0.5">6</tspan></text><text x="400" y="211.6" text-anchor="end"><tspan fill="#6a6a6a" stroke="none">−</tspan><tspan dx="0.5">7</tspan></text><text x="400" y="219.2" text-anchor="end"><tspan fill="#6a6a6a" stroke="none">−</tspan><tspan dx="0.5">8</tspan></text><text x="400" y="226.8" text-anchor="end"><tspan fill="#6a6a6a" stroke="none">−</tspan><tspan dx="0.5">9</tspan></text><text x="396.7" y="238.3">1.0</text><text x="400.7" y="245.1">0.5</text><text x="405.8" y="251.4">0.0</text><text x="409.5" y="257.9"><tspan fill="#6a6a6a" stroke="none">−</tspan><tspan dx="0.5">0.5</tspan></text><text x="416.7" y="264.9"><tspan fill="#6a6a6a" stroke="none">−</tspan><tspan dx="0.5">1.0</tspan></text><text x="434.8" y="268.5"><tspan fill="#6a6a6a" stroke="none">−</tspan><tspan dx="0.5">1.0</tspan></text><text x="451.1" y="265.7"><tspan fill="#6a6a6a" stroke="none">−</tspan><tspan dx="0.5">0.5</tspan></text><text x="468.4" y="263.2">0.0</text><text x="485.1" y="260.6">0.5</text><text x="501.4" y="258.8">1.0</text></g>
<g font-size="6.8" text-anchor="middle" stroke="#111" stroke-width="0.08"><text transform="translate(475.4 270.1) rotate(-8)" y="1.7">field x</text><text transform="translate(394.6 255.5) rotate(52)" y="1.7">field y</text><text transform="translate(383 204.5) rotate(90)" y="1.7">difference in S<tspan font-size="4.4" dy="1.4">1</tspan><tspan dy="-1.4"> change</tspan></text></g>
<text x="385.2" y="164.6" font-size="6.4" stroke="#111" stroke-width="0.16">1.0 × 10<tspan font-size="3.3" dy="-2.5">−7</tspan></text>
<rect x="521.9" y="180.5" width="12.4" height="60.3" fill="url(#rb)" stroke="#222" stroke-opacity="0.55" stroke-width="0.4"/>
<path d="M534.3 184.8h2M534.3 195.5h2M534.3 205.5h2M534.3 216.4h2M534.3 227.1h2M534.3 238h2" fill="none" stroke="#333" stroke-width="0.55"/>
<g font-size="6.555" stroke="#111" stroke-width="0.08"><text x="536.5" y="187"><tspan fill="#6a6a6a" stroke="none">−</tspan><tspan dx="0.5">3</tspan></text><text x="536.5" y="197.7"><tspan fill="#6a6a6a" stroke="none">−</tspan><tspan dx="0.5">4</tspan></text><text x="536.5" y="207.7"><tspan fill="#6a6a6a" stroke="none">−</tspan><tspan dx="0.5">5</tspan></text><text x="536.5" y="218.6"><tspan fill="#6a6a6a" stroke="none">−</tspan><tspan dx="0.5">6</tspan></text><text x="536.5" y="229.3"><tspan fill="#6a6a6a" stroke="none">−</tspan><tspan dx="0.5">7</tspan></text><text x="536.5" y="240.2"><tspan fill="#6a6a6a" stroke="none">−</tspan><tspan dx="0.5">8</tspan></text></g>
<text x="528.8" y="178.6" font-size="6.4" text-anchor="middle" stroke="#111" stroke-width="0.16">1.0 × 10<tspan font-size="3.3" dy="-2.5">−7</tspan></text>
</g>
<g>
<path d="M95.6 391.4L167.5 377.2L134.6 349.5L68.9 360.9ZM68.9 360.9L134.6 349.5L135.3 299.5L67.1 308.9ZM167.5 377.2L134.6 349.5L135.3 299.5L169.6 322.4Z" fill="#f8f8f8" stroke="#d4d4d4" stroke-width="0.5"/>
<path d="M99.9 390.5L72.8 360.2L71.2 308.3M93.9 389.4L165.4 375.5L167.4 320.9M116.4 387.3L87.8 357.6L86.7 306.2M87.5 382.2L157.6 368.9L159.2 315.5M132.5 384.1L102.5 355.1L102 304.1M81.5 375.3L150.2 362.6L151.5 310.3M148.2 381L116.9 352.6L116.9 302M75.7 368.7L143.1 356.7L144.1 305.4M163.6 378L131 350.2L131.5 300M70.3 362.4L136.3 351L137 300.7M67.3 314.6L135.2 305L169.4 328.5M67.6 324.7L135.1 314.8L169 339.1M68 334.6L135 324.2L168.6 349.6M68.3 344.2L134.8 333.5L168.2 359.7M68.6 354.1L134.7 343L167.8 370.2" fill="none" stroke="#ababab" stroke-width="0.6"/>
<path d="M85.9 356.8L85.9 355.5L87.2 350.5L87.6 349.3L88.2 348.1L89.1 347L90.4 345.9L91.9 344.9L93.6 343.9L95.6 343L97.8 342.2L100.2 341.5L102.8 340.9L105.4 340.4L108.2 340L111.1 339.8L114 339.6L117 339.5L119.9 339.6L122.8 339.8L125.7 340.1L128.5 340.5L131.1 341L133.6 341.6L136 342.4L138.2 343.2L140.1 344.1L141.8 345L143.3 346.1L144.5 347.2L145.4 348.3L146 349.5L147.3 354.5L147.6 355.7L147.5 357L147.1 358.3L146.4 359.6L145.4 360.9L144 362.1L142.3 363.2L140.3 364.3L138 365.2L135.4 366.1L132.6 366.9L129.6 367.5L126.5 368L123.2 368.4L119.9 368.6L116.5 368.6L113.1 368.6L109.7 368.3L106.5 367.9L103.4 367.4L100.4 366.8L97.6 366L95.1 365.1L92.9 364.1L90.9 363L89.2 361.9L87.9 360.7L86.9 359.4L86.2 358.1ZM84.6 362.5L84.7 361.1L85.9 355.5L86.3 354.3L87 353L88 351.8L89.3 350.6L90.8 349.5L92.7 348.5L94.8 347.6L97 346.7L99.5 346L102.2 345.3L105 344.8L107.9 344.4L110.9 344.1L113.9 343.9L117 343.9L120.1 344L123.1 344.1L126.1 344.5L129 344.9L131.7 345.4L134.4 346.1L136.8 346.9L139.1 347.7L141.1 348.7L142.9 349.7L144.4 350.8L145.7 352L146.6 353.2L147.3 354.5L147.6 355.7L148.8 361.3L148.8 362.7L148.4 364.1L147.7 365.4L146.6 366.8L145.1 368.1L143.4 369.3L141.3 370.4L138.9 371.4L136.2 372.4L133.3 373.2L130.2 373.9L126.9 374.4L123.5 374.8L120 375L116.5 375.1L112.9 375L109.4 374.7L106 374.3L102.8 373.8L99.7 373.1L96.8 372.2L94.2 371.3L91.9 370.2L89.8 369.1L88.1 367.9L86.7 366.6L85.7 365.2L85 363.9ZM83.4 368.7L83.4 367.2L84.7 361.1L85.1 359.7L85.8 358.4L86.8 357.1L88.2 355.9L89.8 354.7L91.7 353.6L93.9 352.6L96.3 351.7L98.9 350.9L101.6 350.3L104.5 349.7L107.5 349.3L110.7 348.9L113.8 348.8L117 348.7L120.2 348.8L123.4 349L126.4 349.3L129.5 349.8L132.3 350.4L135.1 351.1L137.6 351.9L140 352.8L142.1 353.8L144 354.9L145.6 356.1L146.9 357.3L147.9 358.6L148.5 359.9L148.9 361.3L150.1 367.4L150.1 368.9L149.7 370.4L148.9 371.8L147.8 373.2L146.3 374.6L144.4 375.9L142.3 377.1L139.8 378.2L137 379.2L134 380.1L130.7 380.8L127.3 381.4L123.8 381.8L120.1 382L116.5 382.1L112.8 382L109.1 381.7L105.6 381.3L102.2 380.7L99 380L96 379.1L93.3 378.1L90.9 376.9L88.7 375.7L87 374.4L85.5 373L84.4 371.6L83.7 370.1Z" fill="#7c00f9" stroke="#7c00f9" stroke-width="0.35"/>
<path d="M91.5 337.3L92 336.3L92.8 335.3L93.9 334.4L95.2 333.6L96.7 332.8L98.4 332.1L100.3 331.4L102.4 330.8L104.6 330.3L106.9 329.9L109.3 329.6L111.8 329.4L114.3 329.2L116.9 329.2L119.5 329.2L122 329.4L124.5 329.6L126.9 330L129.2 330.4L131.4 330.9L133.4 331.5L135.3 332.2L137 332.9L138.5 333.7L139.7 334.6L140.8 335.5L141.5 336.4L142 337.4L143.3 341L143.6 342.1L143.5 343.1L143.2 344.2L142.6 345.3L141.6 346.3L140.4 347.3L138.9 348.2L137.1 349.1L135.1 349.9L132.9 350.6L130.5 351.2L127.9 351.7L125.1 352.1L122.3 352.4L119.4 352.6L116.5 352.6L113.5 352.6L110.6 352.4L107.8 352.1L105.1 351.6L102.5 351.1L100.1 350.5L97.9 349.7L96 348.9L94.3 348L92.8 347.1L91.6 346.1L90.7 345.1L90.1 344L89.8 343L89.8 341.9L90.1 340.8ZM142.8 340L143.4 341L144.7 345L144.9 346.2L144.9 347.3L144.5 348.4L143.9 349.6L142.9 350.7L141.6 351.7L140 352.7L138.2 353.6L136.1 354.5L133.7 355.3L131.2 355.9L128.5 356.5L125.6 356.9L122.6 357.2L119.6 357.4L116.5 357.5L113.4 357.4L110.3 357.2L107.4 356.8L104.5 356.4L101.8 355.8L99.3 355.1L97 354.4L94.9 353.5L93.1 352.6L91.6 351.5L90.4 350.5L89.4 349.4L88.8 348.3L88.5 347.1L88.5 346L88.8 344.8L90.1 340.8L90.7 339.8L91.6 338.8L92.7 337.8L94 336.9L95.6 336.1L97.5 335.3L99.5 334.6L101.6 334L104 333.4L106.4 333L108.9 332.7L111.6 332.4L114.2 332.3L116.9 332.2L119.6 332.3L122.3 332.4L124.9 332.7L127.4 333.1L129.9 333.5L132.2 334.1L134.3 334.7L136.3 335.4L138.1 336.2L139.6 337.1L140.9 338L142 339ZM87.2 351.7L87.2 350.5L87.5 349.3L88.8 344.8L89.4 343.7L90.3 342.7L91.5 341.6L93 340.7L94.6 339.8L96.5 338.9L98.6 338.2L100.9 337.5L103.4 337L105.9 336.5L108.6 336.1L111.3 335.9L114.1 335.7L116.9 335.7L119.8 335.7L122.6 335.9L125.3 336.2L127.9 336.6L130.5 337.1L132.9 337.6L135.2 338.3L137.2 339.1L139.1 339.9L140.7 340.8L142.1 341.8L143.3 342.8L144.1 343.9L144.7 345L146 349.5L146.3 350.7L146.2 351.9L145.8 353.1L145.2 354.3L144.1 355.5L142.8 356.6L141.2 357.7L139.2 358.7L137 359.6L134.6 360.4L131.9 361.1L129 361.7L126 362.2L122.9 362.5L119.7 362.7L116.5 362.8L113.2 362.7L110 362.5L106.9 362.1L103.9 361.6L101.1 361L98.5 360.3L96.1 359.5L93.9 358.5L92 357.5L90.4 356.5L89.1 355.3L88.2 354.1L87.5 352.9Z" fill="#1ae5dd" stroke="#1ae5dd" stroke-width="0.35"/>
<path d="M93.9 332.1L94.1 331.2L95.5 328.8L95.9 328L96.6 327.2L97.5 326.5L98.5 325.8L99.8 325.1L101.2 324.6L102.8 324L104.6 323.5L106.4 323.1L108.4 322.8L110.4 322.5L112.5 322.3L114.7 322.2L116.9 322.2L119 322.2L121.2 322.4L123.2 322.6L125.3 322.8L127.2 323.2L129.1 323.6L130.8 324.1L132.3 324.6L133.8 325.2L135 325.9L136 326.6L136.9 327.3L137.5 328.1L138.8 330.5L139.3 331.4L139.5 332.2L139.4 333.1L139.1 334L138.6 334.8L137.7 335.7L136.7 336.5L135.4 337.2L133.9 337.9L132.2 338.5L130.3 339.1L128.3 339.6L126.1 340L123.8 340.3L121.4 340.6L119 340.7L116.5 340.8L114 340.7L111.6 340.6L109.2 340.3L106.9 340L104.7 339.5L102.7 339L100.9 338.4L99.2 337.8L97.7 337.1L96.5 336.3L95.5 335.5L94.7 334.7L94.2 333.8L93.9 333ZM92.5 335L92.8 334.1L94.1 331.2L94.6 330.4L95.3 329.6L96.3 328.8L97.4 328.1L98.8 327.4L100.3 326.7L102 326.2L103.8 325.6L105.8 325.2L107.9 324.8L110.1 324.6L112.3 324.4L114.6 324.2L116.9 324.2L119.2 324.2L121.4 324.4L123.7 324.6L125.8 324.9L127.9 325.3L129.8 325.7L131.7 326.2L133.3 326.8L134.8 327.5L136.2 328.2L137.3 328.9L138.2 329.7L138.9 330.5L139.3 331.4L140.7 334.2L140.9 335.1L140.8 336.1L140.5 337L139.9 337.9L139 338.8L137.9 339.7L136.6 340.5L135 341.2L133.2 341.9L131.2 342.5L129 343.1L126.7 343.5L124.2 343.9L121.7 344.1L119.1 344.3L116.5 344.3L113.8 344.2L111.3 344.1L108.7 343.8L106.3 343.4L104 343L101.8 342.4L99.9 341.8L98.1 341.1L96.6 340.3L95.2 339.5L94.2 338.7L93.4 337.8L92.8 336.9L92.5 335.9ZM91.2 338.2L91.4 337.3L92.8 334.1L93.3 333.2L94.1 332.3L95 331.4L96.3 330.7L97.7 329.9L99.3 329.2L101.1 328.6L103.1 328.1L105.2 327.6L107.4 327.2L109.7 326.9L112 326.7L114.5 326.6L116.9 326.5L119.3 326.6L121.7 326.7L124.1 326.9L126.4 327.3L128.6 327.7L130.6 328.1L132.6 328.7L134.3 329.3L135.9 330L137.3 330.8L138.5 331.6L139.5 332.4L140.2 333.3L140.7 334.2L142 337.4L142.2 338.4L142.2 339.4L141.8 340.4L141.2 341.4L140.3 342.3L139.2 343.3L137.7 344.1L136.1 344.9L134.2 345.7L132 346.3L129.7 346.9L127.3 347.4L124.7 347.8L122 348L119.3 348.2L116.5 348.3L113.7 348.2L110.9 348L108.3 347.7L105.7 347.3L103.3 346.8L101 346.2L98.9 345.6L97 344.8L95.4 344L94 343.1L92.9 342.2L92 341.2L91.5 340.2L91.2 339.2Z" fill="#a2f58a" stroke="#a2f58a" stroke-width="0.35"/>
<path d="M116.5 332.2L114.5 332.1L112.5 332L110.6 331.8L108.7 331.5L107 331.2L105.3 330.8L103.8 330.3L102.4 329.8L101.2 329.3L100.2 328.7L99.4 328L98.7 327.4L98.3 326.7L98.1 326L98.1 325.4L98.2 324.7L98.6 324L100 322.4L100.5 321.8L101.2 321.2L102 320.7L103.1 320.2L104.2 319.7L105.5 319.3L106.9 318.9L108.4 318.6L110 318.3L111.6 318.1L113.3 318L115 317.9L116.8 317.9L118.5 317.9L120.3 318L122 318.1L123.6 318.4L125.2 318.6L126.7 319L128 319.4L129.3 319.8L130.4 320.3L131.4 320.8L132.3 321.3L132.9 321.9L134.2 323.5L134.8 324.1L135.1 324.8L135.3 325.5L135.2 326.1L134.9 326.8L134.5 327.5L133.8 328.2L132.9 328.8L131.9 329.4L130.7 329.9L129.3 330.4L127.7 330.9L126.1 331.3L124.3 331.6L122.4 331.8L120.5 332L118.5 332.1ZM99.2 323.3L99.9 322.7L100.9 322.1L102 321.6L103.2 321.1L104.6 320.6L106.1 320.2L107.7 319.9L109.4 319.6L111.2 319.3L113.1 319.2L114.9 319.1L116.8 319L118.7 319.1L120.6 319.2L122.4 319.4L124.2 319.6L125.9 319.9L127.5 320.3L129 320.7L130.3 321.1L131.5 321.7L132.6 322.2L133.5 322.8L134.2 323.5L134.8 324.1L136.1 326L136.5 326.7L136.7 327.4L136.6 328.2L136.3 328.9L135.8 329.6L135.1 330.4L134.2 331L133.1 331.7L131.8 332.3L130.3 332.8L128.6 333.3L126.8 333.7L124.9 334.1L122.9 334.4L120.8 334.6L118.7 334.7L116.5 334.7L114.3 334.7L112.2 334.5L110.1 334.3L108.1 334L106.2 333.7L104.4 333.2L102.8 332.7L101.3 332.2L100.1 331.6L99 330.9L98.1 330.2L97.4 329.5L96.9 328.8L96.7 328.1L96.7 327.3L96.8 326.6L97.3 325.8L98.6 324ZM97.9 325.1L98.7 324.5L99.7 323.8L100.9 323.2L102.2 322.7L103.7 322.2L105.3 321.7L107.1 321.4L108.9 321L110.8 320.8L112.8 320.6L114.8 320.5L116.8 320.5L118.9 320.5L120.9 320.6L122.8 320.8L124.7 321.1L126.5 321.4L128.3 321.8L129.9 322.3L131.3 322.8L132.7 323.3L133.8 323.9L134.8 324.6L135.6 325.3L136.2 326L137.5 328.1L137.9 328.9L138.1 329.7L138 330.5L137.7 331.3L137.2 332.1L136.4 332.8L135.4 333.6L134.2 334.3L132.8 334.9L131.2 335.5L129.5 336.1L127.5 336.5L125.5 336.9L123.3 337.2L121.1 337.4L118.8 337.5L116.5 337.6L114.2 337.5L111.9 337.4L109.7 337.2L107.5 336.8L105.5 336.4L103.6 336L101.8 335.4L100.3 334.8L98.9 334.2L97.7 333.5L96.8 332.7L96 332L95.5 331.2L95.3 330.4L95.3 329.6L95.5 328.8L95.9 328L97.3 325.8Z" fill="#f9a94f" stroke="#f9a94f" stroke-width="0.35"/>
<path d="M116.5 326.9L114.9 326.9L113.3 326.8L111.7 326.6L110.3 326.4L108.8 326.1L107.5 325.8L106.3 325.5L105.2 325.1L104.2 324.6L103.4 324.1L102.7 323.6L102.2 323.1L101.8 322.6L101.6 322L101.6 321.5L101.7 321L102 320.4L102.5 319.9L103.1 319.4L105 318L105.6 317.6L106.4 317.2L107.2 316.9L108.2 316.6L109.3 316.3L110.4 316.1L111.6 315.9L112.8 315.7L114.1 315.6L115.4 315.5L116.7 315.5L118.1 315.5L119.4 315.6L120.7 315.7L121.9 315.9L123.1 316.1L124.2 316.3L125.2 316.6L126.2 316.9L127 317.3L127.8 317.7L128.4 318.1L130.3 319.5L130.9 320L131.3 320.5L131.6 321L131.7 321.6L131.7 322.1L131.4 322.7L131 323.2L130.5 323.7L129.8 324.2L128.9 324.7L127.9 325.1L126.8 325.5L125.6 325.9L124.2 326.2L122.8 326.4L121.3 326.6L119.7 326.8L118.1 326.9ZM99.5 323.6L99.6 323L100 322.4L100.5 321.8L102.5 319.9L103.1 319.4L103.8 318.9L104.7 318.5L105.7 318.1L106.8 317.7L108.1 317.4L109.4 317.1L110.8 316.9L112.2 316.7L113.7 316.6L115.2 316.5L116.8 316.5L118.3 316.5L119.8 316.6L121.3 316.7L122.8 316.9L124.1 317.2L125.4 317.4L126.6 317.8L127.8 318.1L128.7 318.6L129.6 319L130.3 319.5L130.9 320L132.9 321.9L133.4 322.5L133.7 323.1L133.9 323.7L133.8 324.4L133.5 325L133.1 325.6L132.5 326.2L131.7 326.8L130.7 327.3L129.6 327.8L128.3 328.3L126.9 328.7L125.3 329L123.7 329.3L122 329.6L120.2 329.7L118.4 329.8L116.5 329.9L114.7 329.8L112.8 329.7L111 329.5L109.3 329.3L107.7 329L106.2 328.6L104.8 328.2L103.5 327.7L102.4 327.2L101.5 326.7L100.7 326.1L100.1 325.5L99.7 324.9L99.5 324.3Z" fill="#f95f2b" stroke="#f95f2b" stroke-width="0.35"/>
<path d="M105.8 318.5L105.9 318.1L106.1 317.7L106.4 317.4L106.9 317L107.4 316.7L108 316.4L108.8 316.1L110.3 315.6L111 315.3L111.7 315.2L112.4 315L113.2 314.9L114.1 314.8L114.9 314.7L115.8 314.6L116.7 314.6L117.6 314.6L118.5 314.7L119.3 314.8L120.2 314.9L121 315L121.7 315.2L122.4 315.4L123.8 315.8L124.6 316.1L125.3 316.4L125.9 316.7L126.4 317.1L126.9 317.4L127.2 317.8L127.3 318.2L127.4 318.6L127.4 318.9L127.2 319.3L126.9 319.7L126.5 320.1L126 320.4L125.4 320.7L124.7 321L123.9 321.3L123 321.6L122 321.8L121 321.9L119.9 322.1L118.8 322.2L117.7 322.2L116.5 322.3L115.4 322.2L114.3 322.2L113.1 322.1L112.1 321.9L111.1 321.7L110.1 321.5L109.2 321.3L108.5 321L107.8 320.7L107.2 320.3L106.7 320L106.3 319.6L106 319.3L105.9 318.9ZM127.8 317.7L128.4 318.1L128.9 318.5L129.3 319L129.5 319.4L129.6 319.9L129.5 320.3L129.3 320.8L129 321.3L128.5 321.7L127.9 322.1L127.2 322.5L126.3 322.9L125.3 323.2L124.3 323.5L123.1 323.8L121.9 324L120.6 324.2L119.3 324.3L117.9 324.4L116.5 324.4L115.1 324.3L113.8 324.3L112.4 324.1L111.2 324L110 323.7L108.8 323.5L107.8 323.2L106.8 322.8L106 322.5L105.3 322.1L104.7 321.6L104.2 321.2L103.9 320.7L103.7 320.3L103.7 319.8L103.8 319.3L104.1 318.9L104.4 318.4L105 318L105.6 317.6L107.4 316.7L108 316.4L108.8 316.1L109.6 315.8L110.5 315.6L111.4 315.4L112.4 315.2L113.4 315.1L114.5 315L115.6 314.9L116.7 314.9L117.8 314.9L118.9 315L120 315.1L121 315.2L122 315.4L123 315.6L123.8 315.8L124.6 316.1L125.3 316.4L125.9 316.7Z" fill="#f92b14" stroke="#f92b14" stroke-width="0.35"/>
<path d="M116.6 319L115.9 319L115.2 318.9L114.5 318.9L113.9 318.8L113.3 318.7L112.7 318.6L112.2 318.4L111.7 318.2L111.3 318.1L110.9 317.9L110.6 317.7L110.4 317.4L110.2 317.2L110.2 317L110.1 316.8L110.2 316.5L110.3 316.3L110.5 316.1L110.7 315.9L111.1 315.7L111.4 315.5L111.9 315.3L112.3 315.2L112.9 315L113.4 314.9L114.1 314.8L114.7 314.7L115.3 314.7L116 314.6L116.7 314.6L117.3 314.6L118 314.7L118.6 314.7L119.3 314.8L119.9 314.9L120.4 315L121 315.2L121.4 315.3L121.9 315.5L122.2 315.7L122.5 315.9L122.8 316.1L122.9 316.3L123.1 316.6L123.1 316.8L123.1 317L123 317.3L122.8 317.5L122.5 317.7L122.2 317.9L121.9 318.1L121.4 318.3L120.9 318.4L120.4 318.6L119.8 318.7L119.2 318.8L118.6 318.9L117.9 318.9L117.2 319ZM116.5 320.5L115.6 320.5L114.7 320.4L113.8 320.3L113 320.2L112.2 320.1L111.4 319.9L110.7 319.7L110.1 319.5L109.5 319.2L109 319L108.7 318.7L108.3 318.4L108.1 318.1L108 317.8L108 317.5L108 317.2L108.2 316.9L108.5 316.6L108.8 316.3L109.2 316L109.7 315.8L110.3 315.6L111 315.3L111.7 315.2L112.4 315L113.2 314.9L114.1 314.8L114.9 314.7L115.3 314.7L116 314.6L116.7 314.6L117.3 314.6L118 314.7L118.5 314.7L119.3 314.8L120.2 314.9L120.9 315L121.7 315.2L122.4 315.4L123 315.6L123.6 315.8L124.1 316.1L124.5 316.4L124.8 316.6L125.1 316.9L125.2 317.2L125.3 317.5L125.2 317.8L125.1 318.1L124.8 318.4L124.5 318.7L124.1 319L123.6 319.3L123 319.5L122.4 319.7L121.7 319.9L120.9 320.1L120.1 320.2L119.3 320.3L118.4 320.4L117.5 320.5Z" fill="#f90d06" stroke="#f90d06" stroke-width="0.35"/>
<path d="M116.6 317.7L116.1 317.7L115.7 317.7L115.2 317.7L114.8 317.6L114.4 317.5L114 317.5L113.7 317.4L113.4 317.3L113.1 317.1L112.8 317L112.6 316.9L112.5 316.7L112.4 316.6L112.3 316.4L112.3 316.3L112.3 316.1L112.4 316L112.5 315.8L112.7 315.7L112.9 315.5L113.1 315.4L113.4 315.3L113.8 315.2L114.1 315.1L114.5 315L114.9 315L115.3 314.9L115.7 314.9L116.2 314.8L116.6 314.8L117.1 314.8L117.5 314.9L118 314.9L118.4 315L118.8 315L119.2 315.1L119.5 315.2L119.8 315.3L120.1 315.4L120.4 315.6L120.6 315.7L120.7 315.8L120.8 316L120.9 316.1L120.9 316.3L120.9 316.4L120.8 316.6L120.7 316.7L120.6 316.9L120.3 317L120.1 317.2L119.8 317.3L119.5 317.4L119.1 317.5L118.7 317.6L118.3 317.6L117.9 317.7L117.5 317.7L117 317.7Z" fill="#f90000" stroke="#f90000" stroke-width="0.35"/>
<path d="M67.1 308.9L68.9 360.9L95.6 391.4L167.5 377.2" fill="none" stroke="#333" stroke-width="0.65"/>
<path d="M99.1 389.6L101 391.7M95.1 389.2L92.3 389.7M115.6 386.4L117.5 388.5M88.7 381.9L85.9 382.5M131.6 383.3L133.6 385.3M82.7 375L79.9 375.6M147.3 380.2L149.4 382.1M76.9 368.5L74.2 369M162.7 377.2L164.8 379.1M71.4 362.2L68.7 362.7M65.7 314.6L68.5 314.6M66 324.7L68.8 324.7M66.4 334.6L69.2 334.6M66.7 344.2L69.5 344.2M67 354.1L69.8 354.1" fill="none" stroke="#333" stroke-width="0.6"/>
<g font-size="7.3" text-anchor="middle" stroke="#111" stroke-width="0.08"><text x="62.9" y="316.8" text-anchor="end">2</text><text x="62.9" y="326.7" text-anchor="end">0</text><text x="62.9" y="336.5" text-anchor="end"><tspan fill="#6a6a6a" stroke="none">−</tspan><tspan dx="0.5">2</tspan></text><text x="62.9" y="346.2" text-anchor="end"><tspan fill="#6a6a6a" stroke="none">−</tspan><tspan dx="0.5">4</tspan></text><text x="62.9" y="356.3" text-anchor="end"><tspan fill="#6a6a6a" stroke="none">−</tspan><tspan dx="0.5">6</tspan></text><text x="60.8" y="370.3">1.0</text><text x="66.5" y="377.9">0.5</text><text x="70.4" y="384.8">0.0</text><text x="73.2" y="392.4"><tspan fill="#6a6a6a" stroke="none">−</tspan><tspan dx="0.5">0.5</tspan></text><text x="80.3" y="399.4"><tspan fill="#6a6a6a" stroke="none">−</tspan><tspan dx="0.5">1.0</tspan></text><text x="100.9" y="403.4"><tspan fill="#6a6a6a" stroke="none">−</tspan><tspan dx="0.5">1.0</tspan></text><text x="118.6" y="400"><tspan fill="#6a6a6a" stroke="none">−</tspan><tspan dx="0.5">0.5</tspan></text><text x="136.6" y="396.7">0.0</text><text x="151.7" y="393.8">0.5</text><text x="166.6" y="390.9">1.0</text></g>
<g font-size="6.8" text-anchor="middle" stroke="#111" stroke-width="0.08"><text transform="translate(141.5 404) rotate(-12)" y="1.7">field x</text><text transform="translate(57.5 387.8) rotate(52)" y="1.7">field y</text><text transform="translate(43.6 338.9) rotate(90)" y="1.7">chanfe of S<tspan font-size="4.4" dy="1.4">2</tspan><tspan dy="-1.4"></tspan></text></g>
<text x="44" y="301.6" font-size="6.4" stroke="#111" stroke-width="0.16">1.0 × 10<tspan font-size="3.3" dy="-2.5">−10</tspan></text>
<rect x="184.1" y="314.6" width="12.2" height="59.4" fill="url(#rb)" stroke="#222" stroke-opacity="0.55" stroke-width="0.4"/>
<path d="M196.3 320.7h2M196.3 335.2h2M196.3 350.4h2M196.3 365.2h2" fill="none" stroke="#333" stroke-width="0.55"/>
<g font-size="7.409999999999999" stroke="#111" stroke-width="0.08"><text x="198" y="323.1">2</text><text x="198" y="337.6">0</text><text x="198" y="352.8"><tspan fill="#6a6a6a" stroke="none">−</tspan><tspan dx="0.5">2</tspan></text><text x="198" y="367.6"><tspan fill="#6a6a6a" stroke="none">−</tspan><tspan dx="0.5">4</tspan></text></g>
<text x="191.5" y="312.2" font-size="6.4" text-anchor="middle" stroke="#111" stroke-width="0.16">1.0 × 10<tspan font-size="3.3" dy="-2.5">−10</tspan></text>
</g>
<g>
<path d="M266.3 393L334.4 377.4L298.2 351.6L235.3 364.2ZM235.3 364.2L298.2 351.6L298.7 302.3L233.5 312.6ZM334.4 377.4L298.2 351.6L298.7 302.3L336.4 323.4Z" fill="#f8f8f8" stroke="#d4d4d4" stroke-width="0.5"/>
<path d="M270.5 392.1L239.1 363.5L237.4 312M264.3 391.2L332.1 375.8L334 322M286.1 388.5L253.5 360.6L252.4 309.6M257 384.3L323.5 369.7L325.1 317M301.4 385L267.6 357.8L267 307.3M249.9 377.8L315.4 363.8L316.5 312.3M316.2 381.6L281.3 355L281.2 305.1M243.3 371.6L307.5 358.3L308.4 307.7M330.7 378.2L294.8 352.3L295.2 302.9M236.9 365.7L300.1 353L300.7 303.4M233.6 315.1L298.7 304.7L336.3 326M233.9 325.1L298.6 314.3L335.9 336.5M234.3 335.8L298.5 324.4L335.5 347.6M234.6 345.9L298.4 334.1L335.1 358.3M235 355.9L298.3 343.6L334.8 368.6" fill="none" stroke="#ababab" stroke-width="0.6"/>
<path d="M254.1 358.1L254.3 356.8L255.5 351.8L256 350.6L256.7 349.5L257.7 348.4L259 347.4L260.6 346.4L262.4 345.6L264.4 344.7L266.6 344L269 343.4L271.5 342.8L274.2 342.4L276.9 342.1L279.7 341.9L282.6 341.7L285.5 341.7L288.3 341.8L291.2 342.1L293.9 342.4L296.6 342.8L299.1 343.3L301.5 344L303.7 344.7L305.8 345.5L307.6 346.4L309.2 347.3L310.5 348.3L311.6 349.4L312.3 350.5L312.8 351.6L314 356.7L314.2 358L314.1 359.2L313.6 360.4L312.7 361.7L311.6 362.8L310.1 364L308.3 365L306.3 366L303.9 366.9L301.3 367.7L298.6 368.4L295.6 368.9L292.5 369.4L289.3 369.6L286 369.8L282.7 369.8L279.4 369.7L276.2 369.4L273 369L270 368.4L267.2 367.8L264.6 367L262.3 366.1L260.2 365.1L258.4 364.1L256.9 362.9L255.7 361.8L254.8 360.6L254.3 359.3ZM254.3 356.8L254.8 355.6L255.6 354.4L256.7 353.3L258 352.2L259.6 351.2L261.5 350.2L263.6 349.4L265.9 348.6L268.4 347.9L271.1 347.4L273.8 346.9L276.7 346.5L279.6 346.3L282.6 346.2L285.6 346.2L288.6 346.3L291.5 346.5L294.4 346.9L297.2 347.3L299.8 347.9L302.3 348.5L304.6 349.3L306.8 350.2L308.7 351.1L310.3 352.1L311.7 353.2L312.8 354.3L313.6 355.5L314.1 356.7L315.3 362.4L315.5 363.7L315.4 365L314.9 366.3L314 367.6L312.8 368.9L311.3 370.1L309.4 371.2L307.3 372.3L304.8 373.2L302.1 374.1L299.2 374.8L296.1 375.4L292.9 375.9L289.5 376.2L286.1 376.3L282.7 376.3L279.2 376.2L275.9 375.9L272.6 375.4L269.5 374.9L266.6 374.1L263.9 373.3L261.4 372.4L259.2 371.3L257.4 370.2L255.8 369L254.6 367.7L253.7 366.4L253.1 365.1L253 363.8L253.1 362.5ZM253.2 362.5L253.7 361.2L254.5 359.9L255.6 358.7L257 357.6L258.7 356.5L260.7 355.5L262.9 354.5L265.3 353.7L267.9 353L270.6 352.4L273.5 351.9L276.5 351.5L279.5 351.3L282.6 351.1L285.7 351.1L288.8 351.3L291.9 351.5L294.8 351.9L297.7 352.4L300.5 352.9L303.1 353.7L305.5 354.5L307.7 355.4L309.7 356.4L311.4 357.5L312.9 358.6L314 359.8L314.9 361.1L315.4 362.4L316.6 368.6L316.8 370L316.6 371.4L316.1 372.8L315.2 374.2L314 375.5L312.4 376.8L310.5 378L308.3 379.2L305.7 380.2L302.9 381.1L299.9 381.9L296.7 382.5L293.3 383L289.8 383.3L286.3 383.5L282.7 383.5L279.1 383.3L275.6 383L272.2 382.6L269 381.9L265.9 381.2L263.1 380.3L260.6 379.3L258.3 378.1L256.3 376.9L254.7 375.7L253.5 374.3L252.5 372.9L252 371.5L251.8 370.1L252 368.7Z" fill="#7c00f9" stroke="#7c00f9" stroke-width="0.35"/>
<path d="M310.1 343L310.2 344L310 345L309.6 346L308.8 347L307.8 348L306.5 348.9L305 349.8L303.2 350.6L301.1 351.3L298.9 352L296.5 352.5L293.9 353L291.2 353.3L288.4 353.5L285.6 353.7L282.7 353.7L279.8 353.6L277 353.3L274.3 353L271.7 352.6L269.3 352L267 351.4L265 350.7L263.2 349.9L261.6 349L260.3 348.1L259.2 347.1L258.4 346.1L258 345.1L257.8 344.1L257.9 343.1L259.2 339.4L259.6 338.5L260.2 337.6L261.1 336.7L262.2 335.9L263.5 335.1L265.1 334.4L266.8 333.7L268.7 333.1L270.8 332.6L273 332.1L275.3 331.8L277.7 331.5L280.1 331.3L282.6 331.2L285.1 331.2L287.6 331.3L290.1 331.5L292.5 331.7L294.8 332.1L297 332.5L299.1 333L301 333.6L302.7 334.3L304.3 335L305.7 335.8L306.8 336.6L307.7 337.5L308.4 338.4L308.7 339.4ZM256.6 348.3L256.7 347.2L258 343.1L258.3 342.1L259 341.1L259.9 340.2L261.1 339.3L262.5 338.4L264.2 337.6L266 336.9L268 336.3L270.2 335.7L272.5 335.3L274.9 334.9L277.4 334.6L280 334.4L282.6 334.3L285.2 334.3L287.9 334.4L290.4 334.6L292.9 334.8L295.4 335.2L297.7 335.7L299.9 336.2L301.9 336.9L303.8 337.6L305.4 338.4L306.9 339.2L308.1 340.1L309 341L309.7 342L310.1 343L311.4 347.1L311.5 348.2L311.4 349.3L310.9 350.3L310.2 351.4L309.1 352.4L307.7 353.4L306.1 354.3L304.2 355.2L302.1 356L299.7 356.7L297.2 357.3L294.5 357.7L291.6 358.1L288.7 358.4L285.7 358.5L282.7 358.5L279.7 358.4L276.7 358.1L273.9 357.8L271.2 357.3L268.6 356.7L266.2 356L264.1 355.3L262.2 354.4L260.5 353.5L259.1 352.5L258 351.5L257.2 350.4L256.7 349.4ZM255.3 352.9L255.5 351.8L256.7 347.2L257.1 346.1L257.8 345.1L258.8 344.1L260.1 343.1L261.6 342.2L263.3 341.4L265.2 340.6L267.3 339.9L269.6 339.3L272 338.8L274.5 338.4L277.2 338.1L279.9 337.9L282.6 337.8L285.4 337.8L288.1 337.9L290.8 338.1L293.4 338.4L296 338.8L298.4 339.3L300.7 339.9L302.8 340.5L304.8 341.3L306.5 342.1L308 343L309.3 344L310.3 345L311 346L311.5 347.1L312.7 351.6L312.9 352.8L312.7 354L312.2 355.1L311.5 356.3L310.3 357.4L308.9 358.4L307.2 359.4L305.2 360.3L303 361.2L300.5 361.9L297.9 362.5L295 363.1L292 363.5L289 363.7L285.8 363.9L282.7 363.9L279.5 363.7L276.4 363.5L273.5 363.1L270.6 362.6L267.9 362L265.4 361.2L263.2 360.4L261.2 359.5L259.4 358.5L258 357.5L256.8 356.4L256 355.2L255.5 354.1Z" fill="#1fe8da" stroke="#1fe8da" stroke-width="0.35"/>
<path d="M303 328.6L303.8 329.3L304.3 330.1L305.6 332.5L305.9 333.3L306 334.1L305.9 334.9L305.5 335.8L304.9 336.6L304 337.3L302.9 338.1L301.5 338.8L300 339.4L298.3 340L296.4 340.5L294.3 341L292.2 341.3L289.9 341.6L287.5 341.8L285.1 341.9L282.7 341.9L280.3 341.8L278 341.6L275.7 341.4L273.5 341L271.4 340.6L269.5 340.1L267.8 339.5L266.2 338.8L264.9 338.2L263.8 337.4L262.9 336.6L262.2 335.8L261.8 335L261.6 334.2L261.7 333.4L262 332.6L263.3 330.1L263.8 329.4L264.6 328.7L265.5 328L266.6 327.4L267.9 326.8L269.4 326.2L271 325.7L272.7 325.3L274.6 324.9L276.5 324.6L278.5 324.4L280.6 324.3L282.7 324.2L284.8 324.2L286.9 324.3L289 324.4L291 324.6L292.9 324.9L294.8 325.3L296.5 325.7L298.1 326.2L299.6 326.7L300.9 327.3L302.1 327.9ZM307.3 336.1L307.4 337L307.3 337.9L306.9 338.8L306.2 339.7L305.3 340.5L304.1 341.3L302.7 342L301.1 342.7L299.2 343.4L297.2 343.9L295 344.4L292.7 344.8L290.3 345.1L287.8 345.3L285.3 345.4L282.7 345.4L280.2 345.3L277.7 345.1L275.2 344.8L272.9 344.4L270.7 344L268.7 343.4L266.8 342.8L265.2 342.1L263.8 341.4L262.6 340.6L261.6 339.7L260.9 338.9L260.5 338L260.3 337.1L260.4 336.2L260.8 335.3L262.1 332.6L262.6 331.8L263.4 331L264.4 330.3L265.6 329.6L267 328.9L268.5 328.4L270.2 327.8L272.1 327.4L274 327L276.1 326.7L278.2 326.4L280.4 326.3L282.7 326.2L284.9 326.2L287.1 326.3L289.3 326.4L291.5 326.6L293.5 327L295.5 327.3L297.4 327.8L299.1 328.3L300.7 328.9L302.1 329.5L303.3 330.2L304.3 330.9L305.1 331.7L305.7 332.5L307 335.3ZM308.7 339.4L308.8 340.3L308.7 341.3L308.2 342.2L307.5 343.1L306.6 344L305.3 344.9L303.8 345.7L302.1 346.4L300.2 347.1L298.1 347.7L295.8 348.2L293.3 348.7L290.8 349L288.1 349.2L285.4 349.3L282.7 349.3L280 349.2L277.4 349L274.8 348.7L272.3 348.3L270 347.8L267.9 347.2L265.9 346.5L264.2 345.8L262.7 345L261.4 344.1L260.4 343.2L259.7 342.3L259.2 341.3L259.1 340.4L259.1 339.4L259.5 338.5L260.8 335.3L261.4 334.5L262.2 333.7L263.3 332.9L264.5 332.2L266 331.5L267.7 330.8L269.5 330.3L271.4 329.8L273.5 329.4L275.7 329L278 328.8L280.3 328.6L282.6 328.5L285 328.5L287.4 328.6L289.7 328.8L292 329L294.2 329.3L296.3 329.7L298.2 330.2L300 330.8L301.7 331.4L303.2 332.1L304.5 332.8L305.6 333.6L306.4 334.4L307 335.3L307.4 336.1Z" fill="#a9f185" stroke="#a9f185" stroke-width="0.35"/>
<path d="M270.7 331.6L269.4 331.1L268.3 330.6L267.4 330L266.6 329.4L266.1 328.8L265.7 328.1L265.6 327.5L265.6 326.8L265.9 326.2L266.3 325.5L267.6 324L268.2 323.5L268.9 322.9L269.8 322.4L270.8 322L272 321.5L273.3 321.1L274.7 320.8L276.2 320.5L277.8 320.3L279.4 320.1L281.1 320L282.8 319.9L284.5 319.9L286.2 320L287.8 320.1L289.5 320.3L291 320.5L292.5 320.8L293.9 321.1L295.2 321.5L296.4 321.9L297.5 322.4L298.4 322.9L299.1 323.4L299.7 324L301 325.5L301.5 326.1L301.7 326.8L301.8 327.4L301.7 328.1L301.3 328.7L300.8 329.3L300.1 329.9L299.2 330.5L298.1 331.1L296.8 331.6L295.4 332L293.9 332.4L292.2 332.8L290.4 333.1L288.6 333.3L286.7 333.4L284.8 333.5L282.8 333.5L280.9 333.4L278.9 333.3L277.1 333.1L275.3 332.8L273.6 332.5L272.1 332.1ZM269.7 333.9L268.3 333.4L267.1 332.8L266.2 332.2L265.4 331.5L264.8 330.8L264.4 330.1L264.2 329.4L264.3 328.7L264.6 328L265 327.3L266.3 325.5L267 324.9L267.8 324.4L268.7 323.8L269.9 323.3L271.1 322.8L272.5 322.4L274 322L275.6 321.7L277.3 321.5L279.1 321.3L280.9 321.2L282.7 321.1L284.6 321.1L286.4 321.1L288.2 321.3L290 321.5L291.7 321.7L293.3 322L294.8 322.4L296.2 322.8L297.5 323.2L298.6 323.8L299.6 324.3L300.4 324.9L301.1 325.5L302.4 327.3L302.9 327.9L303.1 328.6L303.2 329.3L303.1 330.1L302.7 330.8L302.2 331.4L301.4 332.1L300.4 332.7L299.2 333.3L297.9 333.9L296.4 334.4L294.7 334.8L292.9 335.2L291 335.5L289 335.7L287 335.9L284.9 336L282.8 336L280.7 335.9L278.6 335.8L276.6 335.5L274.7 335.2L272.9 334.9L271.2 334.4ZM301.7 326.6L302.4 327.3L302.9 327.9L304.2 330.1L304.5 330.8L304.6 331.6L304.5 332.3L304.1 333.1L303.5 333.8L302.7 334.6L301.6 335.2L300.4 335.9L299 336.5L297.3 337L295.6 337.5L293.6 337.9L291.6 338.3L289.5 338.5L287.3 338.7L285 338.8L282.8 338.8L280.5 338.7L278.3 338.5L276.2 338.3L274.1 337.9L272.2 337.5L270.4 337.1L268.7 336.5L267.3 335.9L266 335.3L265 334.6L264.1 333.9L263.5 333.2L263.1 332.4L262.9 331.6L263 330.9L263.3 330.1L264.6 328L265.1 327.3L265.8 326.7L266.6 326L267.7 325.4L268.9 324.9L270.2 324.4L271.7 323.9L273.4 323.5L275.1 323.2L276.9 322.9L278.8 322.7L280.7 322.6L282.7 322.5L284.7 322.5L286.6 322.6L288.6 322.7L290.5 322.9L292.3 323.2L294 323.5L295.7 323.9L297.2 324.3L298.6 324.8L299.8 325.4L300.8 326Z" fill="#f9a24b" stroke="#f9a24b" stroke-width="0.35"/>
<path d="M273.1 327L272 326.6L271.2 326.2L270.4 325.7L269.8 325.2L269.3 324.7L269 324.2L268.9 323.7L268.9 323.2L269.1 322.7L269.5 322.2L270 321.7L270.6 321.2L272.4 319.9L273.1 319.6L273.9 319.2L274.8 318.9L275.7 318.6L276.8 318.3L277.9 318.1L279.1 318L280.3 317.8L281.6 317.7L282.9 317.7L284.2 317.7L285.5 317.7L286.7 317.8L288 317.9L289.1 318.1L290.3 318.3L291.3 318.6L292.3 318.9L293.2 319.2L294 319.5L294.7 319.9L296.5 321.2L297.1 321.6L297.6 322.1L298 322.6L298.2 323.1L298.3 323.6L298.1 324.2L297.9 324.7L297.4 325.2L296.8 325.7L296.1 326.1L295.2 326.6L294.2 326.9L293 327.3L291.8 327.6L290.5 327.9L289 328.1L287.5 328.3L286 328.4L284.4 328.5L282.9 328.5L281.3 328.4L279.8 328.3L278.3 328.1L276.8 327.9L275.5 327.7L274.2 327.3ZM266.9 325.8L266.9 325.2L267.2 324.6L267.6 324L268.1 323.5L270 321.7L270.7 321.2L271.5 320.8L272.4 320.4L273.4 320L274.5 319.7L275.8 319.4L277.1 319.1L278.4 318.9L279.9 318.7L281.3 318.6L282.8 318.6L284.3 318.6L285.8 318.6L287.3 318.7L288.7 318.9L290.1 319.1L291.4 319.3L292.7 319.6L293.8 320L294.8 320.3L295.7 320.7L296.5 321.2L297.2 321.6L299.1 323.4L299.7 324L300.1 324.5L300.3 325.1L300.4 325.7L300.3 326.3L300 326.9L299.5 327.5L298.8 328.1L297.9 328.6L296.9 329.1L295.8 329.5L294.5 330L293 330.3L291.5 330.7L289.9 330.9L288.2 331.1L286.4 331.2L284.6 331.3L282.8 331.3L281 331.3L279.3 331.1L277.6 330.9L275.9 330.7L274.4 330.4L272.9 330L271.6 329.6L270.4 329.1L269.4 328.6L268.6 328.1L267.9 327.5L267.4 327L267 326.4Z" fill="#f95928" stroke="#f95928" stroke-width="0.35"/>
<path d="M294 320.4L294 320.7L293.9 321.1L293.7 321.5L293.4 321.8L292.9 322.2L292.4 322.5L291.8 322.8L291 323.1L290.2 323.3L289.3 323.5L288.4 323.7L287.3 323.9L286.3 324L285.2 324.1L284.1 324.1L283 324.1L281.9 324.1L280.8 324L279.7 323.9L278.7 323.7L277.7 323.6L276.8 323.3L276 323.1L275.3 322.8L274.6 322.5L274.1 322.2L273.6 321.8L273.3 321.5L273.1 321.1L273 320.8L273 320.4L273.1 320L273.4 319.7L273.7 319.3L274.2 319L274.7 318.7L275.4 318.4L276.1 318.1L277.6 317.7L278.2 317.5L278.9 317.4L279.7 317.2L280.5 317.1L281.3 317L282.1 316.9L283 316.9L283.9 316.9L284.7 316.9L285.6 317L286.4 317.1L287.2 317.2L288 317.3L288.7 317.5L289.3 317.7L290.8 318.1L291.5 318.4L292.2 318.7L292.7 319L293.2 319.3L293.6 319.7L293.8 320ZM274.5 324.8L273.7 324.5L272.9 324.1L272.2 323.8L271.7 323.3L271.3 322.9L271.1 322.5L270.9 322L271 321.6L271.1 321.2L271.4 320.7L271.8 320.3L272.4 319.9L273.1 319.6L274.8 318.7L275.4 318.4L276.2 318.1L277 317.9L277.8 317.7L278.8 317.5L279.8 317.4L280.8 317.3L281.9 317.2L282.9 317.1L284 317.1L285.1 317.2L286.2 317.3L287.2 317.4L288.2 317.5L289.1 317.7L290 317.9L290.8 318.1L291.6 318.4L292.2 318.7L293.9 319.5L294.6 319.9L295.2 320.3L295.6 320.7L295.9 321.1L296.1 321.6L296.1 322L296 322.4L295.8 322.9L295.4 323.3L294.9 323.7L294.2 324.1L293.5 324.5L292.6 324.8L291.6 325.1L290.6 325.4L289.4 325.6L288.2 325.8L286.9 325.9L285.6 326L284.3 326.1L282.9 326.1L281.6 326.1L280.3 326L279 325.8L277.8 325.6L276.6 325.4L275.5 325.1Z" fill="#f92812" stroke="#f92812" stroke-width="0.35"/>
<path d="M289.7 318.9L289.7 319.1L289.6 319.3L289.5 319.5L289.3 319.7L289.1 319.9L288.7 320.1L288.3 320.3L287.9 320.5L287.4 320.6L286.9 320.7L286.3 320.9L285.7 320.9L285.1 321L284.4 321.1L283.8 321.1L283.1 321.1L282.4 321.1L281.8 321L281.1 320.9L280.5 320.9L280 320.7L279.4 320.6L278.9 320.5L278.5 320.3L278.1 320.1L277.8 319.9L277.5 319.7L277.3 319.5L277.2 319.3L277.1 319.1L277.1 318.9L277.2 318.7L277.3 318.5L277.5 318.3L277.8 318.1L278.1 317.9L278.5 317.7L278.9 317.5L279.4 317.4L280 317.3L280.5 317.2L281.1 317.1L281.7 317L282.4 317L283 316.9L283.7 316.9L284.3 317L285 317L285.6 317.1L286.2 317.1L286.8 317.3L287.3 317.4L287.8 317.5L288.2 317.7L288.6 317.9L289 318L289.2 318.2L289.5 318.4L289.6 318.7ZM291.8 319.5L291.8 319.8L291.8 320.1L291.6 320.4L291.3 320.6L291 320.9L290.6 321.2L290 321.4L289.5 321.6L288.8 321.8L288.1 322L287.3 322.2L286.5 322.3L285.7 322.4L284.8 322.4L283.9 322.5L283 322.5L282.1 322.4L281.3 322.4L280.4 322.3L279.6 322.2L278.8 322L278.1 321.8L277.5 321.6L276.9 321.4L276.4 321.2L275.9 320.9L275.6 320.7L275.3 320.4L275.1 320.1L275 319.8L275 319.5L275.1 319.2L275.3 318.9L275.6 318.7L276 318.4L276.4 318.2L276.9 317.9L277.5 317.7L278.2 317.5L278.9 317.4L279.6 317.2L280.4 317.1L281.2 317L282.1 316.9L283 316.9L283.8 316.9L284.7 316.9L285.5 317L286.4 317.1L287.2 317.2L287.9 317.3L288.6 317.5L289.3 317.7L289.9 317.9L290.4 318.1L290.9 318.4L291.2 318.6L291.5 318.9L291.7 319.2Z" fill="#f90c06" stroke="#f90c06" stroke-width="0.35"/>
<path d="M287.6 318.5L287.6 318.6L287.5 318.7L287.4 318.9L287.3 319L287.1 319.2L286.9 319.3L286.7 319.4L286.4 319.5L286 319.6L285.7 319.7L285.3 319.8L284.9 319.8L284.5 319.9L284 319.9L283.6 319.9L283.2 319.9L282.7 319.9L282.3 319.9L281.9 319.8L281.5 319.8L281.1 319.7L280.7 319.6L280.4 319.5L280.1 319.4L279.8 319.3L279.6 319.2L279.4 319L279.3 318.9L279.2 318.8L279.2 318.6L279.2 318.5L279.2 318.3L279.3 318.2L279.4 318.1L279.6 317.9L279.8 317.8L280.1 317.7L280.4 317.6L280.7 317.5L281.1 317.4L281.4 317.3L281.8 317.3L282.3 317.2L282.7 317.2L283.1 317.2L283.6 317.2L284 317.2L284.4 317.2L284.8 317.3L285.2 317.3L285.6 317.4L286 317.5L286.3 317.6L286.6 317.7L286.9 317.8L287.1 317.9L287.3 318L287.4 318.2L287.5 318.3Z" fill="#f90000" stroke="#f90000" stroke-width="0.35"/>
<path d="M233.5 312.6L235.3 364.2L266.3 393L334.4 377.4" fill="none" stroke="#333" stroke-width="0.65"/>
<path d="M269.6 391.3L271.6 393.2M265.5 390.9L262.8 391.6M285.2 387.7L287.3 389.5M258.1 384.1L255.4 384.7M300.4 384.2L302.6 386M251.1 377.6L248.4 378.2M315.3 380.8L317.5 382.5M244.4 371.4L241.7 372M329.7 377.5L332 379.2M238.1 365.5L235.3 366M232 315.1L234.8 315.1M232.3 325.1L235.1 325.1M232.7 335.8L235.5 335.8M233 345.9L235.8 345.9M233.4 355.9L236.2 355.9" fill="none" stroke="#333" stroke-width="0.6"/>
<g font-size="7.3" text-anchor="middle" stroke="#111" stroke-width="0.08"><text x="230" y="317.4" text-anchor="end"><tspan fill="#6a6a6a" stroke="none">−</tspan><tspan dx="0.5">76</tspan></text><text x="230" y="327.2" text-anchor="end"><tspan fill="#6a6a6a" stroke="none">−</tspan><tspan dx="0.5">78</tspan></text><text x="230" y="337.7" text-anchor="end"><tspan fill="#6a6a6a" stroke="none">−</tspan><tspan dx="0.5">80</tspan></text><text x="230" y="347.9" text-anchor="end"><tspan fill="#6a6a6a" stroke="none">−</tspan><tspan dx="0.5">82</tspan></text><text x="230" y="358" text-anchor="end"><tspan fill="#6a6a6a" stroke="none">−</tspan><tspan dx="0.5">84</tspan></text><text x="227.1" y="373.5">1.0</text><text x="232.5" y="380.8">0.5</text><text x="238.6" y="387.3">0.0</text><text x="242.8" y="393.9"><tspan fill="#6a6a6a" stroke="none">−</tspan><tspan dx="0.5">0.5</tspan></text><text x="252.1" y="401.4"><tspan fill="#6a6a6a" stroke="none">−</tspan><tspan dx="0.5">1.0</tspan></text><text x="275.5" y="404.6"><tspan fill="#6a6a6a" stroke="none">−</tspan><tspan dx="0.5">1.0</tspan></text><text x="291.1" y="401"><tspan fill="#6a6a6a" stroke="none">−</tspan><tspan dx="0.5">0.5</tspan></text><text x="307.2" y="398.6">0.0</text><text x="322.5" y="394.5">0.5</text><text x="337.1" y="391.3">1.0</text></g>
<g font-size="6.8" text-anchor="middle" stroke="#111" stroke-width="0.08"><text transform="translate(315.1 405.2) rotate(-12)" y="1.7">field x</text><text transform="translate(228.3 394.4) rotate(48)" y="1.7">field y</text><text transform="translate(212.5 337.6) rotate(90)" y="1.7">chanfe of S<tspan font-size="4.4" dy="1.4">2</tspan><tspan dy="-1.4"></tspan></text></g>
<text x="210.5" y="302.6" font-size="6.4" stroke="#111" stroke-width="0.16">1.0 × 10<tspan font-size="3.3" dy="-2.5">−10</tspan></text>
<rect x="350.7" y="317.4" width="12.4" height="58.5" fill="url(#rb)" stroke="#222" stroke-opacity="0.55" stroke-width="0.4"/>
<path d="M363.1 317.9h2M363.1 332.7h2M363.1 346.9h2M363.1 361.5h2M363.1 375.2h2" fill="none" stroke="#333" stroke-width="0.55"/>
<g font-size="6.08" stroke="#111" stroke-width="0.08"><text x="364.9" y="319.9"><tspan fill="#6a6a6a" stroke="none">−</tspan><tspan dx="0.5">76</tspan></text><text x="364.9" y="334.7"><tspan fill="#6a6a6a" stroke="none">−</tspan><tspan dx="0.5">78</tspan></text><text x="364.9" y="348.9"><tspan fill="#6a6a6a" stroke="none">−</tspan><tspan dx="0.5">80</tspan></text><text x="364.9" y="363.5"><tspan fill="#6a6a6a" stroke="none">−</tspan><tspan dx="0.5">82</tspan></text><text x="364.9" y="377.2"><tspan fill="#6a6a6a" stroke="none">−</tspan><tspan dx="0.5">84</tspan></text></g>
<text x="356.9" y="314.1" font-size="6.4" text-anchor="middle" stroke="#111" stroke-width="0.16">1.0 × 10<tspan font-size="3.3" dy="-2.5">−10</tspan></text>
</g>
<g>
<path d="M427.6 395L502.4 381.5L471.9 351L403.9 361.9ZM403.9 361.9L471.9 351L472.7 299.8L402 308.9ZM502.4 381.5L471.9 351L472.7 299.8L504.6 325.4Z" fill="#f8f8f8" stroke="#d4d4d4" stroke-width="0.5"/>
<path d="M432.1 394.2L408 361.2L406.2 308.3M426.1 392.9L500.5 379.5L502.6 323.7M449.1 391.1L423.4 358.7L422.3 306.3M420.4 385L493.2 372.3L495 317.6M465.8 388.1L438.6 356.3L438.1 304.2M415.1 377.5L486.3 365.4L487.8 311.9M482.2 385.1L453.5 354L453.6 302.3M410 370.4L479.8 358.9L480.9 306.4M498.3 382.2L468.1 351.6L468.8 300.3M405.1 363.6L473.5 352.6L474.3 301.1M402.3 317.8L472.6 308.4L504.3 334.8M402.6 326.5L472.4 316.8L503.9 344M402.9 334.9L472.3 325L503.5 353M403.2 343.4L472.2 333.1L503.2 361.9M403.5 350.6L472.1 340.1L502.9 369.5M403.8 357.8L472 347.1L502.6 377.2" fill="none" stroke="#ababab" stroke-width="0.6"/>
<path d="M421 360.3L421.2 359L422.5 354.7L422.9 353.5L423.7 352.2L424.8 351.1L426.1 349.9L427.7 348.9L429.5 347.9L431.6 347L433.9 346.2L436.3 345.5L438.9 344.9L441.6 344.4L444.4 344.1L447.3 343.8L450.2 343.7L453.1 343.7L456 343.8L458.9 344.1L461.7 344.4L464.4 344.9L466.9 345.5L469.4 346.2L471.6 347L473.7 347.9L475.5 348.9L477.1 350L478.4 351.1L479.5 352.3L480.2 353.5L480.7 354.8L482 359L482.1 360.4L481.9 361.7L481.4 363.1L480.5 364.4L479.3 365.7L477.8 367L476 368.1L473.9 369.2L471.5 370.2L468.8 371L466 371.8L463 372.4L459.8 372.8L456.5 373.2L453.2 373.3L449.8 373.3L446.5 373.1L443.2 372.8L440.1 372.4L437 371.8L434.2 371L431.6 370.1L429.2 369.2L427.1 368.1L425.3 366.9L423.8 365.7L422.6 364.4L421.7 363L421.2 361.7ZM419.7 365L419.8 363.5L421.1 359L421.6 357.6L422.4 356.3L423.5 355.1L424.9 353.9L426.6 352.7L428.5 351.7L430.7 350.8L433 349.9L435.6 349.2L438.3 348.5L441.1 348L444 347.7L447 347.4L450 347.3L453.1 347.3L456.1 347.4L459.1 347.7L462 348.1L464.8 348.6L467.5 349.2L470 349.9L472.4 350.8L474.5 351.7L476.5 352.8L478.1 353.9L479.5 355.1L480.6 356.4L481.4 357.7L481.9 359L483.2 363.6L483.3 365L483.1 366.5L482.6 367.9L481.7 369.3L480.4 370.7L478.9 372L477 373.3L474.7 374.4L472.3 375.4L469.5 376.4L466.5 377.1L463.4 377.8L460.1 378.3L456.7 378.6L453.2 378.8L449.7 378.8L446.2 378.6L442.8 378.3L439.5 377.8L436.3 377.1L433.4 376.3L430.6 375.4L428.1 374.4L425.9 373.2L424.1 372L422.5 370.7L421.3 369.3L420.4 367.9L419.8 366.4ZM418.3 370L418.5 368.5L419.7 363.5L420.3 362.1L421.1 360.7L422.3 359.4L423.7 358.1L425.5 357L427.5 355.9L429.7 354.8L432.2 354L434.8 353.2L437.6 352.5L440.6 352L443.6 351.6L446.7 351.3L449.9 351.2L453 351.2L456.2 351.3L459.3 351.6L462.3 352L465.3 352.5L468.1 353.2L470.7 354L473.2 354.9L475.4 355.9L477.4 357L479.1 358.2L480.6 359.5L481.7 360.8L482.6 362.2L483.1 363.6L484.3 368.5L484.5 370L484.3 371.6L483.7 373.1L482.8 374.6L481.5 376L479.9 377.4L477.9 378.8L475.6 380L473 381.1L470.2 382L467.1 382.9L463.8 383.6L460.3 384.1L456.8 384.4L453.2 384.6L449.5 384.6L445.9 384.4L442.3 384.1L438.9 383.5L435.6 382.8L432.5 382L429.7 381L427.1 379.9L424.8 378.7L422.8 377.4L421.2 376L419.9 374.5L419 373L418.5 371.5Z" fill="#7c00f9" stroke="#7c00f9" stroke-width="0.35"/>
<path d="M425.2 348.4L425.3 347.2L425.7 346.1L427 342.9L427.7 341.9L428.6 340.9L429.7 339.9L431.1 339L432.7 338.2L434.5 337.5L436.4 336.8L438.5 336.2L440.8 335.7L443.1 335.3L445.6 335L448.1 334.8L450.6 334.7L453.1 334.7L455.7 334.8L458.1 335L460.6 335.3L462.9 335.7L465.2 336.2L467.3 336.8L469.2 337.5L471 338.2L472.6 339.1L473.9 340L475.1 340.9L476 341.9L476.6 342.9L477.9 346.2L478.3 347.3L478.4 348.4L478.2 349.5L477.8 350.7L477 351.8L475.9 352.8L474.6 353.9L473 354.8L471.1 355.7L469.1 356.5L466.8 357.2L464.3 357.9L461.7 358.4L458.9 358.7L456.1 359L453.2 359.1L450.3 359.1L447.4 359L444.6 358.7L441.8 358.3L439.2 357.8L436.8 357.2L434.5 356.5L432.4 355.7L430.6 354.8L429 353.8L427.6 352.8L426.6 351.7L425.8 350.6L425.4 349.5ZM423.8 352L423.9 350.8L425.2 347.2L425.6 346.1L426.3 345L427.3 344L428.5 343L430 342L431.6 341.2L433.5 340.4L435.6 339.6L437.8 339L440.1 338.5L442.6 338.1L445.2 337.7L447.8 337.5L450.4 337.4L453.1 337.4L455.8 337.5L458.4 337.8L461 338.1L463.4 338.5L465.8 339L468 339.7L470 340.4L471.9 341.2L473.6 342.1L475 343L476.2 344L477.2 345.1L477.8 346.2L479.1 349.7L479.5 350.9L479.7 352.1L479.5 353.3L479 354.5L478.2 355.7L477.1 356.8L475.7 357.9L474 358.9L472.1 359.9L469.9 360.7L467.5 361.5L464.9 362.2L462.1 362.7L459.2 363.1L456.2 363.4L453.2 363.5L450.1 363.5L447.1 363.4L444.1 363.1L441.2 362.7L438.5 362.1L435.9 361.5L433.5 360.7L431.3 359.9L429.4 358.9L427.7 357.9L426.3 356.8L425.2 355.6L424.4 354.4L424 353.2ZM422.4 356L422.5 354.7L423.8 350.8L424.3 349.6L425 348.5L426 347.4L427.3 346.3L428.8 345.3L430.6 344.4L432.5 343.5L434.7 342.8L437 342.1L439.5 341.5L442.1 341.1L444.8 340.8L447.5 340.5L450.3 340.4L453.1 340.4L455.9 340.5L458.6 340.8L461.3 341.1L463.9 341.6L466.4 342.1L468.7 342.8L470.8 343.6L472.8 344.4L474.6 345.3L476.1 346.3L477.3 347.4L478.3 348.5L479 349.7L479.5 350.9L480.8 354.8L480.9 356.1L480.7 357.4L480.2 358.6L479.4 359.9L478.2 361.1L476.8 362.3L475 363.4L473 364.4L470.7 365.3L468.2 366.1L465.4 366.8L462.5 367.4L459.5 367.8L456.4 368.1L453.2 368.2L450 368.2L446.8 368.1L443.7 367.8L440.7 367.3L437.8 366.8L435.1 366.1L432.5 365.3L430.3 364.3L428.2 363.3L426.5 362.2L425 361.1L423.9 359.8L423.1 358.6L422.6 357.3Z" fill="#11dee2" stroke="#11dee2" stroke-width="0.35"/>
<path d="M431.7 333.9L432.5 333.1L433.4 332.4L434.6 331.6L435.9 331L437.4 330.3L439 329.8L440.8 329.3L442.7 328.9L444.7 328.6L446.7 328.3L448.8 328.2L451 328.1L453.1 328.1L455.3 328.2L457.4 328.3L459.4 328.6L461.4 328.9L463.3 329.3L465 329.8L466.7 330.4L468.2 331L469.5 331.7L470.6 332.4L471.6 333.1L472.3 334L472.8 334.8L474.2 337.2L474.5 338.2L474.6 339.1L474.4 340L474 340.9L473.3 341.8L472.4 342.7L471.3 343.5L469.9 344.3L468.3 345L466.6 345.7L464.6 346.3L462.5 346.8L460.3 347.2L458 347.5L455.6 347.7L453.2 347.8L450.7 347.8L448.3 347.7L445.9 347.5L443.6 347.2L441.4 346.8L439.3 346.3L437.4 345.7L435.6 345L434.1 344.3L432.7 343.5L431.6 342.7L430.7 341.8L430 340.9L429.6 340L429.4 339.1L429.5 338.1L429.9 337.2L431.2 334.8ZM430.4 336.3L431.2 335.5L432.2 334.6L433.4 333.9L434.8 333.1L436.4 332.5L438.2 331.9L440.1 331.4L442.1 330.9L444.2 330.6L446.3 330.3L448.6 330.1L450.8 330.1L453.1 330.1L455.4 330.1L457.6 330.3L459.8 330.6L461.9 331L463.9 331.4L465.8 331.9L467.5 332.5L469.1 333.2L470.5 333.9L471.7 334.7L472.7 335.5L473.5 336.3L474.1 337.2L475.4 339.9L475.8 340.9L475.9 341.9L475.7 342.9L475.3 343.9L474.6 344.9L473.6 345.8L472.4 346.7L470.9 347.5L469.3 348.3L467.4 349L465.3 349.6L463.1 350.2L460.8 350.6L458.3 350.9L455.8 351.2L453.2 351.3L450.6 351.3L448 351.2L445.5 350.9L443 350.6L440.7 350.2L438.5 349.6L436.4 349L434.5 348.3L432.9 347.5L431.4 346.7L430.3 345.8L429.3 344.8L428.6 343.9L428.2 342.9L428 341.9L428.1 340.9L428.5 339.9L429.8 337.2ZM429 339L429.9 338L431 337.1L432.3 336.3L433.8 335.6L435.4 334.8L437.3 334.2L439.3 333.7L441.4 333.2L443.6 332.8L445.9 332.5L448.3 332.4L450.7 332.3L453.1 332.3L455.5 332.4L457.9 332.6L460.2 332.8L462.4 333.2L464.5 333.7L466.5 334.2L468.4 334.9L470.1 335.6L471.6 336.4L472.8 337.2L473.9 338.1L474.8 339L475.4 339.9L476.7 342.9L477 344L477.1 345L477 346.1L476.5 347.1L475.8 348.2L474.8 349.2L473.5 350.1L472 351L470.2 351.9L468.2 352.6L466.1 353.3L463.7 353.9L461.2 354.3L458.6 354.7L455.9 354.9L453.2 355L450.4 355L447.7 354.9L445 354.7L442.4 354.3L439.9 353.8L437.6 353.3L435.4 352.6L433.5 351.8L431.7 351L430.2 350.1L428.9 349.2L427.9 348.1L427.2 347.1L426.8 346.1L426.6 345L426.7 343.9L427.1 342.9L428.4 339.9Z" fill="#94f992" stroke="#94f992" stroke-width="0.35"/>
<path d="M453.1 338.9L451.1 338.9L449.2 338.8L447.2 338.6L445.4 338.4L443.6 338.1L441.9 337.7L440.3 337.2L438.9 336.7L437.6 336.1L436.5 335.5L435.5 334.9L434.8 334.2L434.2 333.5L433.9 332.7L433.8 332L433.8 331.3L434.1 330.5L434.5 329.8L435.8 328.1L436.4 327.4L437.2 326.8L438.1 326.3L439.2 325.7L440.4 325.3L441.7 324.8L443.1 324.4L444.7 324.1L446.2 323.9L447.9 323.7L449.6 323.5L451.3 323.5L453.1 323.5L454.8 323.5L456.5 323.7L458.2 323.9L459.7 324.1L461.3 324.5L462.7 324.8L464 325.3L465.2 325.8L466.3 326.3L467.2 326.9L467.9 327.5L468.5 328.1L469.8 329.8L470.3 330.6L470.5 331.3L470.6 332L470.4 332.8L470.1 333.5L469.5 334.2L468.8 334.9L467.8 335.5L466.7 336.2L465.4 336.7L464 337.2L462.4 337.7L460.7 338.1L458.9 338.4L457 338.6L455.1 338.8ZM453.1 341.6L451 341.6L448.9 341.5L446.8 341.3L444.8 341.1L442.8 340.7L441 340.3L439.3 339.8L437.8 339.2L436.4 338.6L435.2 338L434.2 337.2L433.4 336.5L432.8 335.7L432.5 334.9L432.3 334.1L432.4 333.3L432.7 332.5L433.2 331.8L434.5 329.8L435.1 329.1L435.9 328.5L436.9 327.9L438.1 327.3L439.4 326.8L440.8 326.3L442.4 325.9L444 325.5L445.7 325.2L447.5 325L449.4 324.9L451.2 324.8L453.1 324.8L455 324.9L456.8 325L458.6 325.2L460.3 325.5L461.9 325.9L463.5 326.3L464.9 326.8L466.2 327.3L467.3 327.9L468.3 328.5L469.1 329.2L469.8 329.8L471.1 331.8L471.6 332.6L471.9 333.4L471.9 334.2L471.8 334.9L471.4 335.7L470.8 336.5L470 337.3L469 338L467.8 338.6L466.4 339.3L464.9 339.8L463.2 340.3L461.3 340.7L459.4 341.1L457.4 341.3L455.3 341.5ZM453.2 344.6L450.9 344.6L448.6 344.5L446.4 344.3L444.2 344L442.1 343.6L440.2 343.2L438.3 342.6L436.7 342L435.2 341.3L434 340.6L432.9 339.8L432 339L431.4 338.2L431 337.3L430.9 336.5L431 335.6L431.3 334.8L432.6 332.5L433.1 331.8L433.8 331L434.7 330.3L435.8 329.6L437 329L438.4 328.4L439.9 327.9L441.6 327.5L443.4 327.1L445.2 326.8L447.1 326.6L449.1 326.4L451.1 326.3L453.1 326.3L455.1 326.4L457.1 326.6L459 326.8L460.8 327.1L462.6 327.5L464.3 328L465.8 328.5L467.2 329L468.4 329.7L469.5 330.3L470.4 331L471 331.8L471.5 332.6L472.9 334.8L473.2 335.6L473.3 336.5L473.1 337.4L472.7 338.2L472.1 339.1L471.2 339.9L470.1 340.6L468.8 341.4L467.4 342L465.7 342.6L463.9 343.2L461.9 343.6L459.9 344L457.7 344.3L455.4 344.5Z" fill="#f9b556" stroke="#f9b556" stroke-width="0.35"/>
<path d="M453.1 333L451.5 333L449.9 332.9L448.3 332.8L446.8 332.6L445.3 332.4L444 332.1L442.7 331.7L441.5 331.3L440.5 330.9L439.6 330.4L438.8 329.8L438.2 329.3L437.8 328.7L437.5 328.2L437.4 327.6L437.4 327L437.6 326.4L438 325.8L438.5 325.3L440.4 323.5L441 323.1L441.7 322.6L442.5 322.3L443.4 321.9L444.4 321.6L445.4 321.3L446.6 321L447.8 320.9L449.1 320.7L450.3 320.6L451.6 320.6L453 320.6L454.3 320.6L455.6 320.7L456.8 320.9L458 321.1L459.2 321.3L460.2 321.6L461.2 321.9L462.1 322.3L462.9 322.7L463.6 323.1L464.2 323.5L466.1 325.3L466.6 325.9L467 326.4L467.2 327L467.2 327.6L467.1 328.2L466.8 328.8L466.3 329.3L465.7 329.9L464.9 330.4L464 330.9L463 331.3L461.8 331.7L460.5 332.1L459.2 332.4L457.7 332.6L456.2 332.8L454.6 332.9ZM435.2 330.1L435.2 329.4L435.5 328.7L435.9 328.1L437.9 325.8L438.4 325.3L439.1 324.8L439.9 324.3L440.8 323.8L441.9 323.4L443 323L444.3 322.7L445.6 322.4L447 322.2L448.5 322L450 321.9L451.5 321.8L453 321.8L454.5 321.9L456 322L457.5 322.2L458.9 322.4L460.2 322.7L461.5 323L462.6 323.4L463.7 323.8L464.6 324.3L465.4 324.8L466 325.3L466.6 325.9L468.6 328.1L469 328.8L469.2 329.4L469.2 330.1L469.1 330.8L468.8 331.4L468.3 332.1L467.6 332.7L466.7 333.3L465.7 333.9L464.5 334.4L463.1 334.9L461.7 335.3L460.1 335.6L458.4 335.9L456.7 336.2L454.9 336.3L453.1 336.4L451.3 336.4L449.4 336.3L447.7 336.1L445.9 335.9L444.3 335.6L442.7 335.3L441.3 334.9L439.9 334.4L438.7 333.9L437.7 333.3L436.8 332.7L436.2 332.1L435.7 331.4L435.3 330.8Z" fill="#f96a30" stroke="#f96a30" stroke-width="0.35"/>
<path d="M452.9 327.5L451.8 327.5L450.7 327.5L449.6 327.4L448.5 327.3L447.4 327.1L446.5 326.9L445.6 326.6L444.7 326.4L444 326L443.3 325.7L442.8 325.3L442.3 325L442 324.6L441.8 324.1L441.7 323.7L441.7 323.3L441.9 322.9L442.1 322.5L442.5 322.1L442.9 321.8L443.5 321.4L445.3 320.5L445.8 320.2L446.4 320L447.1 319.8L447.8 319.6L448.6 319.4L449.4 319.3L450.2 319.2L451.1 319.1L452 319.1L452.8 319.1L453.7 319.1L454.6 319.2L455.4 319.3L456.2 319.4L457 319.6L457.7 319.8L458.4 320L459 320.2L459.5 320.5L461.3 321.4L461.8 321.8L462.3 322.1L462.7 322.5L462.9 322.9L463.1 323.3L463.1 323.8L463 324.2L462.8 324.6L462.4 325L462 325.4L461.4 325.7L460.8 326.1L460 326.4L459.2 326.7L458.3 326.9L457.3 327.1L456.3 327.3L455.2 327.4L454.1 327.5ZM453 330.1L451.6 330.1L450.3 330L448.9 329.9L447.6 329.8L446.4 329.5L445.2 329.3L444.1 329L443.1 328.6L442.2 328.3L441.5 327.8L440.8 327.4L440.3 326.9L439.9 326.5L439.6 326L439.5 325.5L439.6 325L439.7 324.5L440 324L440.5 323.5L441 323.1L442.9 321.8L443.5 321.4L444.1 321.1L444.9 320.8L445.7 320.5L446.6 320.3L447.6 320.1L448.6 319.9L449.6 319.8L450.7 319.7L451.8 319.7L452.9 319.7L454 319.7L455.1 319.8L456.1 319.9L457.1 320.1L458.1 320.3L459 320.5L459.8 320.8L460.6 321.1L461.2 321.4L461.8 321.8L463.7 323.1L464.2 323.5L464.7 324L465 324.5L465.1 325L465.1 325.5L465 326L464.8 326.5L464.4 327L463.8 327.4L463.2 327.9L462.4 328.3L461.5 328.7L460.5 329L459.4 329.3L458.2 329.6L457 329.8L455.7 329.9L454.4 330Z" fill="#f93217" stroke="#f93217" stroke-width="0.35"/>
<path d="M446 321.3L446 321.1L446.1 320.8L446.3 320.6L446.5 320.3L446.8 320.1L447.1 319.9L447.5 319.7L448 319.5L448.5 319.4L449 319.2L449.6 319.1L450.2 319L450.8 318.9L451.5 318.9L452.1 318.9L452.8 318.9L453.5 318.9L454.1 318.9L454.7 319L455.4 319.1L455.9 319.2L456.5 319.4L457 319.5L457.4 319.7L457.8 319.9L458.2 320.1L458.4 320.3L458.6 320.6L458.8 320.8L458.9 321.1L458.9 321.3L458.8 321.6L458.7 321.8L458.5 322L458.2 322.3L457.9 322.5L457.5 322.7L457 322.9L456.5 323L456 323.2L455.4 323.3L454.8 323.4L454.1 323.5L453.5 323.5L452.8 323.5L452.1 323.5L451.4 323.5L450.8 323.5L450.1 323.4L449.5 323.3L448.9 323.2L448.4 323L447.9 322.8L447.4 322.7L447 322.5L446.7 322.2L446.4 322L446.2 321.8L446.1 321.5ZM443.9 322.4L443.9 322L444 321.7L444.2 321.4L444.5 321.1L444.9 320.8L445.3 320.5L445.8 320.2L446.4 320L447.1 319.8L448.4 319.4L449 319.2L449.5 319.1L450.2 319L450.8 318.9L451.4 318.9L452.1 318.9L452.8 318.9L453.4 318.9L454.1 318.9L454.7 319L455.3 319.1L455.9 319.2L456.4 319.4L457.8 319.8L458.4 320L459 320.2L459.6 320.5L460 320.8L460.4 321.1L460.7 321.4L460.9 321.7L461 322L461 322.4L460.9 322.7L460.7 323L460.4 323.3L460.1 323.6L459.6 323.9L459.1 324.2L458.5 324.4L457.9 324.7L457.1 324.9L456.3 325L455.5 325.2L454.7 325.3L453.8 325.3L452.9 325.4L452 325.4L451.1 325.3L450.2 325.3L449.3 325.2L448.5 325L447.7 324.9L447 324.7L446.3 324.4L445.7 324.2L445.2 323.9L444.7 323.6L444.4 323.3L444.1 323L444 322.7Z" fill="#f91007" stroke="#f91007" stroke-width="0.35"/>
<path d="M448.2 320.5L448.2 320.4L448.3 320.2L448.3 320.1L448.5 319.9L448.7 319.8L448.9 319.6L449.2 319.5L449.5 319.4L449.8 319.3L450.2 319.2L450.6 319.1L451 319L451.4 319L451.8 318.9L452.3 318.9L452.7 318.9L453.2 318.9L453.6 319L454 319L454.4 319.1L454.8 319.2L455.2 319.3L455.5 319.4L455.8 319.5L456.1 319.6L456.3 319.8L456.5 319.9L456.6 320.1L456.7 320.2L456.8 320.4L456.8 320.5L456.7 320.7L456.6 320.9L456.5 321L456.3 321.2L456.1 321.3L455.8 321.5L455.5 321.6L455.2 321.7L454.8 321.8L454.4 321.9L454 321.9L453.6 322L453.1 322L452.7 322L452.2 322L451.8 322L451.4 322L450.9 321.9L450.5 321.9L450.1 321.8L449.8 321.7L449.4 321.6L449.1 321.4L448.9 321.3L448.6 321.2L448.5 321L448.3 320.9L448.2 320.7Z" fill="#f90000" stroke="#f90000" stroke-width="0.35"/>
<path d="M424.3 360.3h1.3v-0.8h-1.3zM425.6 361.5h1.3v-0.5h-1.3zM428.2 363.3h1.3v-0.9h-1.3zM430.8 364.6h1.3v-1.1h-1.3zM433.4 365.5h1.3v-0.6h-1.3zM437.3 366.7h1.3v-1.1h-1.3zM438.6 366.9h1.3v-0.6h-1.3zM439.9 367.2h1.3v-0.7h-1.3zM445.1 367.9h1.3v-0.3h-1.3zM446.4 368h1.3v-0.8h-1.3zM447.7 368.1h1.3v-0.3h-1.3zM449 368.2h1.3v-0.9h-1.3zM451.6 368.2h1.3v-0.9h-1.3zM458.1 367.9h1.3v-0.3h-1.3zM462 367.4h1.3v-0.5h-1.3zM463.3 367.2h1.3v-0.4h-1.3zM465.9 366.7h1.3v-0.3h-1.3zM467.2 366.3h1.3v-0.8h-1.3zM469.8 365.6h1.3v-1h-1.3zM471.1 365.1h1.3v-0.3h-1.3zM472.4 364.6h1.3v-0.7h-1.3zM475 363.4h1.3v-0.9h-1.3zM476.3 362.5h1.3v-0.8h-1.3zM477.6 361.6h1.3v-0.3h-1.3zM480.2 358.6h1.3v-0.5h-1.3z" fill="#7c00f9"/>
<path d="M423 353.5h1.3v0.7h-1.3zM426.9 362.5h1.3v0.4h-1.3zM429.5 364h1.3v0.5h-1.3zM432.1 365.1h1.3v0.3h-1.3zM434.7 366h1.3v0.8h-1.3zM436 366.3h1.3v0.3h-1.3zM441.2 367.4h1.3v0.7h-1.3zM442.5 367.6h1.3v0.7h-1.3zM443.8 367.8h1.3v0.4h-1.3zM450.3 368.2h1.3v0.3h-1.3zM452.9 368.2h1.3v0.4h-1.3zM454.2 368.2h1.3v0.9h-1.3zM455.5 368.1h1.3v0.7h-1.3zM456.8 368h1.3v1.1h-1.3zM459.4 367.8h1.3v0.7h-1.3zM460.7 367.6h1.3v0.8h-1.3zM464.6 367h1.3v0.4h-1.3zM468.5 366h1.3v0.5h-1.3zM473.7 364h1.3v0.7h-1.3zM478.9 360.4h1.3v0.3h-1.3z" fill="#11dee2"/>
<path d="M427.2 346.6h1.3v-0.6h-1.3zM428.5 348.7h1.3v-0.2h-1.3zM429.8 349.8h1.3v-1h-1.3zM431.1 350.6h1.3v-0.6h-1.3zM438.9 353.6h1.3v-0.2h-1.3zM440.2 353.9h1.3v-0.2h-1.3zM442.8 354.4h1.3v-0.7h-1.3zM446.7 354.8h1.3v-0.2h-1.3zM448 354.9h1.3v-0.9h-1.3zM451.9 355h1.3v-0.2h-1.3zM453.2 355h1.3v-0.8h-1.3zM454.5 355h1.3v-0.4h-1.3zM461 354.4h1.3v-0.3h-1.3zM466.2 353.3h1.3v-1.1h-1.3zM467.5 352.9h1.3v-0.7h-1.3zM474 349.8h1.3v-0.6h-1.3z" fill="#11dee2"/>
<path d="M432.4 351.3h1.3v0.9h-1.3zM433.7 351.9h1.3v0.5h-1.3zM435 352.4h1.3v0.6h-1.3zM436.3 352.9h1.3v0.7h-1.3zM437.6 353.3h1.3v1h-1.3zM441.5 354.1h1.3v0.9h-1.3zM444.1 354.5h1.3v0.9h-1.3zM445.4 354.7h1.3v0.5h-1.3zM449.3 355h1.3v0.3h-1.3zM450.6 355h1.3v0.8h-1.3zM455.8 354.9h1.3v0.4h-1.3zM457.1 354.8h1.3v0.2h-1.3zM458.4 354.7h1.3v1h-1.3zM459.7 354.5h1.3v0.5h-1.3zM462.3 354.1h1.3v0.4h-1.3zM463.6 353.9h1.3v1h-1.3zM464.9 353.6h1.3v0.5h-1.3zM468.8 352.4h1.3v0.3h-1.3zM470.1 351.9h1.3v0.3h-1.3zM471.4 351.3h1.3v0.3h-1.3zM472.7 350.6h1.3v0.9h-1.3zM475.3 348.7h1.3v0.6h-1.3z" fill="#94f992"/>
<path d="M431.5 337.5h1.3v-0.9h-1.3zM432.8 339.7h1.3v-0.5h-1.3zM436.7 342h1.3v-0.3h-1.3zM440.6 343.3h1.3v-1h-1.3zM441.9 343.6h1.3v-0.7h-1.3zM445.8 344.2h1.3v-0.5h-1.3zM447.1 344.3h1.3v-0.8h-1.3zM449.7 344.5h1.3v-0.4h-1.3zM451 344.6h1.3v-0.6h-1.3zM452.3 344.6h1.3v-0.9h-1.3zM458.8 344.1h1.3v-0.3h-1.3zM460.1 344h1.3v-1h-1.3zM464 343.1h1.3v-1.1h-1.3zM469.2 341.2h1.3v-0.4h-1.3zM470.5 340.4h1.3v-0.8h-1.3zM471.8 339.3h1.3v-0.4h-1.3z" fill="#94f992"/>
<path d="M434.1 340.7h1.3v0.4h-1.3zM435.4 341.4h1.3v1h-1.3zM438 342.5h1.3v1h-1.3zM439.3 342.9h1.3v0.5h-1.3zM443.2 343.8h1.3v0.4h-1.3zM444.5 344h1.3v0.4h-1.3zM448.4 344.4h1.3v0.3h-1.3zM453.6 344.5h1.3v0.2h-1.3zM454.9 344.5h1.3v0.7h-1.3zM456.2 344.4h1.3v1h-1.3zM457.5 344.3h1.3v0.2h-1.3zM461.4 343.7h1.3v0.9h-1.3zM462.7 343.5h1.3v0.9h-1.3zM465.3 342.8h1.3v1h-1.3zM466.6 342.3h1.3v0.7h-1.3zM467.9 341.8h1.3v0.6h-1.3z" fill="#f9b556"/>
<path d="M438.4 333.7h1.3v-0.7h-1.3zM439.7 334.3h1.3v-1h-1.3zM441 334.8h1.3v-0.8h-1.3zM442.3 335.2h1.3v-0.9h-1.3zM446.2 336h1.3v-0.4h-1.3zM447.5 336.1h1.3v-0.3h-1.3zM448.8 336.2h1.3v-0.5h-1.3zM450.1 336.3h1.3v-0.6h-1.3zM451.4 336.4h1.3v-0.2h-1.3zM454 336.3h1.3v-0.6h-1.3zM455.3 336.3h1.3v-0.3h-1.3zM460.5 335.6h1.3v-0.5h-1.3zM463.1 334.9h1.3v-0.2h-1.3zM464.4 334.4h1.3v-0.3h-1.3zM465.7 333.9h1.3v-0.4h-1.3zM467 333.1h1.3v-0.6h-1.3zM468.3 331.6h1.3v-0.7h-1.3z" fill="#f9b556"/>
<path d="M435.8 329.5h1.3v0.9h-1.3zM437.1 332.9h1.3v1h-1.3zM443.6 335.5h1.3v1.1h-1.3zM444.9 335.7h1.3v0.7h-1.3zM452.7 336.4h1.3v1.1h-1.3zM456.6 336.2h1.3v0.8h-1.3zM457.9 336h1.3v0.6h-1.3zM459.2 335.8h1.3v0.9h-1.3zM461.8 335.3h1.3v0.3h-1.3z" fill="#f96a30"/>
<path d="M440.1 325.1h1.3v-0.6h-1.3zM441.4 327.8h1.3v-0.3h-1.3zM442.7 328.5h1.3v-0.8h-1.3zM445.3 329.3h1.3v-0.2h-1.3zM449.2 329.9h1.3v-0.3h-1.3zM451.8 330.1h1.3v-0.8h-1.3zM453.1 330.1h1.3v-1h-1.3zM454.4 330h1.3v-0.2h-1.3zM457 329.8h1.3v-0.7h-1.3zM458.3 329.5h1.3v-0.7h-1.3zM459.6 329.2h1.3v-0.9h-1.3zM460.9 328.8h1.3v-0.3h-1.3z" fill="#f96a30"/>
<path d="M444 328.9h1.3v0.8h-1.3zM446.6 329.6h1.3v0.5h-1.3zM447.9 329.8h1.3v0.6h-1.3zM450.5 330h1.3v0.3h-1.3zM455.7 329.9h1.3v0.8h-1.3zM462.2 328.3h1.3v0.9h-1.3zM463.5 327.6h1.3v0.4h-1.3z" fill="#f93217"/>
<path d="M444.5 323.4h1.3v-1h-1.3zM445.8 324.2h1.3v-0.2h-1.3zM447.1 324.7h1.3v-0.6h-1.3zM448.4 325h1.3v-0.4h-1.3zM449.7 325.2h1.3v-1h-1.3zM451 325.3h1.3v-1h-1.3zM453.6 325.4h1.3v-1.1h-1.3zM456.2 325.1h1.3v-0.7h-1.3zM457.5 324.8h1.3v-0.5h-1.3zM460.1 323.7h1.3v-1h-1.3z" fill="#f93217"/>
<path d="M452.3 325.4h1.3v0.9h-1.3zM454.9 325.2h1.3v0.4h-1.3zM458.8 324.3h1.3v0.7h-1.3z" fill="#f91007"/>
<path d="M450.1 321.8h1.3v-0.5h-1.3zM455.3 321.6h1.3v-0.3h-1.3z" fill="#f91007"/>
<path d="M448.8 321.3h1.3v1.1h-1.3zM451.4 322h1.3v1h-1.3zM452.7 322h1.3v0.8h-1.3zM454 321.9h1.3v0.6h-1.3z" fill="#f90000"/>
<path d="M448.5 320.5l0.8 -1.8l0.8 1.8zM450.1 320.5l0.8 -1.1l0.8 1.1zM451.5 320.5l0.8 -1.1l0.8 1.1zM452.9 320.5l0.8 -1l0.8 1zM454.5 320.5l0.8 -1.4l0.8 1.4z" fill="#f90000"/>
<path d="M402 308.9L403.9 361.9L427.6 395L502.4 381.5" fill="none" stroke="#333" stroke-width="0.65"/>
<path d="M431.4 393.2L433 395.5M427.3 392.7L424.5 393.2M448.4 390.2L450.1 392.4M421.6 384.8L418.9 385.3M465.1 387.2L466.9 389.3M416.3 377.3L413.5 377.8M481.4 384.2L483.3 386.3M411.2 370.2L408.4 370.6M497.5 381.3L499.4 383.3M406.3 363.4L403.5 363.8M400.7 317.8L403.5 317.8M401 326.5L403.8 326.5M401.3 334.9L404.1 334.9M401.6 343.4L404.4 343.4M401.9 350.6L404.7 350.6M402.2 357.8L405 357.8" fill="none" stroke="#333" stroke-width="0.6"/>
<g font-size="7.3" text-anchor="middle" stroke="#111" stroke-width="0.08"><text x="399.7" y="319.9" text-anchor="end"><tspan fill="#6a6a6a" stroke="none">−</tspan><tspan dx="0.5">6.5</tspan></text><text x="399.7" y="328.4" text-anchor="end"><tspan fill="#6a6a6a" stroke="none">−</tspan><tspan dx="0.5">7.0</tspan></text><text x="399.7" y="336.8" text-anchor="end"><tspan fill="#6a6a6a" stroke="none">−</tspan><tspan dx="0.5">7.5</tspan></text><text x="399.7" y="345.3" text-anchor="end"><tspan fill="#6a6a6a" stroke="none">−</tspan><tspan dx="0.5">8.0</tspan></text><text x="399.7" y="352.6" text-anchor="end"><tspan fill="#6a6a6a" stroke="none">−</tspan><tspan dx="0.5">8.5</tspan></text><text x="399.7" y="360.1" text-anchor="end"><tspan fill="#6a6a6a" stroke="none">−</tspan><tspan dx="0.5">9.0</tspan></text><text x="395.5" y="370.9">1.0</text><text x="399.6" y="379">0.5</text><text x="405.4" y="386.6">0.0</text><text x="405.8" y="394.1"><tspan fill="#6a6a6a" stroke="none">−</tspan><tspan dx="0.5">0.5</tspan></text><text x="413.1" y="402.6"><tspan fill="#6a6a6a" stroke="none">−</tspan><tspan dx="0.5">1.0</tspan></text><text x="435.8" y="407.8"><tspan fill="#6a6a6a" stroke="none">−</tspan><tspan dx="0.5">1.0</tspan></text><text x="454" y="404.7"><tspan fill="#6a6a6a" stroke="none">−</tspan><tspan dx="0.5">0.5</tspan></text><text x="470.3" y="401">0.0</text><text x="485.4" y="398.1">0.5</text><text x="502" y="395.7">1.0</text></g>
<g font-size="6.8" text-anchor="middle" stroke="#111" stroke-width="0.08"><text transform="translate(477.3 406.3) rotate(-10)" y="1.7">field x</text><text transform="translate(392.2 390.7) rotate(52)" y="1.7">field y</text><text transform="translate(381 343) rotate(90)" y="1.7">difference in S<tspan font-size="4.4" dy="1.4">2</tspan><tspan dy="-1.4"> change</tspan></text></g>
<text x="381.8" y="302.1" font-size="6.4" stroke="#111" stroke-width="0.16">1.0 × 10<tspan font-size="3.3" dy="-2.5">−11</tspan></text>
<rect x="519.7" y="317.4" width="12.4" height="59.3" fill="url(#rb)" stroke="#222" stroke-opacity="0.55" stroke-width="0.4"/>
<path d="M532.1 338.8h2M532.1 361.5h2" fill="none" stroke="#333" stroke-width="0.55"/>
<g font-size="6.84" stroke="#111" stroke-width="0.08"><text x="534.3" y="341.1"><tspan fill="#6a6a6a" stroke="none">−</tspan><tspan dx="0.5">7.0</tspan></text><text x="534.3" y="363.8"><tspan fill="#6a6a6a" stroke="none">−</tspan><tspan dx="0.5">8.0</tspan></text></g>
<text x="527" y="314.1" font-size="6.4" text-anchor="middle" stroke="#111" stroke-width="0.16">1.0 × 10<tspan font-size="3.3" dy="-2.5">−11</tspan></text>
</g>
<g font-size="15.5" text-anchor="middle"><text x="110.5" y="15.8">Reference</text><text x="281.1" y="16.5">Deep learning</text><text x="458" y="17.8">Difference</text></g>
<text x="3.1" y="81.2" font-size="16.2">S<tspan font-size="9.6" dy="4.8" dx="-0.4">0</tspan></text>
<text x="4.4" y="214.4" font-size="16.2">S<tspan font-size="9.6" dy="4.8" dx="-0.4">1</tspan></text>
<text x="2.7" y="343.7" font-size="16.2">S<tspan font-size="9.6" dy="4.8" dx="-0.4">2</tspan></text>
</svg>
</body></html>
